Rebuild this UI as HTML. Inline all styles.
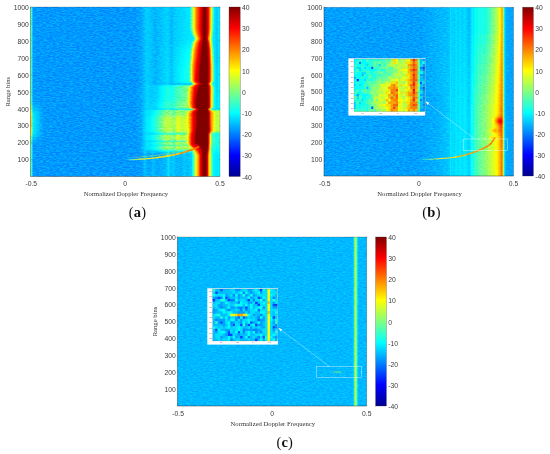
<!DOCTYPE html>
<html><head><meta charset="utf-8"><title>Figure</title>
<style>html,body{margin:0;padding:0;background:#fff}svg{display:block}
text{font-family:"Liberation Sans",sans-serif;fill:#3c3c3c}
.t{font-size:6.8px}.s{font-family:"Liberation Serif",serif;font-size:6.65px;fill:#333}
.c{font-family:"Liberation Serif",serif;font-size:14.5px;letter-spacing:.2px;fill:#111}
</style></head><body>
<svg width="550" height="454" viewBox="0 0 550 454">
<defs><linearGradient id="jet" x1="0" y1="0" x2="0" y2="1"><stop offset="0" stop-color="#800000"/><stop offset=".125" stop-color="#f00"/><stop offset=".375" stop-color="#ff0"/><stop offset=".5" stop-color="#80ff80"/><stop offset=".625" stop-color="#0ff"/><stop offset=".875" stop-color="#00f"/><stop offset="1" stop-color="#00008f"/></linearGradient><filter id="vb" x="-5%" y="-5%" width="110%" height="110%"><feGaussianBlur stdDeviation="0.35 0.7"/></filter><filter id="cb" x="-5%" y="-50%" width="110%" height="200%"><feGaussianBlur stdDeviation="0.5"/></filter><filter id="ib" x="-2%" y="-2%" width="104%" height="104%"><feGaussianBlur stdDeviation="0.45"/></filter><filter id="nz" x="0" y="0" width="100%" height="100%" color-interpolation-filters="sRGB"><feTurbulence type="fractalNoise" baseFrequency="0.3 0.8" numOctaves="2" seed="7"/><feColorMatrix type="matrix" values="2.6 0 0 0 -0.8  2.6 0 0 0 -0.8  2.6 0 0 0 -0.8  0 0 0 0 1"/></filter><clipPath id="ac"><rect x="30.50" y="7.00" width="189.50" height="169.50"/></clipPath><linearGradient id="a0" gradientUnits="userSpaceOnUse" x1="30.5" x2="220.0"><stop offset="0" stop-color="#6f9"/><stop offset=".003" stop-color="#6f9"/><stop offset=".008" stop-color="#01fffe"/><stop offset=".013" stop-color="#09f"/><stop offset=".555" stop-color="#09f"/><stop offset=".582" stop-color="#00a5ff"/><stop offset=".613" stop-color="#00d0ff"/><stop offset=".661" stop-color="#00b4ff"/><stop offset=".724" stop-color="#00d4ff"/><stop offset=".745" stop-color="#00b7ff"/><stop offset=".761" stop-color="#0cf"/><stop offset=".839" stop-color="#00e7ff"/><stop offset=".845" stop-color="#25ffda"/><stop offset=".861" stop-color="#e6ff19"/><stop offset=".866" stop-color="#ffdf00"/><stop offset=".876" stop-color="#ff7900"/><stop offset=".897" stop-color="#f90000"/><stop offset=".913" stop-color="#8d0000"/><stop offset=".918" stop-color="#800000"/><stop offset=".924" stop-color="#800000"/><stop offset=".939" stop-color="#ff0300"/><stop offset=".95" stop-color="#ffc400"/><stop offset=".955" stop-color="#d7ff28"/><stop offset=".966" stop-color="#24ffdb"/><stop offset=".971" stop-color="#00e5ff"/><stop offset=".982" stop-color="#0cf"/><stop offset=".987" stop-color="#00cfff"/><stop offset=".997" stop-color="#00f2ff"/><stop offset="1" stop-color="#00f2ff"/></linearGradient><linearGradient id="a1" gradientUnits="userSpaceOnUse" x1="30.5" x2="220.0"><stop offset="0" stop-color="#6f9"/><stop offset=".003" stop-color="#6f9"/><stop offset=".008" stop-color="#01fffe"/><stop offset=".013" stop-color="#09f"/><stop offset=".555" stop-color="#09f"/><stop offset=".582" stop-color="#00a5ff"/><stop offset=".613" stop-color="#00d0ff"/><stop offset=".661" stop-color="#00b4ff"/><stop offset=".724" stop-color="#00d4ff"/><stop offset=".745" stop-color="#00b7ff"/><stop offset=".761" stop-color="#0cf"/><stop offset=".839" stop-color="#00e7ff"/><stop offset=".845" stop-color="#26ffd9"/><stop offset=".861" stop-color="#ebff14"/><stop offset=".866" stop-color="#ffda00"/><stop offset=".876" stop-color="#ff7600"/><stop offset=".892" stop-color="#ff1500"/><stop offset=".897" stop-color="#f20000"/><stop offset=".913" stop-color="#870000"/><stop offset=".924" stop-color="#800000"/><stop offset=".929" stop-color="#a30000"/><stop offset=".939" stop-color="#ff0300"/><stop offset=".95" stop-color="#ffc800"/><stop offset=".955" stop-color="#d2ff2d"/><stop offset=".966" stop-color="#16ffe9"/><stop offset=".971" stop-color="#00e5ff"/><stop offset=".982" stop-color="#0cf"/><stop offset=".987" stop-color="#00cfff"/><stop offset=".997" stop-color="#00f2ff"/><stop offset="1" stop-color="#00f2ff"/></linearGradient><linearGradient id="a2" gradientUnits="userSpaceOnUse" x1="30.5" x2="220.0"><stop offset="0" stop-color="#6f9"/><stop offset=".003" stop-color="#6f9"/><stop offset=".008" stop-color="#01fffe"/><stop offset=".013" stop-color="#09f"/><stop offset=".555" stop-color="#09f"/><stop offset=".582" stop-color="#00a5ff"/><stop offset=".613" stop-color="#00d0ff"/><stop offset=".661" stop-color="#00b4ff"/><stop offset=".724" stop-color="#00d4ff"/><stop offset=".745" stop-color="#00b7ff"/><stop offset=".761" stop-color="#0cf"/><stop offset=".839" stop-color="#00e7ff"/><stop offset=".845" stop-color="#25ffda"/><stop offset=".861" stop-color="#ef1"/><stop offset=".866" stop-color="#ffd800"/><stop offset=".876" stop-color="#ff7400"/><stop offset=".892" stop-color="#ff1000"/><stop offset=".897" stop-color="#ed0000"/><stop offset=".913" stop-color="#830000"/><stop offset=".924" stop-color="#800000"/><stop offset=".929" stop-color="#a00000"/><stop offset=".939" stop-color="#ff0300"/><stop offset=".95" stop-color="#fc0"/><stop offset=".955" stop-color="#cf3"/><stop offset=".966" stop-color="#0bfff4"/><stop offset=".971" stop-color="#00e5ff"/><stop offset=".982" stop-color="#0cf"/><stop offset=".987" stop-color="#00cfff"/><stop offset=".997" stop-color="#00f2ff"/><stop offset="1" stop-color="#00f2ff"/></linearGradient><linearGradient id="a3" gradientUnits="userSpaceOnUse" x1="30.5" x2="220.0"><stop offset="0" stop-color="#6f9"/><stop offset=".003" stop-color="#6f9"/><stop offset=".008" stop-color="#01fffe"/><stop offset=".013" stop-color="#09f"/><stop offset=".555" stop-color="#09f"/><stop offset=".582" stop-color="#00a5ff"/><stop offset=".613" stop-color="#00d0ff"/><stop offset=".661" stop-color="#00b4ff"/><stop offset=".724" stop-color="#00d4ff"/><stop offset=".745" stop-color="#00b7ff"/><stop offset=".761" stop-color="#0cf"/><stop offset=".839" stop-color="#00e7ff"/><stop offset=".845" stop-color="#0ffff0"/><stop offset=".861" stop-color="#deff21"/><stop offset=".866" stop-color="#ffe300"/><stop offset=".876" stop-color="#ff7c00"/><stop offset=".892" stop-color="#ff1400"/><stop offset=".897" stop-color="#f00000"/><stop offset=".913" stop-color="#820000"/><stop offset=".924" stop-color="#800000"/><stop offset=".929" stop-color="#9f0000"/><stop offset=".939" stop-color="#ff0a00"/><stop offset=".95" stop-color="#ffd700"/><stop offset=".955" stop-color="#c2ff3d"/><stop offset=".966" stop-color="#00feff"/><stop offset=".971" stop-color="#00e5ff"/><stop offset=".982" stop-color="#0cf"/><stop offset=".987" stop-color="#00cfff"/><stop offset=".997" stop-color="#00f2ff"/><stop offset="1" stop-color="#00f2ff"/></linearGradient><linearGradient id="a4" gradientUnits="userSpaceOnUse" x1="30.5" x2="220.0"><stop offset="0" stop-color="#6f9"/><stop offset=".003" stop-color="#6f9"/><stop offset=".008" stop-color="#01fffe"/><stop offset=".013" stop-color="#09f"/><stop offset=".555" stop-color="#09f"/><stop offset=".582" stop-color="#00a5ff"/><stop offset=".613" stop-color="#00d0ff"/><stop offset=".661" stop-color="#00b4ff"/><stop offset=".724" stop-color="#00d4ff"/><stop offset=".745" stop-color="#00b7ff"/><stop offset=".761" stop-color="#0cf"/><stop offset=".839" stop-color="#00e7ff"/><stop offset=".845" stop-color="#00fcff"/><stop offset=".861" stop-color="#d2ff2d"/><stop offset=".866" stop-color="#ffec00"/><stop offset=".876" stop-color="#ff8400"/><stop offset=".892" stop-color="#ff1700"/><stop offset=".897" stop-color="#f20000"/><stop offset=".913" stop-color="#820000"/><stop offset=".924" stop-color="#800000"/><stop offset=".929" stop-color="#9f0000"/><stop offset=".934" stop-color="#cf0000"/><stop offset=".939" stop-color="#ff1000"/><stop offset=".95" stop-color="#ffdf00"/><stop offset=".955" stop-color="#bcff43"/><stop offset=".966" stop-color="#00f8ff"/><stop offset=".982" stop-color="#0cf"/><stop offset=".987" stop-color="#00cfff"/><stop offset=".997" stop-color="#00f2ff"/><stop offset="1" stop-color="#00f2ff"/></linearGradient><linearGradient id="a5" gradientUnits="userSpaceOnUse" x1="30.5" x2="220.0"><stop offset="0" stop-color="#6f9"/><stop offset=".003" stop-color="#6f9"/><stop offset=".008" stop-color="#01fffe"/><stop offset=".013" stop-color="#09f"/><stop offset=".555" stop-color="#09f"/><stop offset=".582" stop-color="#00a5ff"/><stop offset=".613" stop-color="#00d0ff"/><stop offset=".661" stop-color="#00b4ff"/><stop offset=".724" stop-color="#00d4ff"/><stop offset=".745" stop-color="#00b7ff"/><stop offset=".755" stop-color="#00c7ff"/><stop offset=".776" stop-color="#00d4ff"/><stop offset=".845" stop-color="#00e9ff"/><stop offset=".85" stop-color="#34ffcb"/><stop offset=".861" stop-color="#c5ff3a"/><stop offset=".866" stop-color="#fff500"/><stop offset=".876" stop-color="#ff8d00"/><stop offset=".892" stop-color="#ff1b00"/><stop offset=".897" stop-color="#f50000"/><stop offset=".913" stop-color="#820000"/><stop offset=".924" stop-color="#800000"/><stop offset=".929" stop-color="#9f0000"/><stop offset=".934" stop-color="#d00000"/><stop offset=".939" stop-color="#ff1600"/><stop offset=".95" stop-color="#ffe600"/><stop offset=".955" stop-color="#b5ff4a"/><stop offset=".961" stop-color="#54ffab"/><stop offset=".966" stop-color="#00f3ff"/><stop offset=".982" stop-color="#0cf"/><stop offset=".987" stop-color="#00cfff"/><stop offset=".997" stop-color="#00f2ff"/><stop offset="1" stop-color="#00f2ff"/></linearGradient><linearGradient id="a6" gradientUnits="userSpaceOnUse" x1="30.5" x2="220.0"><stop offset="0" stop-color="#6f9"/><stop offset=".003" stop-color="#6f9"/><stop offset=".008" stop-color="#01fffe"/><stop offset=".013" stop-color="#09f"/><stop offset=".555" stop-color="#09f"/><stop offset=".582" stop-color="#00a5ff"/><stop offset=".613" stop-color="#00d0ff"/><stop offset=".661" stop-color="#00b4ff"/><stop offset=".724" stop-color="#00d4ff"/><stop offset=".745" stop-color="#00b7ff"/><stop offset=".755" stop-color="#00c7ff"/><stop offset=".776" stop-color="#00d4ff"/><stop offset=".845" stop-color="#00e9ff"/><stop offset=".85" stop-color="#23ffdc"/><stop offset=".866" stop-color="#fffd00"/><stop offset=".882" stop-color="#ff6b00"/><stop offset=".897" stop-color="#f80000"/><stop offset=".913" stop-color="#820000"/><stop offset=".924" stop-color="#800000"/><stop offset=".929" stop-color="#9f0000"/><stop offset=".934" stop-color="#d20000"/><stop offset=".939" stop-color="#ff1c00"/><stop offset=".95" stop-color="#ffed00"/><stop offset=".955" stop-color="#afff50"/><stop offset=".961" stop-color="#4dffb2"/><stop offset=".966" stop-color="#00edff"/><stop offset=".982" stop-color="#0cf"/><stop offset=".987" stop-color="#00cfff"/><stop offset=".997" stop-color="#00f2ff"/><stop offset="1" stop-color="#00f2ff"/></linearGradient><linearGradient id="a7" gradientUnits="userSpaceOnUse" x1="30.5" x2="220.0"><stop offset="0" stop-color="#6f9"/><stop offset=".003" stop-color="#6f9"/><stop offset=".008" stop-color="#01fffe"/><stop offset=".013" stop-color="#09f"/><stop offset=".555" stop-color="#09f"/><stop offset=".582" stop-color="#00a5ff"/><stop offset=".613" stop-color="#00d0ff"/><stop offset=".661" stop-color="#00b4ff"/><stop offset=".724" stop-color="#00d4ff"/><stop offset=".745" stop-color="#00b7ff"/><stop offset=".755" stop-color="#00c7ff"/><stop offset=".776" stop-color="#00d4ff"/><stop offset=".845" stop-color="#00e9ff"/><stop offset=".85" stop-color="#1fe"/><stop offset=".866" stop-color="#f5ff0a"/><stop offset=".871" stop-color="#ffd300"/><stop offset=".882" stop-color="#ff7100"/><stop offset=".897" stop-color="#fb0000"/><stop offset=".913" stop-color="#820000"/><stop offset=".924" stop-color="#800000"/><stop offset=".929" stop-color="#9f0000"/><stop offset=".934" stop-color="#d30000"/><stop offset=".939" stop-color="#f20"/><stop offset=".945" stop-color="#ff9100"/><stop offset=".95" stop-color="#fff400"/><stop offset=".961" stop-color="#46ffb9"/><stop offset=".966" stop-color="#00e7ff"/><stop offset=".971" stop-color="#00e5ff"/><stop offset=".982" stop-color="#0cf"/><stop offset=".987" stop-color="#00cfff"/><stop offset=".997" stop-color="#00f2ff"/><stop offset="1" stop-color="#00f2ff"/></linearGradient><linearGradient id="a8" gradientUnits="userSpaceOnUse" x1="30.5" x2="220.0"><stop offset="0" stop-color="#6f9"/><stop offset=".003" stop-color="#6f9"/><stop offset=".008" stop-color="#01fffe"/><stop offset=".013" stop-color="#09f"/><stop offset=".555" stop-color="#09f"/><stop offset=".582" stop-color="#00a5ff"/><stop offset=".613" stop-color="#00d0ff"/><stop offset=".661" stop-color="#00b4ff"/><stop offset=".724" stop-color="#00d4ff"/><stop offset=".745" stop-color="#00b7ff"/><stop offset=".761" stop-color="#0cf"/><stop offset=".845" stop-color="#00e9ff"/><stop offset=".85" stop-color="#00f2ff"/><stop offset=".855" stop-color="#42ffbd"/><stop offset=".866" stop-color="#deff21"/><stop offset=".871" stop-color="#ffe100"/><stop offset=".882" stop-color="#ff7c00"/><stop offset=".897" stop-color="#f00"/><stop offset=".903" stop-color="#da0000"/><stop offset=".913" stop-color="#830000"/><stop offset=".918" stop-color="#800000"/><stop offset=".924" stop-color="#800000"/><stop offset=".929" stop-color="#9f0000"/><stop offset=".934" stop-color="#d60000"/><stop offset=".939" stop-color="#ff2c00"/><stop offset=".945" stop-color="#ff9c00"/><stop offset=".95" stop-color="#fffc00"/><stop offset=".961" stop-color="#3fffc0"/><stop offset=".966" stop-color="#00e5ff"/><stop offset=".971" stop-color="#00e5ff"/><stop offset=".982" stop-color="#0cf"/><stop offset=".987" stop-color="#00cfff"/><stop offset=".997" stop-color="#00f2ff"/><stop offset="1" stop-color="#00f2ff"/></linearGradient><linearGradient id="a9" gradientUnits="userSpaceOnUse" x1="30.5" x2="220.0"><stop offset="0" stop-color="#6f9"/><stop offset=".003" stop-color="#6f9"/><stop offset=".008" stop-color="#01fffe"/><stop offset=".013" stop-color="#09f"/><stop offset=".555" stop-color="#09f"/><stop offset=".582" stop-color="#00a5ff"/><stop offset=".613" stop-color="#00d0ff"/><stop offset=".661" stop-color="#00b4ff"/><stop offset=".724" stop-color="#00d4ff"/><stop offset=".745" stop-color="#00b7ff"/><stop offset=".755" stop-color="#00c7ff"/><stop offset=".776" stop-color="#00d4ff"/><stop offset=".85" stop-color="#00eaff"/><stop offset=".855" stop-color="#19ffe6"/><stop offset=".866" stop-color="#baff45"/><stop offset=".871" stop-color="#fff700"/><stop offset=".882" stop-color="#ff9000"/><stop offset=".897" stop-color="#ff0600"/><stop offset=".903" stop-color="#de0000"/><stop offset=".913" stop-color="#840000"/><stop offset=".918" stop-color="#800000"/><stop offset=".924" stop-color="#800000"/><stop offset=".929" stop-color="#9f0000"/><stop offset=".934" stop-color="#da0000"/><stop offset=".939" stop-color="#ff3b00"/><stop offset=".945" stop-color="#ffab00"/><stop offset=".95" stop-color="#f7ff08"/><stop offset=".961" stop-color="#36ffc9"/><stop offset=".966" stop-color="#00e5ff"/><stop offset=".971" stop-color="#00e5ff"/><stop offset=".982" stop-color="#0cf"/><stop offset=".987" stop-color="#00cfff"/><stop offset=".997" stop-color="#00f2ff"/><stop offset="1" stop-color="#00f2ff"/></linearGradient><linearGradient id="a10" gradientUnits="userSpaceOnUse" x1="30.5" x2="220.0"><stop offset="0" stop-color="#6f9"/><stop offset=".003" stop-color="#6f9"/><stop offset=".008" stop-color="#01fffe"/><stop offset=".013" stop-color="#09f"/><stop offset=".555" stop-color="#09f"/><stop offset=".582" stop-color="#00a5ff"/><stop offset=".613" stop-color="#00d0ff"/><stop offset=".661" stop-color="#00b4ff"/><stop offset=".724" stop-color="#00d4ff"/><stop offset=".745" stop-color="#00b7ff"/><stop offset=".755" stop-color="#00c7ff"/><stop offset=".776" stop-color="#00d4ff"/><stop offset=".855" stop-color="#00ebff"/><stop offset=".861" stop-color="#40ffbf"/><stop offset=".871" stop-color="#e7ff18"/><stop offset=".876" stop-color="#ffda00"/><stop offset=".897" stop-color="#ff0d00"/><stop offset=".903" stop-color="#e30000"/><stop offset=".908" stop-color="#b00"/><stop offset=".913" stop-color="#850000"/><stop offset=".918" stop-color="#800000"/><stop offset=".924" stop-color="#800000"/><stop offset=".929" stop-color="#a00000"/><stop offset=".934" stop-color="#de0000"/><stop offset=".939" stop-color="#ff4d00"/><stop offset=".945" stop-color="#ffb800"/><stop offset=".95" stop-color="#edff12"/><stop offset=".961" stop-color="#2dffd2"/><stop offset=".966" stop-color="#00e5ff"/><stop offset=".971" stop-color="#00e5ff"/><stop offset=".982" stop-color="#0cf"/><stop offset=".987" stop-color="#00cfff"/><stop offset=".997" stop-color="#00f2ff"/><stop offset="1" stop-color="#00f2ff"/></linearGradient><linearGradient id="a11" gradientUnits="userSpaceOnUse" x1="30.5" x2="220.0"><stop offset="0" stop-color="#6f9"/><stop offset=".003" stop-color="#6f9"/><stop offset=".008" stop-color="#01fffe"/><stop offset=".013" stop-color="#09f"/><stop offset=".555" stop-color="#09f"/><stop offset=".582" stop-color="#00a5ff"/><stop offset=".613" stop-color="#00d0ff"/><stop offset=".661" stop-color="#00b4ff"/><stop offset=".724" stop-color="#00d4ff"/><stop offset=".745" stop-color="#00b7ff"/><stop offset=".755" stop-color="#00c7ff"/><stop offset=".776" stop-color="#00d4ff"/><stop offset=".855" stop-color="#00ebff"/><stop offset=".861" stop-color="#13ffec"/><stop offset=".871" stop-color="#c0ff3f"/><stop offset=".876" stop-color="#fff000"/><stop offset=".897" stop-color="#ff1600"/><stop offset=".903" stop-color="#e70000"/><stop offset=".908" stop-color="#c00000"/><stop offset=".913" stop-color="#870000"/><stop offset=".918" stop-color="#800000"/><stop offset=".924" stop-color="#800000"/><stop offset=".929" stop-color="#a10000"/><stop offset=".934" stop-color="#e30000"/><stop offset=".939" stop-color="#ff6300"/><stop offset=".945" stop-color="#ffc400"/><stop offset=".95" stop-color="#e3ff1c"/><stop offset=".961" stop-color="#25ffda"/><stop offset=".966" stop-color="#00e5ff"/><stop offset=".971" stop-color="#00e5ff"/><stop offset=".982" stop-color="#0cf"/><stop offset=".987" stop-color="#00cfff"/><stop offset=".997" stop-color="#00f2ff"/><stop offset="1" stop-color="#00f2ff"/></linearGradient><linearGradient id="a12" gradientUnits="userSpaceOnUse" x1="30.5" x2="220.0"><stop offset="0" stop-color="#6f9"/><stop offset=".003" stop-color="#6f9"/><stop offset=".008" stop-color="#01fffe"/><stop offset=".013" stop-color="#09f"/><stop offset=".555" stop-color="#09f"/><stop offset=".582" stop-color="#00a5ff"/><stop offset=".613" stop-color="#00d0ff"/><stop offset=".661" stop-color="#00b4ff"/><stop offset=".724" stop-color="#00d4ff"/><stop offset=".745" stop-color="#00b8ff"/><stop offset=".755" stop-color="#00c8ff"/><stop offset=".776" stop-color="#00d4ff"/><stop offset=".861" stop-color="#00ecff"/><stop offset=".866" stop-color="#3dffc2"/><stop offset=".876" stop-color="#f1ff0e"/><stop offset=".882" stop-color="#ffd200"/><stop offset=".887" stop-color="#ff9d00"/><stop offset=".897" stop-color="#f20"/><stop offset=".903" stop-color="#ec0000"/><stop offset=".908" stop-color="#c50000"/><stop offset=".913" stop-color="#890000"/><stop offset=".918" stop-color="#800000"/><stop offset=".924" stop-color="#800000"/><stop offset=".929" stop-color="#a10000"/><stop offset=".934" stop-color="#e90000"/><stop offset=".939" stop-color="#ff7f00"/><stop offset=".945" stop-color="#ffcf00"/><stop offset=".95" stop-color="#d9ff26"/><stop offset=".961" stop-color="#1cffe3"/><stop offset=".966" stop-color="#00e5ff"/><stop offset=".971" stop-color="#00e5ff"/><stop offset=".982" stop-color="#0cf"/><stop offset=".987" stop-color="#00cfff"/><stop offset=".997" stop-color="#00f2ff"/><stop offset="1" stop-color="#00f2ff"/></linearGradient><linearGradient id="a13" gradientUnits="userSpaceOnUse" x1="30.5" x2="220.0"><stop offset="0" stop-color="#6f9"/><stop offset=".003" stop-color="#6f9"/><stop offset=".008" stop-color="#01fffe"/><stop offset=".013" stop-color="#09f"/><stop offset=".555" stop-color="#09f"/><stop offset=".582" stop-color="#00a5ff"/><stop offset=".613" stop-color="#00d0ff"/><stop offset=".661" stop-color="#00b4ff"/><stop offset=".724" stop-color="#00d5ff"/><stop offset=".745" stop-color="#00b8ff"/><stop offset=".755" stop-color="#00c8ff"/><stop offset=".776" stop-color="#00d5ff"/><stop offset=".855" stop-color="#0ef"/><stop offset=".861" stop-color="#02fffd"/><stop offset=".871" stop-color="#b6ff49"/><stop offset=".876" stop-color="#fff500"/><stop offset=".887" stop-color="#ff8a00"/><stop offset=".897" stop-color="#f10"/><stop offset=".903" stop-color="#e30000"/><stop offset=".908" stop-color="#bc0000"/><stop offset=".913" stop-color="#810000"/><stop offset=".918" stop-color="#800000"/><stop offset=".924" stop-color="#800000"/><stop offset=".929" stop-color="#9a0000"/><stop offset=".934" stop-color="#de0000"/><stop offset=".939" stop-color="#ff6800"/><stop offset=".945" stop-color="#ffc700"/><stop offset=".95" stop-color="#e1ff1e"/><stop offset=".961" stop-color="#2fd"/><stop offset=".966" stop-color="#00e5ff"/><stop offset=".971" stop-color="#00e5ff"/><stop offset=".982" stop-color="#0cf"/><stop offset=".987" stop-color="#00cfff"/><stop offset=".997" stop-color="#00f2ff"/><stop offset="1" stop-color="#00f2ff"/></linearGradient><linearGradient id="a14" gradientUnits="userSpaceOnUse" x1="30.5" x2="220.0"><stop offset="0" stop-color="#6f9"/><stop offset=".003" stop-color="#6f9"/><stop offset=".008" stop-color="#01fffe"/><stop offset=".013" stop-color="#09f"/><stop offset=".555" stop-color="#09f"/><stop offset=".582" stop-color="#00a5ff"/><stop offset=".613" stop-color="#00d0ff"/><stop offset=".661" stop-color="#00b4ff"/><stop offset=".724" stop-color="#00d5ff"/><stop offset=".745" stop-color="#00b9ff"/><stop offset=".755" stop-color="#00c9ff"/><stop offset=".776" stop-color="#00d6ff"/><stop offset=".855" stop-color="#00f0ff"/><stop offset=".861" stop-color="#34ffcb"/><stop offset=".871" stop-color="#e5ff1a"/><stop offset=".876" stop-color="#ffd900"/><stop offset=".897" stop-color="#fd0000"/><stop offset=".913" stop-color="#800000"/><stop offset=".924" stop-color="#800000"/><stop offset=".929" stop-color="#910000"/><stop offset=".934" stop-color="#d00000"/><stop offset=".939" stop-color="#ff4500"/><stop offset=".945" stop-color="#ffb800"/><stop offset=".95" stop-color="#ef1"/><stop offset=".961" stop-color="#2bffd4"/><stop offset=".966" stop-color="#00e5ff"/><stop offset=".971" stop-color="#00e5ff"/><stop offset=".982" stop-color="#0cf"/><stop offset=".987" stop-color="#00cfff"/><stop offset=".997" stop-color="#00f2ff"/><stop offset="1" stop-color="#00f2ff"/></linearGradient><linearGradient id="a15" gradientUnits="userSpaceOnUse" x1="30.5" x2="220.0"><stop offset="0" stop-color="#6f9"/><stop offset=".003" stop-color="#6f9"/><stop offset=".008" stop-color="#01fffe"/><stop offset=".013" stop-color="#09f"/><stop offset=".555" stop-color="#09f"/><stop offset=".582" stop-color="#00a5ff"/><stop offset=".613" stop-color="#00d0ff"/><stop offset=".661" stop-color="#00b4ff"/><stop offset=".724" stop-color="#00d5ff"/><stop offset=".745" stop-color="#00b9ff"/><stop offset=".761" stop-color="#00ceff"/><stop offset=".85" stop-color="#00f2ff"/><stop offset=".855" stop-color="#0efff1"/><stop offset=".866" stop-color="#bcff43"/><stop offset=".871" stop-color="#fff300"/><stop offset=".892" stop-color="#ff1f00"/><stop offset=".897" stop-color="#f10000"/><stop offset=".913" stop-color="#800000"/><stop offset=".929" stop-color="#800"/><stop offset=".934" stop-color="#c10000"/><stop offset=".939" stop-color="#ff2500"/><stop offset=".945" stop-color="#ffa900"/><stop offset=".95" stop-color="#fbff04"/><stop offset=".961" stop-color="#35ffca"/><stop offset=".966" stop-color="#00e5ff"/><stop offset=".971" stop-color="#00e5ff"/><stop offset=".982" stop-color="#0cf"/><stop offset=".987" stop-color="#00cfff"/><stop offset=".997" stop-color="#00f2ff"/><stop offset="1" stop-color="#00f2ff"/></linearGradient><linearGradient id="a16" gradientUnits="userSpaceOnUse" x1="30.5" x2="220.0"><stop offset="0" stop-color="#6f9"/><stop offset=".003" stop-color="#6f9"/><stop offset=".008" stop-color="#01fffe"/><stop offset=".013" stop-color="#09f"/><stop offset=".555" stop-color="#09f"/><stop offset=".582" stop-color="#00a5ff"/><stop offset=".613" stop-color="#00d0ff"/><stop offset=".661" stop-color="#00b4ff"/><stop offset=".724" stop-color="#00d6ff"/><stop offset=".745" stop-color="#00baff"/><stop offset=".761" stop-color="#00cfff"/><stop offset=".85" stop-color="#00f4ff"/><stop offset=".855" stop-color="#3fffc0"/><stop offset=".866" stop-color="#eaff15"/><stop offset=".871" stop-color="#ffd600"/><stop offset=".892" stop-color="#ff0c00"/><stop offset=".897" stop-color="#e70000"/><stop offset=".908" stop-color="#9a0000"/><stop offset=".913" stop-color="#800000"/><stop offset=".929" stop-color="#800000"/><stop offset=".934" stop-color="#b70000"/><stop offset=".939" stop-color="#ff0700"/><stop offset=".945" stop-color="#ff9700"/><stop offset=".95" stop-color="#fff600"/><stop offset=".961" stop-color="#3fffc0"/><stop offset=".966" stop-color="#00e5ff"/><stop offset=".971" stop-color="#00e5ff"/><stop offset=".982" stop-color="#0cf"/><stop offset=".987" stop-color="#00cfff"/><stop offset=".997" stop-color="#00f2ff"/><stop offset="1" stop-color="#00f2ff"/></linearGradient><linearGradient id="a17" gradientUnits="userSpaceOnUse" x1="30.5" x2="220.0"><stop offset="0" stop-color="#6f9"/><stop offset=".003" stop-color="#6f9"/><stop offset=".008" stop-color="#01fffe"/><stop offset=".013" stop-color="#09f"/><stop offset=".555" stop-color="#09f"/><stop offset=".582" stop-color="#00a5ff"/><stop offset=".613" stop-color="#00d0ff"/><stop offset=".661" stop-color="#00b4ff"/><stop offset=".724" stop-color="#00d6ff"/><stop offset=".745" stop-color="#00baff"/><stop offset=".761" stop-color="#00d0ff"/><stop offset=".845" stop-color="#00f5ff"/><stop offset=".85" stop-color="#0efff1"/><stop offset=".861" stop-color="#b7ff48"/><stop offset=".866" stop-color="#fff600"/><stop offset=".876" stop-color="#f80"/><stop offset=".892" stop-color="#fe0000"/><stop offset=".903" stop-color="#bf0000"/><stop offset=".908" stop-color="#920000"/><stop offset=".913" stop-color="#800000"/><stop offset=".929" stop-color="#800000"/><stop offset=".934" stop-color="#af0000"/><stop offset=".939" stop-color="#f60000"/><stop offset=".945" stop-color="#f80"/><stop offset=".95" stop-color="#ffea00"/><stop offset=".955" stop-color="#aeff51"/><stop offset=".961" stop-color="#48ffb7"/><stop offset=".966" stop-color="#00e6ff"/><stop offset=".971" stop-color="#00e5ff"/><stop offset=".982" stop-color="#0cf"/><stop offset=".987" stop-color="#00cfff"/><stop offset=".997" stop-color="#00f2ff"/><stop offset="1" stop-color="#00f2ff"/></linearGradient><linearGradient id="a18" gradientUnits="userSpaceOnUse" x1="30.5" x2="220.0"><stop offset="0" stop-color="#6f9"/><stop offset=".003" stop-color="#6f9"/><stop offset=".008" stop-color="#01fffe"/><stop offset=".013" stop-color="#09f"/><stop offset=".555" stop-color="#09f"/><stop offset=".582" stop-color="#00a5ff"/><stop offset=".613" stop-color="#00d0ff"/><stop offset=".661" stop-color="#00b4ff"/><stop offset=".724" stop-color="#00d7ff"/><stop offset=".745" stop-color="#0bf"/><stop offset=".761" stop-color="#00d1ff"/><stop offset=".845" stop-color="#00f7ff"/><stop offset=".85" stop-color="#20ffdf"/><stop offset=".861" stop-color="#cbff34"/><stop offset=".866" stop-color="#ffea00"/><stop offset=".876" stop-color="#ff7c00"/><stop offset=".892" stop-color="#f90000"/><stop offset=".903" stop-color="#ba0000"/><stop offset=".908" stop-color="#8d0000"/><stop offset=".913" stop-color="#800000"/><stop offset=".929" stop-color="#800000"/><stop offset=".934" stop-color="#ab0000"/><stop offset=".939" stop-color="#e00"/><stop offset=".945" stop-color="#ff7b00"/><stop offset=".95" stop-color="#ffe100"/><stop offset=".955" stop-color="#b6ff49"/><stop offset=".961" stop-color="#4fffb0"/><stop offset=".966" stop-color="#00ebff"/><stop offset=".982" stop-color="#0cf"/><stop offset=".987" stop-color="#00cfff"/><stop offset=".997" stop-color="#00f2ff"/><stop offset="1" stop-color="#00f2ff"/></linearGradient><linearGradient id="a19" gradientUnits="userSpaceOnUse" x1="30.5" x2="220.0"><stop offset="0" stop-color="#6f9"/><stop offset=".003" stop-color="#6f9"/><stop offset=".008" stop-color="#01fffe"/><stop offset=".013" stop-color="#09f"/><stop offset=".555" stop-color="#09f"/><stop offset=".582" stop-color="#00a5ff"/><stop offset=".613" stop-color="#00d0ff"/><stop offset=".661" stop-color="#00b4ff"/><stop offset=".724" stop-color="#00d7ff"/><stop offset=".745" stop-color="#0bf"/><stop offset=".761" stop-color="#00d1ff"/><stop offset=".845" stop-color="#00f9ff"/><stop offset=".85" stop-color="#32ffcd"/><stop offset=".861" stop-color="#deff21"/><stop offset=".866" stop-color="#fd0"/><stop offset=".876" stop-color="#ff7200"/><stop offset=".887" stop-color="#ff1c00"/><stop offset=".892" stop-color="#f40000"/><stop offset=".903" stop-color="#b40000"/><stop offset=".908" stop-color="#800"/><stop offset=".913" stop-color="#800000"/><stop offset=".929" stop-color="#800000"/><stop offset=".934" stop-color="#a60000"/><stop offset=".939" stop-color="#e60000"/><stop offset=".945" stop-color="#ff6900"/><stop offset=".95" stop-color="#ffd800"/><stop offset=".955" stop-color="#beff41"/><stop offset=".961" stop-color="#56ffa9"/><stop offset=".966" stop-color="#00f0ff"/><stop offset=".982" stop-color="#0cf"/><stop offset=".987" stop-color="#00cfff"/><stop offset=".997" stop-color="#00f2ff"/><stop offset="1" stop-color="#00f2ff"/></linearGradient><linearGradient id="a20" gradientUnits="userSpaceOnUse" x1="30.5" x2="220.0"><stop offset="0" stop-color="#6f9"/><stop offset=".003" stop-color="#6f9"/><stop offset=".008" stop-color="#01fffe"/><stop offset=".013" stop-color="#09f"/><stop offset=".555" stop-color="#09f"/><stop offset=".582" stop-color="#00a5ff"/><stop offset=".613" stop-color="#00d0ff"/><stop offset=".661" stop-color="#00b4ff"/><stop offset=".724" stop-color="#00d7ff"/><stop offset=".745" stop-color="#00bcff"/><stop offset=".761" stop-color="#00d2ff"/><stop offset=".845" stop-color="#00fcff"/><stop offset=".85" stop-color="#45ffba"/><stop offset=".861" stop-color="#f1ff0e"/><stop offset=".866" stop-color="#ffd000"/><stop offset=".876" stop-color="#ff6900"/><stop offset=".887" stop-color="#ff1400"/><stop offset=".892" stop-color="#ef0000"/><stop offset=".903" stop-color="#ae0000"/><stop offset=".908" stop-color="#820000"/><stop offset=".913" stop-color="#800000"/><stop offset=".929" stop-color="#800000"/><stop offset=".934" stop-color="#a30000"/><stop offset=".939" stop-color="#de0000"/><stop offset=".945" stop-color="#ff5900"/><stop offset=".95" stop-color="#ffce00"/><stop offset=".955" stop-color="#c7ff38"/><stop offset=".961" stop-color="#5dffa2"/><stop offset=".966" stop-color="#00f4ff"/><stop offset=".982" stop-color="#0cf"/><stop offset=".987" stop-color="#00cfff"/><stop offset=".997" stop-color="#00f2ff"/><stop offset="1" stop-color="#00f2ff"/></linearGradient><linearGradient id="a21" gradientUnits="userSpaceOnUse" x1="30.5" x2="220.0"><stop offset="0" stop-color="#6f9"/><stop offset=".003" stop-color="#6f9"/><stop offset=".008" stop-color="#01fffe"/><stop offset=".013" stop-color="#09f"/><stop offset=".555" stop-color="#09f"/><stop offset=".582" stop-color="#00a5ff"/><stop offset=".613" stop-color="#00d0ff"/><stop offset=".661" stop-color="#00b4ff"/><stop offset=".724" stop-color="#00d8ff"/><stop offset=".745" stop-color="#00bcff"/><stop offset=".761" stop-color="#00d3ff"/><stop offset=".839" stop-color="#00fcff"/><stop offset=".845" stop-color="#01fffe"/><stop offset=".861" stop-color="#fffb00"/><stop offset=".871" stop-color="#ff8c00"/><stop offset=".876" stop-color="#ff6000"/><stop offset=".887" stop-color="#ff0c00"/><stop offset=".892" stop-color="#ea0000"/><stop offset=".897" stop-color="#cd0000"/><stop offset=".908" stop-color="#800000"/><stop offset=".929" stop-color="#800000"/><stop offset=".934" stop-color="#9f0000"/><stop offset=".939" stop-color="#d70000"/><stop offset=".945" stop-color="#ff4800"/><stop offset=".95" stop-color="#ffc300"/><stop offset=".955" stop-color="#cfff30"/><stop offset=".966" stop-color="#00f9ff"/><stop offset=".982" stop-color="#0cf"/><stop offset=".987" stop-color="#00cfff"/><stop offset=".997" stop-color="#00f2ff"/><stop offset="1" stop-color="#00f2ff"/></linearGradient><linearGradient id="a22" gradientUnits="userSpaceOnUse" x1="30.5" x2="220.0"><stop offset="0" stop-color="#6f9"/><stop offset=".003" stop-color="#6f9"/><stop offset=".008" stop-color="#01fffe"/><stop offset=".013" stop-color="#09f"/><stop offset=".555" stop-color="#09f"/><stop offset=".582" stop-color="#00a5ff"/><stop offset=".613" stop-color="#00d0ff"/><stop offset=".661" stop-color="#00b4ff"/><stop offset=".724" stop-color="#00d8ff"/><stop offset=".745" stop-color="#00bdff"/><stop offset=".761" stop-color="#00d3ff"/><stop offset=".839" stop-color="#00feff"/><stop offset=".845" stop-color="#14ffeb"/><stop offset=".855" stop-color="#c2ff3d"/><stop offset=".861" stop-color="#fe0"/><stop offset=".871" stop-color="#ff8000"/><stop offset=".887" stop-color="#ff0500"/><stop offset=".892" stop-color="#e60000"/><stop offset=".908" stop-color="#800000"/><stop offset=".929" stop-color="#800000"/><stop offset=".934" stop-color="#9b0000"/><stop offset=".939" stop-color="#cf0000"/><stop offset=".945" stop-color="#ff3900"/><stop offset=".95" stop-color="#ffb800"/><stop offset=".955" stop-color="#d8ff27"/><stop offset=".966" stop-color="#00feff"/><stop offset=".971" stop-color="#00e5ff"/><stop offset=".982" stop-color="#0cf"/><stop offset=".987" stop-color="#00cfff"/><stop offset=".997" stop-color="#00f2ff"/><stop offset="1" stop-color="#00f2ff"/></linearGradient><linearGradient id="a23" gradientUnits="userSpaceOnUse" x1="30.5" x2="220.0"><stop offset="0" stop-color="#6f9"/><stop offset=".003" stop-color="#6f9"/><stop offset=".008" stop-color="#01fffe"/><stop offset=".013" stop-color="#09f"/><stop offset=".103" stop-color="#09f"/><stop offset=".555" stop-color="#09f"/><stop offset=".582" stop-color="#00a5ff"/><stop offset=".613" stop-color="#00d0ff"/><stop offset=".661" stop-color="#00b4ff"/><stop offset=".724" stop-color="#00d8ff"/><stop offset=".745" stop-color="#00beff"/><stop offset=".761" stop-color="#00d4ff"/><stop offset=".839" stop-color="#01fffe"/><stop offset=".845" stop-color="#27ffd8"/><stop offset=".855" stop-color="#d6ff29"/><stop offset=".861" stop-color="#ffe200"/><stop offset=".871" stop-color="#f70"/><stop offset=".887" stop-color="#fe0000"/><stop offset=".897" stop-color="#c60000"/><stop offset=".908" stop-color="#800000"/><stop offset=".929" stop-color="#800000"/><stop offset=".934" stop-color="#980000"/><stop offset=".939" stop-color="#c70000"/><stop offset=".945" stop-color="#ff2a00"/><stop offset=".95" stop-color="#ffad00"/><stop offset=".955" stop-color="#e1ff1e"/><stop offset=".966" stop-color="#05fffa"/><stop offset=".971" stop-color="#00e5ff"/><stop offset=".982" stop-color="#0cf"/><stop offset=".987" stop-color="#00cfff"/><stop offset=".997" stop-color="#00f2ff"/><stop offset="1" stop-color="#00f2ff"/></linearGradient><linearGradient id="a24" gradientUnits="userSpaceOnUse" x1="30.5" x2="220.0"><stop offset="0" stop-color="#6f9"/><stop offset=".003" stop-color="#6f9"/><stop offset=".008" stop-color="#01fffe"/><stop offset=".013" stop-color="#09f"/><stop offset=".555" stop-color="#09f"/><stop offset=".582" stop-color="#00a5ff"/><stop offset=".613" stop-color="#00d0ff"/><stop offset=".661" stop-color="#00b4ff"/><stop offset=".724" stop-color="#00d9ff"/><stop offset=".745" stop-color="#00bfff"/><stop offset=".761" stop-color="#00d6ff"/><stop offset=".829" stop-color="#00feff"/><stop offset=".839" stop-color="#05fffa"/><stop offset=".845" stop-color="#3affc5"/><stop offset=".855" stop-color="#ebff14"/><stop offset=".861" stop-color="#ffd300"/><stop offset=".871" stop-color="#ff6b00"/><stop offset=".882" stop-color="#ff1b00"/><stop offset=".887" stop-color="#f70000"/><stop offset=".897" stop-color="#c00000"/><stop offset=".903" stop-color="#960000"/><stop offset=".908" stop-color="#800000"/><stop offset=".929" stop-color="#800000"/><stop offset=".934" stop-color="#930000"/><stop offset=".939" stop-color="#bf0000"/><stop offset=".945" stop-color="#ff1b00"/><stop offset=".95" stop-color="#ff9f00"/><stop offset=".955" stop-color="#edff12"/><stop offset=".966" stop-color="#10ffef"/><stop offset=".971" stop-color="#00e5ff"/><stop offset=".982" stop-color="#0cf"/><stop offset=".987" stop-color="#00cfff"/><stop offset=".997" stop-color="#00f2ff"/><stop offset="1" stop-color="#00f2ff"/></linearGradient><linearGradient id="a25" gradientUnits="userSpaceOnUse" x1="30.5" x2="220.0"><stop offset="0" stop-color="#6f9"/><stop offset=".003" stop-color="#6f9"/><stop offset=".008" stop-color="#01fffe"/><stop offset=".013" stop-color="#09f"/><stop offset=".555" stop-color="#09f"/><stop offset=".582" stop-color="#00a5ff"/><stop offset=".613" stop-color="#00d0ff"/><stop offset=".661" stop-color="#00b4ff"/><stop offset=".724" stop-color="#00daff"/><stop offset=".745" stop-color="#00c0ff"/><stop offset=".761" stop-color="#00d7ff"/><stop offset=".824" stop-color="#00fdff"/><stop offset=".839" stop-color="#09fff6"/><stop offset=".845" stop-color="#48ffb7"/><stop offset=".855" stop-color="#faff05"/><stop offset=".866" stop-color="#ff8b00"/><stop offset=".871" stop-color="#ff6000"/><stop offset=".882" stop-color="#ff1000"/><stop offset=".887" stop-color="#ef0000"/><stop offset=".897" stop-color="#b70000"/><stop offset=".903" stop-color="#8b0000"/><stop offset=".908" stop-color="#800000"/><stop offset=".929" stop-color="#800000"/><stop offset=".934" stop-color="#8e0000"/><stop offset=".939" stop-color="#bc0000"/><stop offset=".945" stop-color="#ff1200"/><stop offset=".95" stop-color="#ff9300"/><stop offset=".955" stop-color="#f8ff07"/><stop offset=".966" stop-color="#1dffe2"/><stop offset=".971" stop-color="#00e5ff"/><stop offset=".982" stop-color="#0cf"/><stop offset=".987" stop-color="#00cfff"/><stop offset=".997" stop-color="#00f2ff"/><stop offset="1" stop-color="#00f2ff"/></linearGradient><linearGradient id="a26" gradientUnits="userSpaceOnUse" x1="30.5" x2="220.0"><stop offset="0" stop-color="#6f9"/><stop offset=".003" stop-color="#6f9"/><stop offset=".008" stop-color="#01fffe"/><stop offset=".013" stop-color="#09f"/><stop offset=".555" stop-color="#09f"/><stop offset=".582" stop-color="#00a5ff"/><stop offset=".613" stop-color="#00d0ff"/><stop offset=".661" stop-color="#00b5ff"/><stop offset=".724" stop-color="#00daff"/><stop offset=".745" stop-color="#00c0ff"/><stop offset=".761" stop-color="#00d8ff"/><stop offset=".818" stop-color="#00fcff"/><stop offset=".839" stop-color="#0cfff3"/><stop offset=".845" stop-color="#56ffa9"/><stop offset=".85" stop-color="#b0ff4f"/><stop offset=".855" stop-color="#fff700"/><stop offset=".866" stop-color="#ff7d00"/><stop offset=".882" stop-color="#ff0500"/><stop offset=".887" stop-color="#e80000"/><stop offset=".897" stop-color="#ad0000"/><stop offset=".903" stop-color="#810000"/><stop offset=".929" stop-color="#800000"/><stop offset=".934" stop-color="#870000"/><stop offset=".939" stop-color="#b90000"/><stop offset=".945" stop-color="#ff0a00"/><stop offset=".955" stop-color="#fffa00"/><stop offset=".966" stop-color="#2affd5"/><stop offset=".971" stop-color="#00e5ff"/><stop offset=".982" stop-color="#0cf"/><stop offset=".987" stop-color="#00cfff"/><stop offset=".997" stop-color="#00f2ff"/><stop offset="1" stop-color="#00f2ff"/></linearGradient><linearGradient id="a27" gradientUnits="userSpaceOnUse" x1="30.5" x2="220.0"><stop offset="0" stop-color="#6f9"/><stop offset=".003" stop-color="#6f9"/><stop offset=".008" stop-color="#01fffe"/><stop offset=".013" stop-color="#09f"/><stop offset=".555" stop-color="#09f"/><stop offset=".582" stop-color="#00a5ff"/><stop offset=".613" stop-color="#00d0ff"/><stop offset=".661" stop-color="#00b5ff"/><stop offset=".724" stop-color="#00dbff"/><stop offset=".745" stop-color="#00c1ff"/><stop offset=".761" stop-color="#00d9ff"/><stop offset=".818" stop-color="#0ff"/><stop offset=".839" stop-color="#0ffff0"/><stop offset=".85" stop-color="#bfff40"/><stop offset=".855" stop-color="#ffeb00"/><stop offset=".866" stop-color="#ff7100"/><stop offset=".882" stop-color="#fb0000"/><stop offset=".892" stop-color="#c90000"/><stop offset=".903" stop-color="#800000"/><stop offset=".929" stop-color="#800000"/><stop offset=".934" stop-color="#810000"/><stop offset=".939" stop-color="#b60000"/><stop offset=".945" stop-color="#ff0200"/><stop offset=".955" stop-color="#ffef00"/><stop offset=".961" stop-color="#a2ff5d"/><stop offset=".966" stop-color="#36ffc9"/><stop offset=".971" stop-color="#00e5ff"/><stop offset=".982" stop-color="#0cf"/><stop offset=".987" stop-color="#00cfff"/><stop offset=".997" stop-color="#00f2ff"/><stop offset="1" stop-color="#00f2ff"/></linearGradient><linearGradient id="a28" gradientUnits="userSpaceOnUse" x1="30.5" x2="220.0"><stop offset="0" stop-color="#6f9"/><stop offset=".003" stop-color="#6f9"/><stop offset=".008" stop-color="#01fffe"/><stop offset=".013" stop-color="#09f"/><stop offset=".555" stop-color="#09f"/><stop offset=".582" stop-color="#00a5ff"/><stop offset=".613" stop-color="#00d0ff"/><stop offset=".661" stop-color="#00b5ff"/><stop offset=".724" stop-color="#00dbff"/><stop offset=".745" stop-color="#00c2ff"/><stop offset=".761" stop-color="#00daff"/><stop offset=".813" stop-color="#00fcff"/><stop offset=".839" stop-color="#14ffeb"/><stop offset=".85" stop-color="#cf3"/><stop offset=".855" stop-color="#ffe100"/><stop offset=".861" stop-color="#ff9c00"/><stop offset=".866" stop-color="#ff6800"/><stop offset=".876" stop-color="#ff1900"/><stop offset=".882" stop-color="#f60000"/><stop offset=".892" stop-color="#c40000"/><stop offset=".897" stop-color="#9a0000"/><stop offset=".903" stop-color="#800000"/><stop offset=".934" stop-color="#800000"/><stop offset=".939" stop-color="#b20000"/><stop offset=".945" stop-color="#fd0000"/><stop offset=".955" stop-color="#ffe500"/><stop offset=".961" stop-color="#acff53"/><stop offset=".966" stop-color="#40ffbf"/><stop offset=".971" stop-color="#00e6ff"/><stop offset=".982" stop-color="#0cf"/><stop offset=".987" stop-color="#00cfff"/><stop offset=".997" stop-color="#00f3ff"/><stop offset="1" stop-color="#00f3ff"/></linearGradient><linearGradient id="a29" gradientUnits="userSpaceOnUse" x1="30.5" x2="220.0"><stop offset="0" stop-color="#6f9"/><stop offset=".003" stop-color="#6f9"/><stop offset=".008" stop-color="#01fffe"/><stop offset=".013" stop-color="#09f"/><stop offset=".555" stop-color="#09f"/><stop offset=".582" stop-color="#00a5ff"/><stop offset=".613" stop-color="#00d0ff"/><stop offset=".661" stop-color="#00b5ff"/><stop offset=".724" stop-color="#00dcff"/><stop offset=".745" stop-color="#00c2ff"/><stop offset=".761" stop-color="#00dbff"/><stop offset=".813" stop-color="#00feff"/><stop offset=".834" stop-color="#1fe"/><stop offset=".839" stop-color="#1fffe0"/><stop offset=".85" stop-color="#d8ff27"/><stop offset=".855" stop-color="#ffd500"/><stop offset=".861" stop-color="#ff8e00"/><stop offset=".866" stop-color="#ff6000"/><stop offset=".876" stop-color="#ff1000"/><stop offset=".882" stop-color="#f00000"/><stop offset=".892" stop-color="#bf0000"/><stop offset=".897" stop-color="#910000"/><stop offset=".903" stop-color="#800000"/><stop offset=".934" stop-color="#800000"/><stop offset=".939" stop-color="#af0000"/><stop offset=".945" stop-color="#f90000"/><stop offset=".955" stop-color="#ffdc00"/><stop offset=".961" stop-color="#b5ff4a"/><stop offset=".966" stop-color="#4affb5"/><stop offset=".971" stop-color="#00e7ff"/><stop offset=".982" stop-color="#00cdff"/><stop offset=".987" stop-color="#00d0ff"/><stop offset=".997" stop-color="#00f4ff"/><stop offset="1" stop-color="#00f4ff"/></linearGradient><linearGradient id="a30" gradientUnits="userSpaceOnUse" x1="30.5" x2="220.0"><stop offset="0" stop-color="#6f9"/><stop offset=".003" stop-color="#6f9"/><stop offset=".008" stop-color="#01fffe"/><stop offset=".013" stop-color="#09f"/><stop offset=".076" stop-color="#09f"/><stop offset=".555" stop-color="#09f"/><stop offset=".582" stop-color="#00a5ff"/><stop offset=".613" stop-color="#00d0ff"/><stop offset=".661" stop-color="#00b5ff"/><stop offset=".724" stop-color="#00dcff"/><stop offset=".745" stop-color="#00c3ff"/><stop offset=".761" stop-color="#00dbff"/><stop offset=".813" stop-color="#01fffe"/><stop offset=".834" stop-color="#13ffec"/><stop offset=".839" stop-color="#2affd5"/><stop offset=".85" stop-color="#e5ff1a"/><stop offset=".855" stop-color="#ffc900"/><stop offset=".861" stop-color="#ff7f00"/><stop offset=".876" stop-color="#ff0700"/><stop offset=".882" stop-color="#eb0000"/><stop offset=".892" stop-color="#b70000"/><stop offset=".897" stop-color="#870000"/><stop offset=".903" stop-color="#800000"/><stop offset=".934" stop-color="#800000"/><stop offset=".939" stop-color="#a00"/><stop offset=".945" stop-color="#f50000"/><stop offset=".95" stop-color="#ff6000"/><stop offset=".955" stop-color="#ffd200"/><stop offset=".961" stop-color="#beff41"/><stop offset=".966" stop-color="#53ffac"/><stop offset=".971" stop-color="#00edff"/><stop offset=".982" stop-color="#00cfff"/><stop offset=".987" stop-color="#00d2ff"/><stop offset=".997" stop-color="#00f5ff"/><stop offset="1" stop-color="#00f5ff"/></linearGradient><linearGradient id="a31" gradientUnits="userSpaceOnUse" x1="30.5" x2="220.0"><stop offset="0" stop-color="#6f9"/><stop offset=".003" stop-color="#6f9"/><stop offset=".008" stop-color="#01fffe"/><stop offset=".013" stop-color="#09f"/><stop offset=".555" stop-color="#09f"/><stop offset=".582" stop-color="#00a5ff"/><stop offset=".613" stop-color="#00d0ff"/><stop offset=".661" stop-color="#00b5ff"/><stop offset=".724" stop-color="#0df"/><stop offset=".745" stop-color="#00c4ff"/><stop offset=".761" stop-color="#0df"/><stop offset=".808" stop-color="#00feff"/><stop offset=".834" stop-color="#17ffe8"/><stop offset=".839" stop-color="#36ffc9"/><stop offset=".85" stop-color="#f2ff0d"/><stop offset=".855" stop-color="#fb0"/><stop offset=".861" stop-color="#ff7500"/><stop offset=".876" stop-color="#fc0000"/><stop offset=".887" stop-color="#cd0000"/><stop offset=".897" stop-color="#800000"/><stop offset=".934" stop-color="#800000"/><stop offset=".939" stop-color="#a60000"/><stop offset=".945" stop-color="#f20000"/><stop offset=".95" stop-color="#ff5800"/><stop offset=".955" stop-color="#ffc800"/><stop offset=".961" stop-color="#c7ff38"/><stop offset=".966" stop-color="#5dffa2"/><stop offset=".971" stop-color="#00f5ff"/><stop offset=".982" stop-color="#00d0ff"/><stop offset=".987" stop-color="#00d3ff"/><stop offset=".997" stop-color="#00f7ff"/><stop offset="1" stop-color="#00f7ff"/></linearGradient><linearGradient id="a32" gradientUnits="userSpaceOnUse" x1="30.5" x2="220.0"><stop offset="0" stop-color="#6f9"/><stop offset=".003" stop-color="#6f9"/><stop offset=".008" stop-color="#01fffe"/><stop offset=".013" stop-color="#09f"/><stop offset=".555" stop-color="#09f"/><stop offset=".582" stop-color="#00a5ff"/><stop offset=".613" stop-color="#00d0ff"/><stop offset=".661" stop-color="#00b5ff"/><stop offset=".724" stop-color="#0df"/><stop offset=".745" stop-color="#00c5ff"/><stop offset=".761" stop-color="#00deff"/><stop offset=".803" stop-color="#00fdff"/><stop offset=".834" stop-color="#19ffe6"/><stop offset=".839" stop-color="#37ffc8"/><stop offset=".85" stop-color="#f3ff0c"/><stop offset=".861" stop-color="#ff7300"/><stop offset=".871" stop-color="#ff1500"/><stop offset=".876" stop-color="#f30000"/><stop offset=".887" stop-color="#c70000"/><stop offset=".897" stop-color="#800000"/><stop offset=".934" stop-color="#800000"/><stop offset=".939" stop-color="#a50000"/><stop offset=".945" stop-color="#f10000"/><stop offset=".95" stop-color="#ff5800"/><stop offset=".955" stop-color="#ffc800"/><stop offset=".961" stop-color="#c8ff37"/><stop offset=".966" stop-color="#5effa1"/><stop offset=".971" stop-color="#00f5ff"/><stop offset=".982" stop-color="#00d3ff"/><stop offset=".987" stop-color="#00d5ff"/><stop offset=".997" stop-color="#00f9ff"/><stop offset="1" stop-color="#00f9ff"/></linearGradient><linearGradient id="a33" gradientUnits="userSpaceOnUse" x1="30.5" x2="220.0"><stop offset="0" stop-color="#6f9"/><stop offset=".003" stop-color="#6f9"/><stop offset=".008" stop-color="#01fffe"/><stop offset=".013" stop-color="#09f"/><stop offset=".555" stop-color="#09f"/><stop offset=".582" stop-color="#00a5ff"/><stop offset=".613" stop-color="#00d0ff"/><stop offset=".661" stop-color="#00b5ff"/><stop offset=".724" stop-color="#0df"/><stop offset=".745" stop-color="#00c5ff"/><stop offset=".761" stop-color="#00deff"/><stop offset=".803" stop-color="#00fdff"/><stop offset=".834" stop-color="#19ffe6"/><stop offset=".839" stop-color="#37ffc8"/><stop offset=".85" stop-color="#f3ff0c"/><stop offset=".861" stop-color="#ff7100"/><stop offset=".871" stop-color="#ff0400"/><stop offset=".876" stop-color="#eb0000"/><stop offset=".887" stop-color="#c10000"/><stop offset=".892" stop-color="#900"/><stop offset=".897" stop-color="#800000"/><stop offset=".934" stop-color="#800000"/><stop offset=".939" stop-color="#a50000"/><stop offset=".945" stop-color="#f10000"/><stop offset=".95" stop-color="#ff5800"/><stop offset=".955" stop-color="#ffc800"/><stop offset=".961" stop-color="#c8ff37"/><stop offset=".966" stop-color="#5effa1"/><stop offset=".971" stop-color="#00f5ff"/><stop offset=".982" stop-color="#00d5ff"/><stop offset=".987" stop-color="#00d8ff"/><stop offset=".997" stop-color="#00fbff"/><stop offset="1" stop-color="#00fbff"/></linearGradient><linearGradient id="a34" gradientUnits="userSpaceOnUse" x1="30.5" x2="220.0"><stop offset="0" stop-color="#6f9"/><stop offset=".003" stop-color="#6f9"/><stop offset=".008" stop-color="#01fffe"/><stop offset=".013" stop-color="#09f"/><stop offset=".555" stop-color="#09f"/><stop offset=".582" stop-color="#00a5ff"/><stop offset=".613" stop-color="#00d0ff"/><stop offset=".661" stop-color="#00b5ff"/><stop offset=".724" stop-color="#0df"/><stop offset=".745" stop-color="#00c5ff"/><stop offset=".761" stop-color="#00deff"/><stop offset=".803" stop-color="#00fdff"/><stop offset=".834" stop-color="#19ffe6"/><stop offset=".839" stop-color="#35ffca"/><stop offset=".85" stop-color="#f1ff0e"/><stop offset=".855" stop-color="#ffbc00"/><stop offset=".866" stop-color="#ff3000"/><stop offset=".871" stop-color="#fa0000"/><stop offset=".887" stop-color="#bc0000"/><stop offset=".892" stop-color="#940000"/><stop offset=".897" stop-color="#800000"/><stop offset=".934" stop-color="#800000"/><stop offset=".939" stop-color="#a60000"/><stop offset=".945" stop-color="#f20000"/><stop offset=".95" stop-color="#ff5900"/><stop offset=".955" stop-color="#ffca00"/><stop offset=".961" stop-color="#c6ff39"/><stop offset=".966" stop-color="#5cffa3"/><stop offset=".971" stop-color="#00f4ff"/><stop offset=".982" stop-color="#00d7ff"/><stop offset=".987" stop-color="#00daff"/><stop offset=".997" stop-color="#00fdff"/><stop offset="1" stop-color="#00fdff"/></linearGradient><linearGradient id="a35" gradientUnits="userSpaceOnUse" x1="30.5" x2="220.0"><stop offset="0" stop-color="#6f9"/><stop offset=".003" stop-color="#6f9"/><stop offset=".008" stop-color="#01fffe"/><stop offset=".013" stop-color="#09f"/><stop offset=".555" stop-color="#09f"/><stop offset=".582" stop-color="#00a5ff"/><stop offset=".613" stop-color="#00d0ff"/><stop offset=".661" stop-color="#00b5ff"/><stop offset=".724" stop-color="#0df"/><stop offset=".745" stop-color="#00c5ff"/><stop offset=".761" stop-color="#00deff"/><stop offset=".803" stop-color="#00fdff"/><stop offset=".839" stop-color="#1dffe2"/><stop offset=".85" stop-color="#d5ff2a"/><stop offset=".855" stop-color="#ffd600"/><stop offset=".871" stop-color="#ff0a00"/><stop offset=".876" stop-color="#ed0000"/><stop offset=".887" stop-color="#c40000"/><stop offset=".897" stop-color="#800000"/><stop offset=".934" stop-color="#800000"/><stop offset=".939" stop-color="#ae0000"/><stop offset=".945" stop-color="#fb0000"/><stop offset=".955" stop-color="#ffe500"/><stop offset=".961" stop-color="#adff52"/><stop offset=".966" stop-color="#43ffbc"/><stop offset=".971" stop-color="#00f3ff"/><stop offset=".982" stop-color="#00d8ff"/><stop offset=".987" stop-color="#00dbff"/><stop offset=".997" stop-color="#00feff"/><stop offset="1" stop-color="#00feff"/></linearGradient><linearGradient id="a36" gradientUnits="userSpaceOnUse" x1="30.5" x2="220.0"><stop offset="0" stop-color="#6f9"/><stop offset=".003" stop-color="#6f9"/><stop offset=".008" stop-color="#01fffe"/><stop offset=".013" stop-color="#09f"/><stop offset=".555" stop-color="#09f"/><stop offset=".582" stop-color="#00a5ff"/><stop offset=".613" stop-color="#00d0ff"/><stop offset=".661" stop-color="#00b5ff"/><stop offset=".724" stop-color="#00dbff"/><stop offset=".745" stop-color="#00c1ff"/><stop offset=".761" stop-color="#00d9ff"/><stop offset=".818" stop-color="#00feff"/><stop offset=".839" stop-color="#0ffff0"/><stop offset=".845" stop-color="#35ffca"/><stop offset=".855" stop-color="#fbff04"/><stop offset=".866" stop-color="#f70"/><stop offset=".876" stop-color="#fd0000"/><stop offset=".892" stop-color="#b50000"/><stop offset=".897" stop-color="#890000"/><stop offset=".903" stop-color="#800000"/><stop offset=".934" stop-color="#800000"/><stop offset=".939" stop-color="#bd0000"/><stop offset=".945" stop-color="#ff1800"/><stop offset=".95" stop-color="#ff9a00"/><stop offset=".955" stop-color="#efff10"/><stop offset=".966" stop-color="#19ffe6"/><stop offset=".971" stop-color="#00f3ff"/><stop offset=".982" stop-color="#00d8ff"/><stop offset=".987" stop-color="#00dbff"/><stop offset=".997" stop-color="#00feff"/><stop offset="1" stop-color="#00feff"/></linearGradient><linearGradient id="a37" gradientUnits="userSpaceOnUse" x1="30.5" x2="220.0"><stop offset="0" stop-color="#6f9"/><stop offset=".003" stop-color="#6f9"/><stop offset=".008" stop-color="#01fffe"/><stop offset=".013" stop-color="#09f"/><stop offset=".555" stop-color="#09f"/><stop offset=".582" stop-color="#00a5ff"/><stop offset=".613" stop-color="#00d0ff"/><stop offset=".661" stop-color="#00b3ff"/><stop offset=".724" stop-color="#00d2ff"/><stop offset=".745" stop-color="#00b4ff"/><stop offset=".755" stop-color="#00c3ff"/><stop offset=".776" stop-color="#00cfff"/><stop offset=".85" stop-color="#0df"/><stop offset=".855" stop-color="#47ffb8"/><stop offset=".861" stop-color="#beff41"/><stop offset=".866" stop-color="#ffe000"/><stop offset=".876" stop-color="#ff5f00"/><stop offset=".882" stop-color="#ff2800"/><stop offset=".887" stop-color="#f70000"/><stop offset=".897" stop-color="#bc0000"/><stop offset=".903" stop-color="#8b0000"/><stop offset=".908" stop-color="#800000"/><stop offset=".929" stop-color="#800000"/><stop offset=".934" stop-color="#970000"/><stop offset=".939" stop-color="#e80000"/><stop offset=".945" stop-color="#f70"/><stop offset=".95" stop-color="#fffd00"/><stop offset=".961" stop-color="#26ffd9"/><stop offset=".966" stop-color="#00f5ff"/><stop offset=".971" stop-color="#00f4ff"/><stop offset=".982" stop-color="#00d9ff"/><stop offset=".987" stop-color="#00dbff"/><stop offset=".997" stop-color="#00feff"/><stop offset="1" stop-color="#00feff"/></linearGradient><linearGradient id="a38" gradientUnits="userSpaceOnUse" x1="30.5" x2="220.0"><stop offset="0" stop-color="#6f9"/><stop offset=".003" stop-color="#6f9"/><stop offset=".008" stop-color="#01fffe"/><stop offset=".013" stop-color="#09f"/><stop offset=".555" stop-color="#09f"/><stop offset=".582" stop-color="#00a5ff"/><stop offset=".613" stop-color="#00d1ff"/><stop offset=".661" stop-color="#00b6ff"/><stop offset=".724" stop-color="#00d2ff"/><stop offset=".745" stop-color="#00b1ff"/><stop offset=".776" stop-color="#00c6ff"/><stop offset=".845" stop-color="#00b9ff"/><stop offset=".85" stop-color="#00e4ff"/><stop offset=".855" stop-color="#54ffab"/><stop offset=".861" stop-color="#cfff30"/><stop offset=".866" stop-color="#ffd700"/><stop offset=".876" stop-color="#ff5c00"/><stop offset=".882" stop-color="#ff2800"/><stop offset=".887" stop-color="#f80000"/><stop offset=".897" stop-color="#ba0000"/><stop offset=".903" stop-color="#850000"/><stop offset=".908" stop-color="#800000"/><stop offset=".929" stop-color="#800000"/><stop offset=".934" stop-color="#980000"/><stop offset=".939" stop-color="#ec0000"/><stop offset=".945" stop-color="#ff8300"/><stop offset=".95" stop-color="#f5ff0a"/><stop offset=".961" stop-color="#2fd"/><stop offset=".966" stop-color="#00f5ff"/><stop offset=".971" stop-color="#00f4ff"/><stop offset=".982" stop-color="#00d9ff"/><stop offset=".987" stop-color="#00dcff"/><stop offset=".997" stop-color="#0ff"/><stop offset="1" stop-color="#0ff"/></linearGradient><linearGradient id="a39" gradientUnits="userSpaceOnUse" x1="30.5" x2="220.0"><stop offset="0" stop-color="#6f9"/><stop offset=".003" stop-color="#6f9"/><stop offset=".008" stop-color="#01fffe"/><stop offset=".013" stop-color="#09f"/><stop offset=".555" stop-color="#09f"/><stop offset=".582" stop-color="#00a5ff"/><stop offset=".613" stop-color="#00d4ff"/><stop offset=".661" stop-color="#00c4ff"/><stop offset=".724" stop-color="#00fbff"/><stop offset=".745" stop-color="#00e3ff"/><stop offset=".766" stop-color="#00feff"/><stop offset=".839" stop-color="#39ffc6"/><stop offset=".845" stop-color="#6dff92"/><stop offset=".85" stop-color="#d6ff29"/><stop offset=".855" stop-color="#ffd800"/><stop offset=".866" stop-color="#ff6000"/><stop offset=".876" stop-color="#fc0000"/><stop offset=".887" stop-color="#c00"/><stop offset=".897" stop-color="#800000"/><stop offset=".934" stop-color="#800000"/><stop offset=".939" stop-color="#c20000"/><stop offset=".945" stop-color="#ff2400"/><stop offset=".95" stop-color="#ffb000"/><stop offset=".955" stop-color="#daff25"/><stop offset=".966" stop-color="#1affe5"/><stop offset=".971" stop-color="#00f5ff"/><stop offset=".982" stop-color="#00d9ff"/><stop offset=".987" stop-color="#00dcff"/><stop offset=".997" stop-color="#0ff"/><stop offset="1" stop-color="#0ff"/></linearGradient><linearGradient id="a40" gradientUnits="userSpaceOnUse" x1="30.5" x2="220.0"><stop offset="0" stop-color="#6f9"/><stop offset=".003" stop-color="#6f9"/><stop offset=".008" stop-color="#01fffe"/><stop offset=".013" stop-color="#09f"/><stop offset=".555" stop-color="#09f"/><stop offset=".582" stop-color="#00a6ff"/><stop offset=".613" stop-color="#00d6ff"/><stop offset=".634" stop-color="#0cf"/><stop offset=".661" stop-color="#00ceff"/><stop offset=".697" stop-color="#00f9ff"/><stop offset=".724" stop-color="#1bffe4"/><stop offset=".745" stop-color="#09fff6"/><stop offset=".776" stop-color="#40ffbf"/><stop offset=".803" stop-color="#57ffa8"/><stop offset=".839" stop-color="#96ff69"/><stop offset=".845" stop-color="#e2ff1d"/><stop offset=".85" stop-color="#ffd300"/><stop offset=".861" stop-color="#ff6100"/><stop offset=".871" stop-color="#fe0000"/><stop offset=".887" stop-color="#b90000"/><stop offset=".892" stop-color="#840000"/><stop offset=".934" stop-color="#800000"/><stop offset=".939" stop-color="#b40000"/><stop offset=".945" stop-color="#ff0900"/><stop offset=".95" stop-color="#ff9000"/><stop offset=".955" stop-color="#f6ff09"/><stop offset=".966" stop-color="#42ffbd"/><stop offset=".971" stop-color="#00f5ff"/><stop offset=".982" stop-color="#00daff"/><stop offset=".987" stop-color="#0df"/><stop offset=".997" stop-color="#01fffe"/><stop offset="1" stop-color="#01fffe"/></linearGradient><linearGradient id="a41" gradientUnits="userSpaceOnUse" x1="30.5" x2="220.0"><stop offset="0" stop-color="#6f9"/><stop offset=".003" stop-color="#6f9"/><stop offset=".008" stop-color="#01fffe"/><stop offset=".013" stop-color="#09f"/><stop offset=".555" stop-color="#09f"/><stop offset=".582" stop-color="#00a6ff"/><stop offset=".613" stop-color="#00d6ff"/><stop offset=".634" stop-color="#0cf"/><stop offset=".661" stop-color="#00ceff"/><stop offset=".697" stop-color="#00f9ff"/><stop offset=".724" stop-color="#1bffe4"/><stop offset=".745" stop-color="#09fff6"/><stop offset=".776" stop-color="#40ffbf"/><stop offset=".803" stop-color="#57ffa8"/><stop offset=".834" stop-color="#90ff6f"/><stop offset=".839" stop-color="#d1ff2e"/><stop offset=".845" stop-color="#ffdf00"/><stop offset=".855" stop-color="#ff6f00"/><stop offset=".866" stop-color="#ff1200"/><stop offset=".871" stop-color="#f20000"/><stop offset=".882" stop-color="#c80000"/><stop offset=".892" stop-color="#800000"/><stop offset=".934" stop-color="#800000"/><stop offset=".939" stop-color="#ad0000"/><stop offset=".945" stop-color="#fe0000"/><stop offset=".955" stop-color="#fff800"/><stop offset=".971" stop-color="#04fffb"/><stop offset=".982" stop-color="#00daff"/><stop offset=".987" stop-color="#0df"/><stop offset=".997" stop-color="#01fffe"/><stop offset="1" stop-color="#01fffe"/></linearGradient><linearGradient id="a42" gradientUnits="userSpaceOnUse" x1="30.5" x2="220.0"><stop offset="0" stop-color="#6f9"/><stop offset=".003" stop-color="#6f9"/><stop offset=".008" stop-color="#01fffe"/><stop offset=".013" stop-color="#09f"/><stop offset=".555" stop-color="#09f"/><stop offset=".582" stop-color="#00a6ff"/><stop offset=".613" stop-color="#00d6ff"/><stop offset=".634" stop-color="#0cf"/><stop offset=".661" stop-color="#00cfff"/><stop offset=".697" stop-color="#00f9ff"/><stop offset=".724" stop-color="#1cffe3"/><stop offset=".745" stop-color="#0afff5"/><stop offset=".776" stop-color="#41ffbe"/><stop offset=".808" stop-color="#60ff9f"/><stop offset=".829" stop-color="#89ff76"/><stop offset=".834" stop-color="#abff54"/><stop offset=".839" stop-color="#fff400"/><stop offset=".85" stop-color="#ff8500"/><stop offset=".866" stop-color="#fc0000"/><stop offset=".882" stop-color="#b90000"/><stop offset=".887" stop-color="#850000"/><stop offset=".892" stop-color="#800000"/><stop offset=".934" stop-color="#800000"/><stop offset=".939" stop-color="#a50000"/><stop offset=".945" stop-color="#f90000"/><stop offset=".955" stop-color="#ffeb00"/><stop offset=".961" stop-color="#bf4"/><stop offset=".971" stop-color="#16ffe9"/><stop offset=".976" stop-color="#00e8ff"/><stop offset=".982" stop-color="#00dbff"/><stop offset=".987" stop-color="#00deff"/><stop offset=".997" stop-color="#02fffd"/><stop offset="1" stop-color="#02fffd"/></linearGradient><linearGradient id="a43" gradientUnits="userSpaceOnUse" x1="30.5" x2="220.0"><stop offset="0" stop-color="#6f9"/><stop offset=".003" stop-color="#6f9"/><stop offset=".008" stop-color="#01fffe"/><stop offset=".013" stop-color="#09f"/><stop offset=".555" stop-color="#09f"/><stop offset=".582" stop-color="#00a6ff"/><stop offset=".613" stop-color="#00d6ff"/><stop offset=".634" stop-color="#0cf"/><stop offset=".661" stop-color="#00cfff"/><stop offset=".697" stop-color="#00faff"/><stop offset=".724" stop-color="#1dffe2"/><stop offset=".745" stop-color="#0afff5"/><stop offset=".776" stop-color="#42ffbd"/><stop offset=".808" stop-color="#60ff9f"/><stop offset=".829" stop-color="#89ff76"/><stop offset=".834" stop-color="#b3ff4c"/><stop offset=".839" stop-color="#fff000"/><stop offset=".85" stop-color="#ff8100"/><stop offset=".861" stop-color="#ff2000"/><stop offset=".866" stop-color="#f70000"/><stop offset=".876" stop-color="#ca0000"/><stop offset=".887" stop-color="#800000"/><stop offset=".934" stop-color="#800000"/><stop offset=".939" stop-color="#a00000"/><stop offset=".945" stop-color="#f90000"/><stop offset=".955" stop-color="#ffeb00"/><stop offset=".961" stop-color="#baff45"/><stop offset=".971" stop-color="#10ffef"/><stop offset=".976" stop-color="#00e9ff"/><stop offset=".982" stop-color="#00dcff"/><stop offset=".987" stop-color="#00deff"/><stop offset=".997" stop-color="#02fffd"/><stop offset="1" stop-color="#02fffd"/></linearGradient><linearGradient id="a44" gradientUnits="userSpaceOnUse" x1="30.5" x2="220.0"><stop offset="0" stop-color="#6f9"/><stop offset=".003" stop-color="#6f9"/><stop offset=".008" stop-color="#01fffe"/><stop offset=".013" stop-color="#09f"/><stop offset=".555" stop-color="#09f"/><stop offset=".582" stop-color="#00a6ff"/><stop offset=".613" stop-color="#00d7ff"/><stop offset=".634" stop-color="#0cf"/><stop offset=".661" stop-color="#00cfff"/><stop offset=".697" stop-color="#00faff"/><stop offset=".724" stop-color="#1dffe2"/><stop offset=".745" stop-color="#0bfff4"/><stop offset=".776" stop-color="#42ffbd"/><stop offset=".803" stop-color="#59ffa6"/><stop offset=".829" stop-color="#8aff75"/><stop offset=".834" stop-color="#baff45"/><stop offset=".839" stop-color="#ffec00"/><stop offset=".861" stop-color="#ff1700"/><stop offset=".866" stop-color="#f20000"/><stop offset=".876" stop-color="#c10000"/><stop offset=".882" stop-color="#8f0000"/><stop offset=".887" stop-color="#800000"/><stop offset=".934" stop-color="#800000"/><stop offset=".939" stop-color="#9b0000"/><stop offset=".945" stop-color="#f90000"/><stop offset=".955" stop-color="#ffeb00"/><stop offset=".961" stop-color="#b8ff47"/><stop offset=".971" stop-color="#0bfff4"/><stop offset=".982" stop-color="#00dcff"/><stop offset=".987" stop-color="#00dfff"/><stop offset=".997" stop-color="#03fffc"/><stop offset="1" stop-color="#03fffc"/></linearGradient><linearGradient id="a45" gradientUnits="userSpaceOnUse" x1="30.5" x2="220.0"><stop offset="0" stop-color="#6f9"/><stop offset=".003" stop-color="#6f9"/><stop offset=".008" stop-color="#01fffe"/><stop offset=".013" stop-color="#09f"/><stop offset=".555" stop-color="#09f"/><stop offset=".582" stop-color="#00a6ff"/><stop offset=".613" stop-color="#00d7ff"/><stop offset=".634" stop-color="#0cf"/><stop offset=".661" stop-color="#00d0ff"/><stop offset=".697" stop-color="#00fbff"/><stop offset=".724" stop-color="#1effe1"/><stop offset=".745" stop-color="#0cfff3"/><stop offset=".776" stop-color="#43ffbc"/><stop offset=".803" stop-color="#59ffa6"/><stop offset=".829" stop-color="#8bff74"/><stop offset=".834" stop-color="#c1ff3e"/><stop offset=".839" stop-color="#ffe900"/><stop offset=".861" stop-color="#ff0e00"/><stop offset=".866" stop-color="#eb0000"/><stop offset=".876" stop-color="#af0000"/><stop offset=".882" stop-color="#800000"/><stop offset=".934" stop-color="#800000"/><stop offset=".939" stop-color="#960000"/><stop offset=".945" stop-color="#f80000"/><stop offset=".95" stop-color="#ff7d00"/><stop offset=".955" stop-color="#ffeb00"/><stop offset=".961" stop-color="#b6ff49"/><stop offset=".971" stop-color="#05fffa"/><stop offset=".982" stop-color="#0df"/><stop offset=".987" stop-color="#00e0ff"/><stop offset=".997" stop-color="#04fffb"/><stop offset="1" stop-color="#04fffb"/></linearGradient><linearGradient id="a46" gradientUnits="userSpaceOnUse" x1="30.5" x2="220.0"><stop offset="0" stop-color="#6f9"/><stop offset=".003" stop-color="#6f9"/><stop offset=".008" stop-color="#01fffe"/><stop offset=".013" stop-color="#09f"/><stop offset=".555" stop-color="#09f"/><stop offset=".582" stop-color="#00a6ff"/><stop offset=".613" stop-color="#00d7ff"/><stop offset=".634" stop-color="#0cf"/><stop offset=".661" stop-color="#00d0ff"/><stop offset=".697" stop-color="#00fbff"/><stop offset=".724" stop-color="#1fffe0"/><stop offset=".745" stop-color="#0dfff2"/><stop offset=".776" stop-color="#4fb"/><stop offset=".803" stop-color="#5affa5"/><stop offset=".829" stop-color="#8cff73"/><stop offset=".834" stop-color="#c9ff36"/><stop offset=".839" stop-color="#ffe500"/><stop offset=".861" stop-color="#ff0300"/><stop offset=".866" stop-color="#e40000"/><stop offset=".871" stop-color="#c70000"/><stop offset=".876" stop-color="#9a0000"/><stop offset=".882" stop-color="#800000"/><stop offset=".934" stop-color="#800000"/><stop offset=".939" stop-color="#8f0000"/><stop offset=".945" stop-color="#f80000"/><stop offset=".95" stop-color="#ff7f00"/><stop offset=".955" stop-color="#ffec00"/><stop offset=".961" stop-color="#b5ff4a"/><stop offset=".971" stop-color="#0ff"/><stop offset=".982" stop-color="#00deff"/><stop offset=".987" stop-color="#00e1ff"/><stop offset=".992" stop-color="#00f3ff"/><stop offset="1" stop-color="#05fffa"/></linearGradient><linearGradient id="a47" gradientUnits="userSpaceOnUse" x1="30.5" x2="220.0"><stop offset="0" stop-color="#6f9"/><stop offset=".003" stop-color="#6f9"/><stop offset=".008" stop-color="#01fffe"/><stop offset=".013" stop-color="#09f"/><stop offset=".555" stop-color="#09f"/><stop offset=".582" stop-color="#00a6ff"/><stop offset=".613" stop-color="#00d7ff"/><stop offset=".634" stop-color="#00cdff"/><stop offset=".661" stop-color="#00d0ff"/><stop offset=".697" stop-color="#00fcff"/><stop offset=".724" stop-color="#1fffe0"/><stop offset=".745" stop-color="#0dfff2"/><stop offset=".776" stop-color="#45ffba"/><stop offset=".803" stop-color="#5bffa4"/><stop offset=".829" stop-color="#8dff72"/><stop offset=".834" stop-color="#d0ff2f"/><stop offset=".839" stop-color="#ffe100"/><stop offset=".861" stop-color="#fa0000"/><stop offset=".871" stop-color="#b90000"/><stop offset=".876" stop-color="#850000"/><stop offset=".882" stop-color="#800000"/><stop offset=".934" stop-color="#800000"/><stop offset=".939" stop-color="#800"/><stop offset=".945" stop-color="#f80000"/><stop offset=".95" stop-color="#ff8100"/><stop offset=".955" stop-color="#ffec00"/><stop offset=".961" stop-color="#b3ff4c"/><stop offset=".971" stop-color="#00fbff"/><stop offset=".982" stop-color="#00dfff"/><stop offset=".987" stop-color="#00e2ff"/><stop offset=".992" stop-color="#00f4ff"/><stop offset="1" stop-color="#05fffa"/></linearGradient><linearGradient id="a48" gradientUnits="userSpaceOnUse" x1="30.5" x2="220.0"><stop offset="0" stop-color="#6dff92"/><stop offset=".003" stop-color="#6dff92"/><stop offset=".008" stop-color="#05fffa"/><stop offset=".013" stop-color="#09f"/><stop offset=".555" stop-color="#09f"/><stop offset=".582" stop-color="#00a6ff"/><stop offset=".613" stop-color="#00d7ff"/><stop offset=".634" stop-color="#00ceff"/><stop offset=".661" stop-color="#00d3ff"/><stop offset=".692" stop-color="#00f8ff"/><stop offset=".724" stop-color="#24ffdb"/><stop offset=".745" stop-color="#12ffed"/><stop offset=".776" stop-color="#4affb5"/><stop offset=".803" stop-color="#60ff9f"/><stop offset=".829" stop-color="#92ff6d"/><stop offset=".834" stop-color="#d4ff2b"/><stop offset=".839" stop-color="#ffdf00"/><stop offset=".855" stop-color="#ff2e00"/><stop offset=".861" stop-color="#f60000"/><stop offset=".866" stop-color="#d40000"/><stop offset=".876" stop-color="#800000"/><stop offset=".934" stop-color="#800000"/><stop offset=".939" stop-color="#830000"/><stop offset=".945" stop-color="#f70000"/><stop offset=".95" stop-color="#ff8200"/><stop offset=".955" stop-color="#ffec00"/><stop offset=".961" stop-color="#b2ff4d"/><stop offset=".971" stop-color="#00fcff"/><stop offset=".982" stop-color="#00e0ff"/><stop offset=".987" stop-color="#00e2ff"/><stop offset=".992" stop-color="#00f5ff"/><stop offset="1" stop-color="#06fff9"/></linearGradient><linearGradient id="a49" gradientUnits="userSpaceOnUse" x1="30.5" x2="220.0"><stop offset="0" stop-color="#82ff7d"/><stop offset=".003" stop-color="#82ff7d"/><stop offset=".008" stop-color="#12ffed"/><stop offset=".013" stop-color="#009eff"/><stop offset=".555" stop-color="#09f"/><stop offset=".582" stop-color="#00a6ff"/><stop offset=".613" stop-color="#00d9ff"/><stop offset=".634" stop-color="#00d0ff"/><stop offset=".661" stop-color="#00d8ff"/><stop offset=".687" stop-color="#00f8ff"/><stop offset=".724" stop-color="#31ffce"/><stop offset=".745" stop-color="#1fffe0"/><stop offset=".761" stop-color="#34ffcb"/><stop offset=".776" stop-color="#59ffa6"/><stop offset=".803" stop-color="#6bff94"/><stop offset=".829" stop-color="#9fff60"/><stop offset=".834" stop-color="#d4ff2b"/><stop offset=".839" stop-color="#ffdf00"/><stop offset=".855" stop-color="#ff2e00"/><stop offset=".861" stop-color="#f60000"/><stop offset=".866" stop-color="#d40000"/><stop offset=".876" stop-color="#800000"/><stop offset=".934" stop-color="#800000"/><stop offset=".939" stop-color="#830000"/><stop offset=".945" stop-color="#f70000"/><stop offset=".95" stop-color="#ff8200"/><stop offset=".955" stop-color="#ffec00"/><stop offset=".961" stop-color="#b2ff4d"/><stop offset=".971" stop-color="#00fdff"/><stop offset=".982" stop-color="#00e1ff"/><stop offset=".987" stop-color="#00e3ff"/><stop offset=".992" stop-color="#00f5ff"/><stop offset="1" stop-color="#07fff8"/></linearGradient><linearGradient id="a50" gradientUnits="userSpaceOnUse" x1="30.5" x2="220.0"><stop offset="0" stop-color="#96ff69"/><stop offset=".003" stop-color="#96ff69"/><stop offset=".008" stop-color="#23ffdc"/><stop offset=".013" stop-color="#00acff"/><stop offset=".071" stop-color="#09f"/><stop offset=".555" stop-color="#09f"/><stop offset=".582" stop-color="#00a6ff"/><stop offset=".613" stop-color="#00daff"/><stop offset=".634" stop-color="#00d2ff"/><stop offset=".661" stop-color="#0df"/><stop offset=".687" stop-color="#00feff"/><stop offset=".724" stop-color="#39ffc6"/><stop offset=".745" stop-color="#27ffd8"/><stop offset=".761" stop-color="#3cffc3"/><stop offset=".776" stop-color="#63ff9c"/><stop offset=".803" stop-color="#74ff8b"/><stop offset=".829" stop-color="#a9ff56"/><stop offset=".834" stop-color="#d4ff2b"/><stop offset=".839" stop-color="#ffdf00"/><stop offset=".855" stop-color="#ff2e00"/><stop offset=".861" stop-color="#f60000"/><stop offset=".866" stop-color="#d40000"/><stop offset=".876" stop-color="#800000"/><stop offset=".934" stop-color="#800000"/><stop offset=".939" stop-color="#830000"/><stop offset=".945" stop-color="#f70000"/><stop offset=".95" stop-color="#ff8200"/><stop offset=".955" stop-color="#ffec00"/><stop offset=".961" stop-color="#b2ff4d"/><stop offset=".971" stop-color="#00feff"/><stop offset=".982" stop-color="#00e1ff"/><stop offset="1" stop-color="#08fff7"/></linearGradient><linearGradient id="a51" gradientUnits="userSpaceOnUse" x1="30.5" x2="220.0"><stop offset="0" stop-color="#a5ff5a"/><stop offset=".003" stop-color="#a5ff5a"/><stop offset=".008" stop-color="#30ffcf"/><stop offset=".013" stop-color="#00b7ff"/><stop offset=".071" stop-color="#09f"/><stop offset=".555" stop-color="#09f"/><stop offset=".582" stop-color="#00a6ff"/><stop offset=".613" stop-color="#00daff"/><stop offset=".639" stop-color="#00d4ff"/><stop offset=".661" stop-color="#0df"/><stop offset=".682" stop-color="#00f7ff"/><stop offset=".687" stop-color="#01fffe"/><stop offset=".724" stop-color="#3bffc4"/><stop offset=".745" stop-color="#29ffd6"/><stop offset=".761" stop-color="#3dffc2"/><stop offset=".776" stop-color="#65ff9a"/><stop offset=".803" stop-color="#75ff8a"/><stop offset=".829" stop-color="#abff54"/><stop offset=".834" stop-color="#d4ff2b"/><stop offset=".839" stop-color="#ffdf00"/><stop offset=".855" stop-color="#ff2e00"/><stop offset=".861" stop-color="#f60000"/><stop offset=".866" stop-color="#d40000"/><stop offset=".876" stop-color="#800000"/><stop offset=".934" stop-color="#800000"/><stop offset=".939" stop-color="#830000"/><stop offset=".945" stop-color="#f70000"/><stop offset=".95" stop-color="#ff8200"/><stop offset=".955" stop-color="#ffec00"/><stop offset=".961" stop-color="#b2ff4d"/><stop offset=".971" stop-color="#00feff"/><stop offset=".982" stop-color="#00e2ff"/><stop offset="1" stop-color="#08fff7"/></linearGradient><linearGradient id="a52" gradientUnits="userSpaceOnUse" x1="30.5" x2="220.0"><stop offset="0" stop-color="#afff50"/><stop offset=".003" stop-color="#afff50"/><stop offset=".008" stop-color="#39ffc6"/><stop offset=".013" stop-color="#00beff"/><stop offset=".071" stop-color="#09f"/><stop offset=".555" stop-color="#09f"/><stop offset=".582" stop-color="#00a6ff"/><stop offset=".613" stop-color="#00daff"/><stop offset=".639" stop-color="#00d5ff"/><stop offset=".661" stop-color="#00deff"/><stop offset=".682" stop-color="#00f8ff"/><stop offset=".687" stop-color="#02fffd"/><stop offset=".724" stop-color="#3cffc3"/><stop offset=".745" stop-color="#2bffd4"/><stop offset=".755" stop-color="#35ffca"/><stop offset=".776" stop-color="#6f9"/><stop offset=".803" stop-color="#7f8"/><stop offset=".834" stop-color="#b8ff47"/><stop offset=".839" stop-color="#ffed00"/><stop offset=".861" stop-color="#fc0000"/><stop offset=".871" stop-color="#b30000"/><stop offset=".876" stop-color="#800000"/><stop offset=".934" stop-color="#800000"/><stop offset=".939" stop-color="#8e0000"/><stop offset=".945" stop-color="#f00"/><stop offset=".95" stop-color="#ff8c00"/><stop offset=".955" stop-color="#fff900"/><stop offset=".966" stop-color="#46ffb9"/><stop offset=".971" stop-color="#0ff"/><stop offset=".982" stop-color="#00e2ff"/><stop offset="1" stop-color="#09fff6"/></linearGradient><linearGradient id="a53" gradientUnits="userSpaceOnUse" x1="30.5" x2="220.0"><stop offset="0" stop-color="#baff45"/><stop offset=".003" stop-color="#baff45"/><stop offset=".008" stop-color="#42ffbd"/><stop offset=".013" stop-color="#00c5ff"/><stop offset=".071" stop-color="#09f"/><stop offset=".555" stop-color="#09f"/><stop offset=".582" stop-color="#00a6ff"/><stop offset=".613" stop-color="#00d9ff"/><stop offset=".634" stop-color="#00d0ff"/><stop offset=".661" stop-color="#00d7ff"/><stop offset=".692" stop-color="#00feff"/><stop offset=".724" stop-color="#2affd5"/><stop offset=".745" stop-color="#15ffea"/><stop offset=".761" stop-color="#28ffd7"/><stop offset=".776" stop-color="#4affb5"/><stop offset=".803" stop-color="#57ffa8"/><stop offset=".839" stop-color="#8eff71"/><stop offset=".845" stop-color="#fffa00"/><stop offset=".861" stop-color="#ff3400"/><stop offset=".866" stop-color="#f50000"/><stop offset=".882" stop-color="#800000"/><stop offset=".934" stop-color="#800000"/><stop offset=".939" stop-color="#b80000"/><stop offset=".945" stop-color="#ff3400"/><stop offset=".95" stop-color="#ffc300"/><stop offset=".955" stop-color="#c9ff36"/><stop offset=".966" stop-color="#00fdff"/><stop offset=".971" stop-color="#00fbff"/><stop offset=".982" stop-color="#00dfff"/><stop offset=".987" stop-color="#00e2ff"/><stop offset=".992" stop-color="#00f4ff"/><stop offset="1" stop-color="#06fff9"/></linearGradient><linearGradient id="a54" gradientUnits="userSpaceOnUse" x1="30.5" x2="220.0"><stop offset="0" stop-color="#c4ff3b"/><stop offset=".003" stop-color="#c4ff3b"/><stop offset=".008" stop-color="#4bffb4"/><stop offset=".013" stop-color="#0cf"/><stop offset=".071" stop-color="#09f"/><stop offset=".555" stop-color="#09f"/><stop offset=".582" stop-color="#00a5ff"/><stop offset=".613" stop-color="#00d5ff"/><stop offset=".661" stop-color="#00c5ff"/><stop offset=".724" stop-color="#00f4ff"/><stop offset=".745" stop-color="#00d5ff"/><stop offset=".776" stop-color="#00f3ff"/><stop offset=".855" stop-color="#00f4ff"/><stop offset=".861" stop-color="#8fff70"/><stop offset=".866" stop-color="#ffd000"/><stop offset=".876" stop-color="#ff0100"/><stop offset=".882" stop-color="#d80000"/><stop offset=".892" stop-color="#800000"/><stop offset=".929" stop-color="#800000"/><stop offset=".934" stop-color="#ae0000"/><stop offset=".939" stop-color="#f40"/><stop offset=".945" stop-color="#f6ff09"/><stop offset=".955" stop-color="#00fdff"/><stop offset=".961" stop-color="#00e7ff"/><stop offset=".971" stop-color="#00e7ff"/><stop offset=".982" stop-color="#00ceff"/><stop offset=".987" stop-color="#00d1ff"/><stop offset=".997" stop-color="#00f4ff"/><stop offset="1" stop-color="#00f4ff"/></linearGradient><linearGradient id="a55" gradientUnits="userSpaceOnUse" x1="30.5" x2="220.0"><stop offset="0" stop-color="#ceff31"/><stop offset=".003" stop-color="#ceff31"/><stop offset=".008" stop-color="#54ffab"/><stop offset=".013" stop-color="#00d3ff"/><stop offset=".071" stop-color="#09f"/><stop offset=".555" stop-color="#09f"/><stop offset=".582" stop-color="#00a7ff"/><stop offset=".613" stop-color="#00e3ff"/><stop offset=".634" stop-color="#00e3ff"/><stop offset=".661" stop-color="#0ff"/><stop offset=".724" stop-color="#71ff8e"/><stop offset=".755" stop-color="#4cffb3"/><stop offset=".761" stop-color="#54ffab"/><stop offset=".776" stop-color="#86ff79"/><stop offset=".782" stop-color="#86ff79"/><stop offset=".797" stop-color="#6aff95"/><stop offset=".803" stop-color="#6aff95"/><stop offset=".818" stop-color="#7eff81"/><stop offset=".839" stop-color="#84ff7b"/><stop offset=".845" stop-color="#9bff64"/><stop offset=".85" stop-color="#fff200"/><stop offset=".866" stop-color="#ff1600"/><stop offset=".871" stop-color="#ea0000"/><stop offset=".887" stop-color="#800000"/><stop offset=".934" stop-color="#800000"/><stop offset=".939" stop-color="#da0000"/><stop offset=".945" stop-color="#ff6200"/><stop offset=".95" stop-color="#ffc600"/><stop offset=".955" stop-color="#df2"/><stop offset=".961" stop-color="#7eff81"/><stop offset=".971" stop-color="#6eff91"/><stop offset=".982" stop-color="#45ffba"/><stop offset=".987" stop-color="#46ffb9"/><stop offset=".997" stop-color="#6f9"/><stop offset="1" stop-color="#6f9"/></linearGradient><linearGradient id="a56" gradientUnits="userSpaceOnUse" x1="30.5" x2="220.0"><stop offset="0" stop-color="#d8ff27"/><stop offset=".003" stop-color="#d8ff27"/><stop offset=".008" stop-color="#5dffa2"/><stop offset=".013" stop-color="#00daff"/><stop offset=".071" stop-color="#09f"/><stop offset=".555" stop-color="#09f"/><stop offset=".582" stop-color="#00a7ff"/><stop offset=".613" stop-color="#00e5ff"/><stop offset=".634" stop-color="#00e6ff"/><stop offset=".65" stop-color="#00fbff"/><stop offset=".666" stop-color="#1fe"/><stop offset=".724" stop-color="#82ff7d"/><stop offset=".755" stop-color="#5cffa3"/><stop offset=".761" stop-color="#64ff9b"/><stop offset=".776" stop-color="#9aff65"/><stop offset=".782" stop-color="#9bff64"/><stop offset=".797" stop-color="#7cff83"/><stop offset=".803" stop-color="#7cff83"/><stop offset=".818" stop-color="#92ff6d"/><stop offset=".829" stop-color="#97ff68"/><stop offset=".834" stop-color="#b5ff4a"/><stop offset=".839" stop-color="#fff400"/><stop offset=".861" stop-color="#ff0800"/><stop offset=".866" stop-color="#e80000"/><stop offset=".871" stop-color="#ce0000"/><stop offset=".882" stop-color="#800000"/><stop offset=".934" stop-color="#800000"/><stop offset=".939" stop-color="#ad0000"/><stop offset=".945" stop-color="#ff1900"/><stop offset=".95" stop-color="#f80"/><stop offset=".961" stop-color="#fff900"/><stop offset=".971" stop-color="#e8ff17"/><stop offset=".982" stop-color="#b1ff4e"/><stop offset=".987" stop-color="#b1ff4e"/><stop offset="1" stop-color="#ceff31"/></linearGradient><linearGradient id="a57" gradientUnits="userSpaceOnUse" x1="30.5" x2="220.0"><stop offset="0" stop-color="#e2ff1d"/><stop offset=".003" stop-color="#e2ff1d"/><stop offset=".008" stop-color="#65ff9a"/><stop offset=".013" stop-color="#00e1ff"/><stop offset=".071" stop-color="#09f"/><stop offset=".555" stop-color="#09f"/><stop offset=".582" stop-color="#00a7ff"/><stop offset=".613" stop-color="#00e6ff"/><stop offset=".634" stop-color="#00e7ff"/><stop offset=".65" stop-color="#00fdff"/><stop offset=".666" stop-color="#13ffec"/><stop offset=".724" stop-color="#86ff79"/><stop offset=".755" stop-color="#5fffa0"/><stop offset=".761" stop-color="#67ff98"/><stop offset=".776" stop-color="#9fff60"/><stop offset=".782" stop-color="#a0ff5f"/><stop offset=".797" stop-color="#80ff7f"/><stop offset=".803" stop-color="#80ff7f"/><stop offset=".824" stop-color="#9bff64"/><stop offset=".829" stop-color="#c2ff3d"/><stop offset=".834" stop-color="#fff400"/><stop offset=".845" stop-color="#ff9400"/><stop offset=".855" stop-color="#ff2500"/><stop offset=".861" stop-color="#f60000"/><stop offset=".871" stop-color="#c40000"/><stop offset=".882" stop-color="#800000"/><stop offset=".934" stop-color="#800000"/><stop offset=".939" stop-color="#970000"/><stop offset=".945" stop-color="#f00"/><stop offset=".95" stop-color="#ff7000"/><stop offset=".955" stop-color="#ffa500"/><stop offset=".966" stop-color="#fffc00"/><stop offset=".982" stop-color="#b1ff4e"/><stop offset=".987" stop-color="#b1ff4e"/><stop offset="1" stop-color="#ceff31"/></linearGradient><linearGradient id="a58" gradientUnits="userSpaceOnUse" x1="30.5" x2="220.0"><stop offset="0" stop-color="#f2ff0d"/><stop offset=".003" stop-color="#f2ff0d"/><stop offset=".008" stop-color="#72ff8d"/><stop offset=".013" stop-color="#00eaff"/><stop offset=".071" stop-color="#09f"/><stop offset=".555" stop-color="#09f"/><stop offset=".582" stop-color="#00a7ff"/><stop offset=".613" stop-color="#00e6ff"/><stop offset=".634" stop-color="#00e9ff"/><stop offset=".65" stop-color="#0ff"/><stop offset=".666" stop-color="#16ffe9"/><stop offset=".724" stop-color="#8dff72"/><stop offset=".755" stop-color="#65ff9a"/><stop offset=".761" stop-color="#6dff92"/><stop offset=".776" stop-color="#a6ff59"/><stop offset=".782" stop-color="#a7ff58"/><stop offset=".797" stop-color="#86ff79"/><stop offset=".803" stop-color="#86ff79"/><stop offset=".818" stop-color="#9eff61"/><stop offset=".824" stop-color="#bdff42"/><stop offset=".829" stop-color="#fffb00"/><stop offset=".845" stop-color="#ff7c00"/><stop offset=".855" stop-color="#ff0e00"/><stop offset=".861" stop-color="#ed0000"/><stop offset=".871" stop-color="#be0000"/><stop offset=".876" stop-color="#940000"/><stop offset=".882" stop-color="#800000"/><stop offset=".934" stop-color="#800000"/><stop offset=".939" stop-color="#830000"/><stop offset=".945" stop-color="#ef0000"/><stop offset=".95" stop-color="#ff5800"/><stop offset=".955" stop-color="#ff9600"/><stop offset=".971" stop-color="#f7ff08"/><stop offset=".976" stop-color="#c8ff37"/><stop offset=".982" stop-color="#b1ff4e"/><stop offset=".987" stop-color="#b1ff4e"/><stop offset="1" stop-color="#ceff31"/></linearGradient><linearGradient id="a59" gradientUnits="userSpaceOnUse" x1="30.5" x2="220.0"><stop offset="0" stop-color="#fffd00"/><stop offset=".003" stop-color="#fffd00"/><stop offset=".008" stop-color="#7bff84"/><stop offset=".013" stop-color="#00edff"/><stop offset=".071" stop-color="#09f"/><stop offset=".555" stop-color="#09f"/><stop offset=".582" stop-color="#00a7ff"/><stop offset=".613" stop-color="#00e7ff"/><stop offset=".629" stop-color="#00e7ff"/><stop offset=".645" stop-color="#00faff"/><stop offset=".666" stop-color="#1affe5"/><stop offset=".724" stop-color="#95ff6a"/><stop offset=".755" stop-color="#6cff93"/><stop offset=".761" stop-color="#75ff8a"/><stop offset=".776" stop-color="#b0ff4f"/><stop offset=".782" stop-color="#b1ff4e"/><stop offset=".797" stop-color="#8eff71"/><stop offset=".803" stop-color="#8eff71"/><stop offset=".818" stop-color="#a7ff58"/><stop offset=".824" stop-color="#beff41"/><stop offset=".829" stop-color="#fffa00"/><stop offset=".845" stop-color="#ff7d00"/><stop offset=".855" stop-color="#ff1000"/><stop offset=".861" stop-color="#ef0000"/><stop offset=".871" stop-color="#c10000"/><stop offset=".876" stop-color="#980000"/><stop offset=".882" stop-color="#800000"/><stop offset=".934" stop-color="#800000"/><stop offset=".939" stop-color="#830000"/><stop offset=".945" stop-color="#ef0000"/><stop offset=".95" stop-color="#ff5800"/><stop offset=".955" stop-color="#ff9600"/><stop offset=".971" stop-color="#f7ff08"/><stop offset=".976" stop-color="#c8ff37"/><stop offset=".982" stop-color="#b1ff4e"/><stop offset=".987" stop-color="#b1ff4e"/><stop offset="1" stop-color="#ceff31"/></linearGradient><linearGradient id="a60" gradientUnits="userSpaceOnUse" x1="30.5" x2="220.0"><stop offset="0" stop-color="#fff300"/><stop offset=".003" stop-color="#fff300"/><stop offset=".008" stop-color="#81ff7e"/><stop offset=".013" stop-color="#00edff"/><stop offset=".071" stop-color="#09f"/><stop offset=".555" stop-color="#09f"/><stop offset=".582" stop-color="#00a8ff"/><stop offset=".613" stop-color="#00eaff"/><stop offset=".629" stop-color="#00eaff"/><stop offset=".645" stop-color="#01fffe"/><stop offset=".666" stop-color="#24ffdb"/><stop offset=".708" stop-color="#89ff76"/><stop offset=".724" stop-color="#a7ff58"/><stop offset=".755" stop-color="#7cff83"/><stop offset=".761" stop-color="#85ff7a"/><stop offset=".776" stop-color="#c5ff3a"/><stop offset=".782" stop-color="#c6ff39"/><stop offset=".797" stop-color="#9fff60"/><stop offset=".803" stop-color="#a0ff5f"/><stop offset=".824" stop-color="#bfff40"/><stop offset=".829" stop-color="#fffa00"/><stop offset=".845" stop-color="#ff7e00"/><stop offset=".855" stop-color="#f10"/><stop offset=".861" stop-color="#f00000"/><stop offset=".871" stop-color="#c30000"/><stop offset=".876" stop-color="#9b0000"/><stop offset=".882" stop-color="#800000"/><stop offset=".939" stop-color="#830000"/><stop offset=".945" stop-color="#ef0000"/><stop offset=".95" stop-color="#ff5800"/><stop offset=".955" stop-color="#ff9600"/><stop offset=".971" stop-color="#f7ff08"/><stop offset=".976" stop-color="#c8ff37"/><stop offset=".982" stop-color="#b1ff4e"/><stop offset=".987" stop-color="#b1ff4e"/><stop offset="1" stop-color="#ceff31"/></linearGradient><linearGradient id="a61" gradientUnits="userSpaceOnUse" x1="30.5" x2="220.0"><stop offset="0" stop-color="#ffe900"/><stop offset=".003" stop-color="#ffe900"/><stop offset=".008" stop-color="#86ff79"/><stop offset=".013" stop-color="#00edff"/><stop offset=".071" stop-color="#09f"/><stop offset=".555" stop-color="#09f"/><stop offset=".582" stop-color="#00a8ff"/><stop offset=".613" stop-color="#00ecff"/><stop offset=".629" stop-color="#00edff"/><stop offset=".639" stop-color="#00fcff"/><stop offset=".666" stop-color="#2dffd2"/><stop offset=".708" stop-color="#9f6"/><stop offset=".724" stop-color="#b9ff46"/><stop offset=".755" stop-color="#8bff74"/><stop offset=".761" stop-color="#95ff6a"/><stop offset=".776" stop-color="#daff25"/><stop offset=".782" stop-color="#dbff24"/><stop offset=".797" stop-color="#b1ff4e"/><stop offset=".803" stop-color="#b1ff4e"/><stop offset=".824" stop-color="#d2ff2d"/><stop offset=".829" stop-color="#fff900"/><stop offset=".845" stop-color="#ff7f00"/><stop offset=".855" stop-color="#ff1300"/><stop offset=".861" stop-color="#f10000"/><stop offset=".871" stop-color="#c40000"/><stop offset=".882" stop-color="#800000"/><stop offset=".939" stop-color="#830000"/><stop offset=".945" stop-color="#ef0000"/><stop offset=".95" stop-color="#ff5800"/><stop offset=".955" stop-color="#ff9600"/><stop offset=".971" stop-color="#f7ff08"/><stop offset=".976" stop-color="#c8ff37"/><stop offset=".982" stop-color="#b1ff4e"/><stop offset=".987" stop-color="#b1ff4e"/><stop offset="1" stop-color="#ceff31"/></linearGradient><linearGradient id="a62" gradientUnits="userSpaceOnUse" x1="30.5" x2="220.0"><stop offset="0" stop-color="#ffda00"/><stop offset=".003" stop-color="#ffda00"/><stop offset=".008" stop-color="#8dff72"/><stop offset=".013" stop-color="#00edff"/><stop offset=".071" stop-color="#09f"/><stop offset=".555" stop-color="#09f"/><stop offset=".582" stop-color="#00a8ff"/><stop offset=".613" stop-color="#00edff"/><stop offset=".629" stop-color="#00f0ff"/><stop offset=".639" stop-color="#01fffe"/><stop offset=".666" stop-color="#35ffca"/><stop offset=".708" stop-color="#a7ff58"/><stop offset=".724" stop-color="#c8ff37"/><stop offset=".75" stop-color="#a7ff58"/><stop offset=".755" stop-color="#98ff67"/><stop offset=".761" stop-color="#a2ff5d"/><stop offset=".776" stop-color="#ebff14"/><stop offset=".782" stop-color="#ecff13"/><stop offset=".797" stop-color="#bfff40"/><stop offset=".803" stop-color="#bfff40"/><stop offset=".824" stop-color="#e2ff1d"/><stop offset=".829" stop-color="#fff800"/><stop offset=".845" stop-color="#ff8000"/><stop offset=".855" stop-color="#ff1500"/><stop offset=".861" stop-color="#f20000"/><stop offset=".871" stop-color="#c70000"/><stop offset=".882" stop-color="#800000"/><stop offset=".939" stop-color="#830000"/><stop offset=".945" stop-color="#ef0000"/><stop offset=".95" stop-color="#ff5800"/><stop offset=".955" stop-color="#ff9600"/><stop offset=".971" stop-color="#f7ff08"/><stop offset=".976" stop-color="#c8ff37"/><stop offset=".982" stop-color="#b1ff4e"/><stop offset=".987" stop-color="#b1ff4e"/><stop offset="1" stop-color="#ceff31"/></linearGradient><linearGradient id="a63" gradientUnits="userSpaceOnUse" x1="30.5" x2="220.0"><stop offset="0" stop-color="#ffcf00"/><stop offset=".003" stop-color="#ffcf00"/><stop offset=".008" stop-color="#93ff6c"/><stop offset=".013" stop-color="#00edff"/><stop offset=".071" stop-color="#09f"/><stop offset=".555" stop-color="#09f"/><stop offset=".582" stop-color="#00a8ff"/><stop offset=".613" stop-color="#00edff"/><stop offset=".629" stop-color="#00f0ff"/><stop offset=".639" stop-color="#01fffe"/><stop offset=".666" stop-color="#35ffca"/><stop offset=".708" stop-color="#a7ff58"/><stop offset=".724" stop-color="#c8ff37"/><stop offset=".75" stop-color="#a7ff58"/><stop offset=".755" stop-color="#98ff67"/><stop offset=".761" stop-color="#a2ff5d"/><stop offset=".776" stop-color="#ebff14"/><stop offset=".782" stop-color="#ecff13"/><stop offset=".797" stop-color="#bfff40"/><stop offset=".803" stop-color="#bfff40"/><stop offset=".824" stop-color="#e2ff1d"/><stop offset=".829" stop-color="#fffd00"/><stop offset=".845" stop-color="#ff8100"/><stop offset=".855" stop-color="#ff1600"/><stop offset=".861" stop-color="#f20000"/><stop offset=".871" stop-color="#c70000"/><stop offset=".882" stop-color="#800000"/><stop offset=".939" stop-color="#830000"/><stop offset=".945" stop-color="#ed0000"/><stop offset=".95" stop-color="#ff5400"/><stop offset=".955" stop-color="#ff9500"/><stop offset=".966" stop-color="#ffe100"/><stop offset=".971" stop-color="#f1ff0e"/><stop offset=".976" stop-color="#c8ff37"/><stop offset=".982" stop-color="#b1ff4e"/><stop offset=".987" stop-color="#b1ff4e"/><stop offset="1" stop-color="#ceff31"/></linearGradient><linearGradient id="a64" gradientUnits="userSpaceOnUse" x1="30.5" x2="220.0"><stop offset="0" stop-color="#ffd400"/><stop offset=".003" stop-color="#ffd400"/><stop offset=".008" stop-color="#90ff6f"/><stop offset=".013" stop-color="#00edff"/><stop offset=".071" stop-color="#09f"/><stop offset=".555" stop-color="#09f"/><stop offset=".582" stop-color="#00a8ff"/><stop offset=".613" stop-color="#00edff"/><stop offset=".629" stop-color="#00f0ff"/><stop offset=".639" stop-color="#01fffe"/><stop offset=".666" stop-color="#35ffca"/><stop offset=".708" stop-color="#a7ff58"/><stop offset=".724" stop-color="#c8ff37"/><stop offset=".75" stop-color="#a7ff58"/><stop offset=".755" stop-color="#98ff67"/><stop offset=".761" stop-color="#a2ff5d"/><stop offset=".776" stop-color="#ebff14"/><stop offset=".782" stop-color="#ecff13"/><stop offset=".797" stop-color="#bfff40"/><stop offset=".803" stop-color="#bfff40"/><stop offset=".829" stop-color="#efff10"/><stop offset=".834" stop-color="#ffdc00"/><stop offset=".845" stop-color="#ff8300"/><stop offset=".855" stop-color="#ff1600"/><stop offset=".861" stop-color="#f10000"/><stop offset=".871" stop-color="#c30000"/><stop offset=".876" stop-color="#9b0000"/><stop offset=".882" stop-color="#800000"/><stop offset=".939" stop-color="#830000"/><stop offset=".945" stop-color="#e70000"/><stop offset=".95" stop-color="#ff4b00"/><stop offset=".955" stop-color="#ff9400"/><stop offset=".966" stop-color="#ffe600"/><stop offset=".971" stop-color="#e8ff17"/><stop offset=".982" stop-color="#b1ff4e"/><stop offset=".987" stop-color="#b1ff4e"/><stop offset="1" stop-color="#ceff31"/></linearGradient><linearGradient id="a65" gradientUnits="userSpaceOnUse" x1="30.5" x2="220.0"><stop offset="0" stop-color="#ffda00"/><stop offset=".003" stop-color="#ffda00"/><stop offset=".008" stop-color="#8dff72"/><stop offset=".013" stop-color="#00edff"/><stop offset=".071" stop-color="#09f"/><stop offset=".555" stop-color="#09f"/><stop offset=".582" stop-color="#00a8ff"/><stop offset=".613" stop-color="#00edff"/><stop offset=".629" stop-color="#00f0ff"/><stop offset=".639" stop-color="#01fffe"/><stop offset=".666" stop-color="#35ffca"/><stop offset=".708" stop-color="#a7ff58"/><stop offset=".724" stop-color="#c8ff37"/><stop offset=".75" stop-color="#a7ff58"/><stop offset=".755" stop-color="#98ff67"/><stop offset=".761" stop-color="#a2ff5d"/><stop offset=".776" stop-color="#ebff14"/><stop offset=".782" stop-color="#ecff13"/><stop offset=".797" stop-color="#bfff40"/><stop offset=".803" stop-color="#bfff40"/><stop offset=".818" stop-color="#deff21"/><stop offset=".829" stop-color="#e3ff1c"/><stop offset=".834" stop-color="#ffe600"/><stop offset=".845" stop-color="#ff8600"/><stop offset=".855" stop-color="#ff1500"/><stop offset=".861" stop-color="#f00000"/><stop offset=".871" stop-color="#be0000"/><stop offset=".876" stop-color="#950000"/><stop offset=".882" stop-color="#800000"/><stop offset=".939" stop-color="#830000"/><stop offset=".945" stop-color="#e20000"/><stop offset=".95" stop-color="#ff4300"/><stop offset=".955" stop-color="#ff9100"/><stop offset=".966" stop-color="#ffeb00"/><stop offset=".971" stop-color="#e8ff17"/><stop offset=".982" stop-color="#b1ff4e"/><stop offset=".987" stop-color="#b1ff4e"/><stop offset="1" stop-color="#ceff31"/></linearGradient><linearGradient id="a66" gradientUnits="userSpaceOnUse" x1="30.5" x2="220.0"><stop offset="0" stop-color="#ffe100"/><stop offset=".003" stop-color="#ffe100"/><stop offset=".008" stop-color="#89ff76"/><stop offset=".013" stop-color="#00edff"/><stop offset=".071" stop-color="#09f"/><stop offset=".555" stop-color="#09f"/><stop offset=".582" stop-color="#00a8ff"/><stop offset=".613" stop-color="#00edff"/><stop offset=".629" stop-color="#00efff"/><stop offset=".639" stop-color="#0ff"/><stop offset=".666" stop-color="#34ffcb"/><stop offset=".708" stop-color="#a6ff59"/><stop offset=".724" stop-color="#c7ff38"/><stop offset=".75" stop-color="#a6ff59"/><stop offset=".755" stop-color="#97ff68"/><stop offset=".761" stop-color="#a1ff5e"/><stop offset=".776" stop-color="#eaff15"/><stop offset=".782" stop-color="#ebff14"/><stop offset=".797" stop-color="#beff41"/><stop offset=".803" stop-color="#beff41"/><stop offset=".818" stop-color="#df2"/><stop offset=".829" stop-color="#e2ff1d"/><stop offset=".834" stop-color="#fff500"/><stop offset=".855" stop-color="#ff1400"/><stop offset=".861" stop-color="#e00"/><stop offset=".871" stop-color="#b60000"/><stop offset=".876" stop-color="#8d0000"/><stop offset=".882" stop-color="#800000"/><stop offset=".939" stop-color="#820000"/><stop offset=".945" stop-color="#d00"/><stop offset=".95" stop-color="#ff3900"/><stop offset=".955" stop-color="#ff8e00"/><stop offset=".966" stop-color="#fff400"/><stop offset=".971" stop-color="#e8ff17"/><stop offset=".982" stop-color="#b1ff4e"/><stop offset=".987" stop-color="#b1ff4e"/><stop offset="1" stop-color="#ceff31"/></linearGradient><linearGradient id="a67" gradientUnits="userSpaceOnUse" x1="30.5" x2="220.0"><stop offset="0" stop-color="#ffe800"/><stop offset=".003" stop-color="#ffe800"/><stop offset=".008" stop-color="#86ff79"/><stop offset=".013" stop-color="#00edff"/><stop offset=".071" stop-color="#09f"/><stop offset=".555" stop-color="#09f"/><stop offset=".582" stop-color="#00a8ff"/><stop offset=".613" stop-color="#00ebff"/><stop offset=".629" stop-color="#00ecff"/><stop offset=".639" stop-color="#00faff"/><stop offset=".666" stop-color="#29ffd6"/><stop offset=".708" stop-color="#93ff6c"/><stop offset=".724" stop-color="#b2ff4d"/><stop offset=".755" stop-color="#85ff7a"/><stop offset=".761" stop-color="#8eff71"/><stop offset=".776" stop-color="#d1ff2e"/><stop offset=".782" stop-color="#d2ff2d"/><stop offset=".797" stop-color="#a9ff56"/><stop offset=".803" stop-color="#af5"/><stop offset=".818" stop-color="#c6ff39"/><stop offset=".829" stop-color="#cbff34"/><stop offset=".834" stop-color="#fffe00"/><stop offset=".855" stop-color="#f10"/><stop offset=".861" stop-color="#eb0000"/><stop offset=".871" stop-color="#b00000"/><stop offset=".876" stop-color="#800"/><stop offset=".882" stop-color="#800000"/><stop offset=".939" stop-color="#850000"/><stop offset=".945" stop-color="#d00"/><stop offset=".95" stop-color="#ff3a00"/><stop offset=".955" stop-color="#ff9100"/><stop offset=".966" stop-color="#f9ff06"/><stop offset=".982" stop-color="#a9ff56"/><stop offset=".987" stop-color="#a9ff56"/><stop offset="1" stop-color="#c6ff39"/></linearGradient><linearGradient id="a68" gradientUnits="userSpaceOnUse" x1="30.5" x2="220.0"><stop offset="0" stop-color="#fffa00"/><stop offset=".003" stop-color="#fffa00"/><stop offset=".008" stop-color="#7dff82"/><stop offset=".013" stop-color="#00edff"/><stop offset=".071" stop-color="#09f"/><stop offset=".555" stop-color="#09f"/><stop offset=".582" stop-color="#00a8ff"/><stop offset=".613" stop-color="#00e8ff"/><stop offset=".629" stop-color="#00e8ff"/><stop offset=".645" stop-color="#00fdff"/><stop offset=".666" stop-color="#1fffe0"/><stop offset=".724" stop-color="#9eff61"/><stop offset=".755" stop-color="#74ff8b"/><stop offset=".761" stop-color="#7dff82"/><stop offset=".776" stop-color="#bf4"/><stop offset=".782" stop-color="#bf4"/><stop offset=".797" stop-color="#97ff68"/><stop offset=".803" stop-color="#97ff68"/><stop offset=".824" stop-color="#b5ff4a"/><stop offset=".829" stop-color="#c4ff3b"/><stop offset=".834" stop-color="#fff200"/><stop offset=".855" stop-color="#fe0000"/><stop offset=".866" stop-color="#cb0000"/><stop offset=".876" stop-color="#800000"/><stop offset=".934" stop-color="#800000"/><stop offset=".939" stop-color="#9d0000"/><stop offset=".945" stop-color="#f80000"/><stop offset=".95" stop-color="#ff7600"/><stop offset=".955" stop-color="#ffc900"/><stop offset=".961" stop-color="#e0ff1f"/><stop offset=".966" stop-color="#a8ff57"/><stop offset=".971" stop-color="#9dff62"/><stop offset=".982" stop-color="#6eff91"/><stop offset=".987" stop-color="#6fff90"/><stop offset=".997" stop-color="#8eff71"/><stop offset="1" stop-color="#8eff71"/></linearGradient><linearGradient id="a69" gradientUnits="userSpaceOnUse" x1="30.5" x2="220.0"><stop offset="0" stop-color="#f2ff0d"/><stop offset=".003" stop-color="#f2ff0d"/><stop offset=".008" stop-color="#73ff8c"/><stop offset=".013" stop-color="#00ecff"/><stop offset=".071" stop-color="#09f"/><stop offset=".555" stop-color="#09f"/><stop offset=".582" stop-color="#00a7ff"/><stop offset=".613" stop-color="#00e2ff"/><stop offset=".634" stop-color="#00e0ff"/><stop offset=".661" stop-color="#00f9ff"/><stop offset=".666" stop-color="#01fffe"/><stop offset=".724" stop-color="#64ff9b"/><stop offset=".755" stop-color="#41ffbe"/><stop offset=".776" stop-color="#7f8"/><stop offset=".782" stop-color="#78ff87"/><stop offset=".797" stop-color="#5effa1"/><stop offset=".818" stop-color="#72ff8d"/><stop offset=".824" stop-color="#80ff7f"/><stop offset=".829" stop-color="#d1ff2e"/><stop offset=".834" stop-color="#ffe500"/><stop offset=".85" stop-color="#ff2a00"/><stop offset=".855" stop-color="#f70000"/><stop offset=".866" stop-color="#c70000"/><stop offset=".876" stop-color="#800000"/><stop offset=".934" stop-color="#800000"/><stop offset=".939" stop-color="#b70000"/><stop offset=".945" stop-color="#ff2f00"/><stop offset=".95" stop-color="#ffc700"/><stop offset=".955" stop-color="#b7ff48"/><stop offset=".961" stop-color="#67ff98"/><stop offset=".971" stop-color="#5affa5"/><stop offset=".982" stop-color="#3fc"/><stop offset=".987" stop-color="#35ffca"/><stop offset=".997" stop-color="#5fa"/><stop offset="1" stop-color="#5fa"/></linearGradient><linearGradient id="a70" gradientUnits="userSpaceOnUse" x1="30.5" x2="220.0"><stop offset="0" stop-color="#e0ff1f"/><stop offset=".003" stop-color="#e0ff1f"/><stop offset=".008" stop-color="#6f9"/><stop offset=".013" stop-color="#00e4ff"/><stop offset=".071" stop-color="#09f"/><stop offset=".555" stop-color="#09f"/><stop offset=".582" stop-color="#00a6ff"/><stop offset=".613" stop-color="#00dbff"/><stop offset=".634" stop-color="#00d4ff"/><stop offset=".661" stop-color="#00dfff"/><stop offset=".687" stop-color="#0ff"/><stop offset=".724" stop-color="#2dffd2"/><stop offset=".745" stop-color="#10ffef"/><stop offset=".761" stop-color="#18ffe7"/><stop offset=".776" stop-color="#37ffc8"/><stop offset=".797" stop-color="#2affd5"/><stop offset=".818" stop-color="#37ffc8"/><stop offset=".829" stop-color="#df2"/><stop offset=".834" stop-color="#ffd800"/><stop offset=".85" stop-color="#ff1900"/><stop offset=".855" stop-color="#f10000"/><stop offset=".866" stop-color="#c40000"/><stop offset=".871" stop-color="#9a0000"/><stop offset=".876" stop-color="#800000"/><stop offset=".934" stop-color="#800000"/><stop offset=".939" stop-color="#cf0000"/><stop offset=".945" stop-color="#ff8600"/><stop offset=".95" stop-color="#b3ff4c"/><stop offset=".955" stop-color="#2effd1"/><stop offset=".971" stop-color="#28ffd7"/><stop offset=".982" stop-color="#07fff8"/><stop offset=".987" stop-color="#09fff6"/><stop offset=".997" stop-color="#2bffd4"/><stop offset="1" stop-color="#2bffd4"/></linearGradient><linearGradient id="a71" gradientUnits="userSpaceOnUse" x1="30.5" x2="220.0"><stop offset="0" stop-color="#cdff32"/><stop offset=".003" stop-color="#cdff32"/><stop offset=".008" stop-color="#58ffa7"/><stop offset=".013" stop-color="#00dbff"/><stop offset=".071" stop-color="#09f"/><stop offset=".555" stop-color="#09f"/><stop offset=".582" stop-color="#00a8ff"/><stop offset=".613" stop-color="#00ebff"/><stop offset=".629" stop-color="#00ecff"/><stop offset=".639" stop-color="#00f9ff"/><stop offset=".666" stop-color="#29ffd6"/><stop offset=".708" stop-color="#93ff6c"/><stop offset=".724" stop-color="#b2ff4d"/><stop offset=".755" stop-color="#85ff7a"/><stop offset=".761" stop-color="#8eff71"/><stop offset=".776" stop-color="#d1ff2e"/><stop offset=".782" stop-color="#d2ff2d"/><stop offset=".797" stop-color="#a9ff56"/><stop offset=".803" stop-color="#a9ff56"/><stop offset=".824" stop-color="#caff35"/><stop offset=".829" stop-color="#e5ff1a"/><stop offset=".834" stop-color="#ffd200"/><stop offset=".85" stop-color="#ff1000"/><stop offset=".855" stop-color="#e00"/><stop offset=".866" stop-color="#c10000"/><stop offset=".871" stop-color="#8e0000"/><stop offset=".876" stop-color="#800000"/><stop offset=".934" stop-color="#800000"/><stop offset=".939" stop-color="#d50000"/><stop offset=".945" stop-color="#ff8400"/><stop offset=".95" stop-color="#e1ff1e"/><stop offset=".955" stop-color="#5fffa0"/><stop offset=".961" stop-color="#36ffc9"/><stop offset=".971" stop-color="#2effd1"/><stop offset=".982" stop-color="#0cfff3"/><stop offset=".987" stop-color="#0ffff0"/><stop offset=".997" stop-color="#30ffcf"/><stop offset="1" stop-color="#30ffcf"/></linearGradient><linearGradient id="a72" gradientUnits="userSpaceOnUse" x1="30.5" x2="220.0"><stop offset="0" stop-color="#bf4"/><stop offset=".003" stop-color="#bf4"/><stop offset=".008" stop-color="#4affb5"/><stop offset=".013" stop-color="#00d3ff"/><stop offset=".071" stop-color="#09f"/><stop offset=".555" stop-color="#09f"/><stop offset=".582" stop-color="#00a8ff"/><stop offset=".613" stop-color="#00ecff"/><stop offset=".629" stop-color="#00edff"/><stop offset=".639" stop-color="#00fcff"/><stop offset=".666" stop-color="#2effd1"/><stop offset=".708" stop-color="#9bff64"/><stop offset=".724" stop-color="#baff45"/><stop offset=".755" stop-color="#8cff73"/><stop offset=".761" stop-color="#96ff69"/><stop offset=".776" stop-color="#dbff24"/><stop offset=".782" stop-color="#dcff23"/><stop offset=".797" stop-color="#b2ff4d"/><stop offset=".803" stop-color="#b2ff4d"/><stop offset=".824" stop-color="#d3ff2c"/><stop offset=".829" stop-color="#ebff14"/><stop offset=".834" stop-color="#ffcd00"/><stop offset=".85" stop-color="#ff0800"/><stop offset=".855" stop-color="#eb0000"/><stop offset=".866" stop-color="#b00"/><stop offset=".871" stop-color="#820000"/><stop offset=".876" stop-color="#800000"/><stop offset=".934" stop-color="#800000"/><stop offset=".939" stop-color="#d00"/><stop offset=".945" stop-color="#ff8300"/><stop offset=".95" stop-color="#fcff03"/><stop offset=".955" stop-color="#8eff71"/><stop offset=".961" stop-color="#3cffc3"/><stop offset=".971" stop-color="#34ffcb"/><stop offset=".982" stop-color="#1fe"/><stop offset=".987" stop-color="#13ffec"/><stop offset=".997" stop-color="#35ffca"/><stop offset="1" stop-color="#35ffca"/></linearGradient><linearGradient id="a73" gradientUnits="userSpaceOnUse" x1="30.5" x2="220.0"><stop offset="0" stop-color="#a9ff56"/><stop offset=".003" stop-color="#a9ff56"/><stop offset=".008" stop-color="#3dffc2"/><stop offset=".013" stop-color="#00cbff"/><stop offset=".071" stop-color="#09f"/><stop offset=".555" stop-color="#09f"/><stop offset=".582" stop-color="#00a8ff"/><stop offset=".613" stop-color="#00ecff"/><stop offset=".629" stop-color="#00edff"/><stop offset=".639" stop-color="#00fbff"/><stop offset=".666" stop-color="#2dffd2"/><stop offset=".708" stop-color="#9f6"/><stop offset=".724" stop-color="#b9ff46"/><stop offset=".755" stop-color="#8bff74"/><stop offset=".761" stop-color="#94ff6b"/><stop offset=".776" stop-color="#daff25"/><stop offset=".782" stop-color="#daff25"/><stop offset=".797" stop-color="#b0ff4f"/><stop offset=".803" stop-color="#b0ff4f"/><stop offset=".824" stop-color="#d2ff2d"/><stop offset=".829" stop-color="#ebff14"/><stop offset=".834" stop-color="#ffcd00"/><stop offset=".85" stop-color="#ff0800"/><stop offset=".855" stop-color="#eb0000"/><stop offset=".866" stop-color="#b00"/><stop offset=".871" stop-color="#820000"/><stop offset=".876" stop-color="#800000"/><stop offset=".934" stop-color="#800000"/><stop offset=".939" stop-color="#d00"/><stop offset=".945" stop-color="#ff8300"/><stop offset=".95" stop-color="#fcff03"/><stop offset=".955" stop-color="#8eff71"/><stop offset=".961" stop-color="#3cffc3"/><stop offset=".971" stop-color="#34ffcb"/><stop offset=".982" stop-color="#1fe"/><stop offset=".987" stop-color="#13ffec"/><stop offset=".997" stop-color="#35ffca"/><stop offset="1" stop-color="#35ffca"/></linearGradient><linearGradient id="a74" gradientUnits="userSpaceOnUse" x1="30.5" x2="220.0"><stop offset="0" stop-color="#95ff6a"/><stop offset=".003" stop-color="#95ff6a"/><stop offset=".008" stop-color="#2cffd3"/><stop offset=".013" stop-color="#00beff"/><stop offset=".071" stop-color="#09f"/><stop offset=".555" stop-color="#09f"/><stop offset=".582" stop-color="#00a8ff"/><stop offset=".613" stop-color="#00ebff"/><stop offset=".629" stop-color="#00edff"/><stop offset=".639" stop-color="#00fbff"/><stop offset=".666" stop-color="#2cffd3"/><stop offset=".708" stop-color="#97ff68"/><stop offset=".724" stop-color="#b7ff48"/><stop offset=".755" stop-color="#89ff76"/><stop offset=".761" stop-color="#92ff6d"/><stop offset=".776" stop-color="#d7ff28"/><stop offset=".782" stop-color="#d7ff28"/><stop offset=".797" stop-color="#aeff51"/><stop offset=".803" stop-color="#aeff51"/><stop offset=".824" stop-color="#cfff30"/><stop offset=".829" stop-color="#ebff14"/><stop offset=".834" stop-color="#ffcd00"/><stop offset=".85" stop-color="#ff0800"/><stop offset=".855" stop-color="#eb0000"/><stop offset=".866" stop-color="#b00"/><stop offset=".871" stop-color="#820000"/><stop offset=".876" stop-color="#800000"/><stop offset=".934" stop-color="#800000"/><stop offset=".939" stop-color="#d00"/><stop offset=".945" stop-color="#ff8300"/><stop offset=".95" stop-color="#fcff03"/><stop offset=".955" stop-color="#8eff71"/><stop offset=".961" stop-color="#3cffc3"/><stop offset=".971" stop-color="#34ffcb"/><stop offset=".982" stop-color="#1fe"/><stop offset=".987" stop-color="#13ffec"/><stop offset=".997" stop-color="#35ffca"/><stop offset="1" stop-color="#35ffca"/></linearGradient><linearGradient id="a75" gradientUnits="userSpaceOnUse" x1="30.5" x2="220.0"><stop offset="0" stop-color="#8aff75"/><stop offset=".003" stop-color="#8aff75"/><stop offset=".008" stop-color="#20ffdf"/><stop offset=".013" stop-color="#00b1ff"/><stop offset=".071" stop-color="#09f"/><stop offset=".555" stop-color="#09f"/><stop offset=".582" stop-color="#00a8ff"/><stop offset=".613" stop-color="#00eaff"/><stop offset=".629" stop-color="#00eaff"/><stop offset=".639" stop-color="#00f7ff"/><stop offset=".645" stop-color="#01fffe"/><stop offset=".666" stop-color="#23ffdc"/><stop offset=".708" stop-color="#89ff76"/><stop offset=".724" stop-color="#a7ff58"/><stop offset=".755" stop-color="#7bff84"/><stop offset=".761" stop-color="#84ff7b"/><stop offset=".776" stop-color="#c5ff3a"/><stop offset=".782" stop-color="#c5ff3a"/><stop offset=".797" stop-color="#9fff60"/><stop offset=".803" stop-color="#9fff60"/><stop offset=".824" stop-color="#beff41"/><stop offset=".829" stop-color="#ebff14"/><stop offset=".834" stop-color="#ffcd00"/><stop offset=".85" stop-color="#ff0800"/><stop offset=".855" stop-color="#eb0000"/><stop offset=".866" stop-color="#b00"/><stop offset=".871" stop-color="#820000"/><stop offset=".876" stop-color="#800000"/><stop offset=".934" stop-color="#800000"/><stop offset=".939" stop-color="#d00"/><stop offset=".945" stop-color="#ff8300"/><stop offset=".95" stop-color="#fcff03"/><stop offset=".955" stop-color="#8eff71"/><stop offset=".961" stop-color="#3cffc3"/><stop offset=".971" stop-color="#34ffcb"/><stop offset=".982" stop-color="#1fe"/><stop offset=".987" stop-color="#13ffec"/><stop offset=".997" stop-color="#35ffca"/><stop offset="1" stop-color="#35ffca"/></linearGradient><linearGradient id="a76" gradientUnits="userSpaceOnUse" x1="30.5" x2="220.0"><stop offset="0" stop-color="#82ff7d"/><stop offset=".003" stop-color="#82ff7d"/><stop offset=".008" stop-color="#18ffe7"/><stop offset=".013" stop-color="#00a9ff"/><stop offset=".071" stop-color="#09f"/><stop offset=".555" stop-color="#09f"/><stop offset=".582" stop-color="#00a6ff"/><stop offset=".613" stop-color="#00dbff"/><stop offset=".634" stop-color="#00d3ff"/><stop offset=".661" stop-color="#00dcff"/><stop offset=".687" stop-color="#00fcff"/><stop offset=".724" stop-color="#28ffd7"/><stop offset=".745" stop-color="#0bfff4"/><stop offset=".761" stop-color="#14ffeb"/><stop offset=".776" stop-color="#32ffcd"/><stop offset=".797" stop-color="#25ffda"/><stop offset=".818" stop-color="#36ffc9"/><stop offset=".829" stop-color="#ebff14"/><stop offset=".834" stop-color="#ffcd00"/><stop offset=".85" stop-color="#ff0800"/><stop offset=".855" stop-color="#eb0000"/><stop offset=".866" stop-color="#b00"/><stop offset=".871" stop-color="#820000"/><stop offset=".876" stop-color="#800000"/><stop offset=".934" stop-color="#800000"/><stop offset=".939" stop-color="#d00"/><stop offset=".945" stop-color="#ff8300"/><stop offset=".95" stop-color="#fcff03"/><stop offset=".955" stop-color="#8eff71"/><stop offset=".961" stop-color="#3cffc3"/><stop offset=".971" stop-color="#34ffcb"/><stop offset=".982" stop-color="#1fe"/><stop offset=".987" stop-color="#13ffec"/><stop offset=".997" stop-color="#35ffca"/><stop offset="1" stop-color="#35ffca"/></linearGradient><linearGradient id="a77" gradientUnits="userSpaceOnUse" x1="30.5" x2="220.0"><stop offset="0" stop-color="#7bff84"/><stop offset=".003" stop-color="#7bff84"/><stop offset=".008" stop-color="#10ffef"/><stop offset=".013" stop-color="#00a1ff"/><stop offset=".071" stop-color="#09f"/><stop offset=".555" stop-color="#09f"/><stop offset=".582" stop-color="#00a7ff"/><stop offset=".613" stop-color="#00e6ff"/><stop offset=".634" stop-color="#00e8ff"/><stop offset=".65" stop-color="#00feff"/><stop offset=".666" stop-color="#15ffea"/><stop offset=".724" stop-color="#8bff74"/><stop offset=".755" stop-color="#63ff9c"/><stop offset=".761" stop-color="#6cff93"/><stop offset=".776" stop-color="#a4ff5b"/><stop offset=".782" stop-color="#a5ff5a"/><stop offset=".797" stop-color="#84ff7b"/><stop offset=".824" stop-color="#9fff60"/><stop offset=".829" stop-color="#ebff14"/><stop offset=".834" stop-color="#ffcd00"/><stop offset=".85" stop-color="#ff0800"/><stop offset=".855" stop-color="#eb0000"/><stop offset=".866" stop-color="#b00"/><stop offset=".871" stop-color="#820000"/><stop offset=".876" stop-color="#800000"/><stop offset=".934" stop-color="#800000"/><stop offset=".939" stop-color="#d00"/><stop offset=".945" stop-color="#ff8300"/><stop offset=".95" stop-color="#fcff03"/><stop offset=".955" stop-color="#8eff71"/><stop offset=".961" stop-color="#3cffc3"/><stop offset=".971" stop-color="#34ffcb"/><stop offset=".982" stop-color="#1fe"/><stop offset=".987" stop-color="#13ffec"/><stop offset=".997" stop-color="#35ffca"/><stop offset="1" stop-color="#35ffca"/></linearGradient><linearGradient id="a78" gradientUnits="userSpaceOnUse" x1="30.5" x2="220.0"><stop offset="0" stop-color="#74ff8b"/><stop offset=".003" stop-color="#74ff8b"/><stop offset=".008" stop-color="#08fff7"/><stop offset=".013" stop-color="#09f"/><stop offset=".555" stop-color="#09f"/><stop offset=".582" stop-color="#00a7ff"/><stop offset=".613" stop-color="#00e8ff"/><stop offset=".629" stop-color="#00e7ff"/><stop offset=".645" stop-color="#00fbff"/><stop offset=".666" stop-color="#1bffe4"/><stop offset=".724" stop-color="#97ff68"/><stop offset=".755" stop-color="#6eff91"/><stop offset=".761" stop-color="#76ff89"/><stop offset=".776" stop-color="#b2ff4d"/><stop offset=".782" stop-color="#b3ff4c"/><stop offset=".797" stop-color="#90ff6f"/><stop offset=".803" stop-color="#90ff6f"/><stop offset=".824" stop-color="#adff52"/><stop offset=".829" stop-color="#e5ff1a"/><stop offset=".834" stop-color="#ffd000"/><stop offset=".85" stop-color="#ff0800"/><stop offset=".855" stop-color="#ec0000"/><stop offset=".866" stop-color="#c00000"/><stop offset=".871" stop-color="#8b0000"/><stop offset=".876" stop-color="#800000"/><stop offset=".934" stop-color="#800000"/><stop offset=".939" stop-color="#de0000"/><stop offset=".945" stop-color="#ff8400"/><stop offset=".95" stop-color="#fbff04"/><stop offset=".955" stop-color="#8cff73"/><stop offset=".961" stop-color="#3cffc3"/><stop offset=".971" stop-color="#3fc"/><stop offset=".982" stop-color="#1fe"/><stop offset=".987" stop-color="#13ffec"/><stop offset=".997" stop-color="#34ffcb"/><stop offset="1" stop-color="#34ffcb"/></linearGradient><linearGradient id="a79" gradientUnits="userSpaceOnUse" x1="30.5" x2="220.0"><stop offset="0" stop-color="#6dff92"/><stop offset=".003" stop-color="#6dff92"/><stop offset=".008" stop-color="#04fffb"/><stop offset=".013" stop-color="#09f"/><stop offset=".555" stop-color="#09f"/><stop offset=".582" stop-color="#00a7ff"/><stop offset=".613" stop-color="#00e8ff"/><stop offset=".629" stop-color="#00e7ff"/><stop offset=".645" stop-color="#00fbff"/><stop offset=".666" stop-color="#1bffe4"/><stop offset=".724" stop-color="#97ff68"/><stop offset=".755" stop-color="#6eff91"/><stop offset=".761" stop-color="#76ff89"/><stop offset=".776" stop-color="#b2ff4d"/><stop offset=".782" stop-color="#b3ff4c"/><stop offset=".797" stop-color="#90ff6f"/><stop offset=".829" stop-color="#aeff51"/><stop offset=".834" stop-color="#fffa00"/><stop offset=".85" stop-color="#ff0a00"/><stop offset=".855" stop-color="#f10000"/><stop offset=".871" stop-color="#c20000"/><stop offset=".882" stop-color="#840000"/><stop offset=".887" stop-color="#800000"/><stop offset=".934" stop-color="#800000"/><stop offset=".939" stop-color="#ea0000"/><stop offset=".945" stop-color="#ff9100"/><stop offset=".95" stop-color="#efff10"/><stop offset=".955" stop-color="#7bff84"/><stop offset=".961" stop-color="#38ffc7"/><stop offset=".971" stop-color="#30ffcf"/><stop offset=".982" stop-color="#0efff1"/><stop offset=".987" stop-color="#10ffef"/><stop offset=".997" stop-color="#31ffce"/><stop offset="1" stop-color="#31ffce"/></linearGradient><linearGradient id="a80" gradientUnits="userSpaceOnUse" x1="30.5" x2="220.0"><stop offset="0" stop-color="#6f9"/><stop offset=".003" stop-color="#6f9"/><stop offset=".008" stop-color="#01fffe"/><stop offset=".013" stop-color="#09f"/><stop offset=".555" stop-color="#09f"/><stop offset=".582" stop-color="#00a7ff"/><stop offset=".613" stop-color="#00e1ff"/><stop offset=".634" stop-color="#00deff"/><stop offset=".666" stop-color="#00fcff"/><stop offset=".724" stop-color="#5dffa2"/><stop offset=".745" stop-color="#40ffbf"/><stop offset=".755" stop-color="#3bffc4"/><stop offset=".776" stop-color="#6fff90"/><stop offset=".782" stop-color="#70ff8f"/><stop offset=".797" stop-color="#58ffa7"/><stop offset=".829" stop-color="#6eff91"/><stop offset=".834" stop-color="#e0ff1f"/><stop offset=".839" stop-color="#ffc000"/><stop offset=".85" stop-color="#ff1600"/><stop offset=".855" stop-color="#f70000"/><stop offset=".882" stop-color="#c30000"/><stop offset=".892" stop-color="#8a0000"/><stop offset=".897" stop-color="#800000"/><stop offset=".934" stop-color="#800000"/><stop offset=".939" stop-color="#f20000"/><stop offset=".945" stop-color="#ff9a00"/><stop offset=".95" stop-color="#e0ff1f"/><stop offset=".955" stop-color="#68ff97"/><stop offset=".961" stop-color="#34ffcb"/><stop offset=".971" stop-color="#2cffd3"/><stop offset=".982" stop-color="#0afff5"/><stop offset=".987" stop-color="#0dfff2"/><stop offset=".997" stop-color="#2effd1"/><stop offset="1" stop-color="#2effd1"/></linearGradient><linearGradient id="a81" gradientUnits="userSpaceOnUse" x1="30.5" x2="220.0"><stop offset="0" stop-color="#6f9"/><stop offset=".003" stop-color="#6f9"/><stop offset=".008" stop-color="#01fffe"/><stop offset=".013" stop-color="#09f"/><stop offset=".092" stop-color="#09f"/><stop offset=".555" stop-color="#09f"/><stop offset=".582" stop-color="#00a7ff"/><stop offset=".613" stop-color="#00e5ff"/><stop offset=".634" stop-color="#00e5ff"/><stop offset=".655" stop-color="#01fffe"/><stop offset=".666" stop-color="#0efff1"/><stop offset=".724" stop-color="#7dff82"/><stop offset=".755" stop-color="#57ffa8"/><stop offset=".761" stop-color="#5fffa0"/><stop offset=".776" stop-color="#94ff6b"/><stop offset=".782" stop-color="#95ff6a"/><stop offset=".797" stop-color="#7f8"/><stop offset=".818" stop-color="#8dff72"/><stop offset=".834" stop-color="#92ff6d"/><stop offset=".839" stop-color="#fbff04"/><stop offset=".855" stop-color="#ff0700"/><stop offset=".861" stop-color="#f60000"/><stop offset=".887" stop-color="#c60000"/><stop offset=".892" stop-color="#b70000"/><stop offset=".903" stop-color="#800000"/><stop offset=".929" stop-color="#800000"/><stop offset=".934" stop-color="#850000"/><stop offset=".939" stop-color="#f90000"/><stop offset=".945" stop-color="#ffa300"/><stop offset=".95" stop-color="#d4ff2b"/><stop offset=".955" stop-color="#59ffa6"/><stop offset=".961" stop-color="#30ffcf"/><stop offset=".971" stop-color="#28ffd7"/><stop offset=".982" stop-color="#07fff8"/><stop offset=".987" stop-color="#09fff6"/><stop offset=".997" stop-color="#2bffd4"/><stop offset="1" stop-color="#2bffd4"/></linearGradient><linearGradient id="a82" gradientUnits="userSpaceOnUse" x1="30.5" x2="220.0"><stop offset="0" stop-color="#6f9"/><stop offset=".003" stop-color="#6f9"/><stop offset=".008" stop-color="#01fffe"/><stop offset=".013" stop-color="#09f"/><stop offset=".555" stop-color="#09f"/><stop offset=".582" stop-color="#00a8ff"/><stop offset=".613" stop-color="#00eaff"/><stop offset=".629" stop-color="#00eaff"/><stop offset=".639" stop-color="#00f7ff"/><stop offset=".645" stop-color="#02fffd"/><stop offset=".666" stop-color="#25ffda"/><stop offset=".708" stop-color="#8cff73"/><stop offset=".724" stop-color="#af5"/><stop offset=".755" stop-color="#7eff81"/><stop offset=".761" stop-color="#87ff78"/><stop offset=".776" stop-color="#c8ff37"/><stop offset=".782" stop-color="#c9ff36"/><stop offset=".797" stop-color="#a2ff5d"/><stop offset=".803" stop-color="#a2ff5d"/><stop offset=".818" stop-color="#bdff42"/><stop offset=".839" stop-color="#c4ff3b"/><stop offset=".845" stop-color="#dbff24"/><stop offset=".85" stop-color="#ffc200"/><stop offset=".855" stop-color="#ff7100"/><stop offset=".861" stop-color="#ff2b00"/><stop offset=".866" stop-color="#fb0000"/><stop offset=".892" stop-color="#c30000"/><stop offset=".903" stop-color="#820000"/><stop offset=".929" stop-color="#800000"/><stop offset=".934" stop-color="#8a0000"/><stop offset=".939" stop-color="#fe0000"/><stop offset=".945" stop-color="#ffa900"/><stop offset=".95" stop-color="#cdff32"/><stop offset=".955" stop-color="#4cffb3"/><stop offset=".961" stop-color="#2bffd4"/><stop offset=".971" stop-color="#25ffda"/><stop offset=".982" stop-color="#04fffb"/><stop offset=".987" stop-color="#06fff9"/><stop offset=".997" stop-color="#28ffd7"/><stop offset="1" stop-color="#28ffd7"/></linearGradient><linearGradient id="a83" gradientUnits="userSpaceOnUse" x1="30.5" x2="220.0"><stop offset="0" stop-color="#6f9"/><stop offset=".003" stop-color="#6f9"/><stop offset=".008" stop-color="#01fffe"/><stop offset=".013" stop-color="#09f"/><stop offset=".555" stop-color="#09f"/><stop offset=".582" stop-color="#00a8ff"/><stop offset=".613" stop-color="#00e9ff"/><stop offset=".629" stop-color="#00e9ff"/><stop offset=".645" stop-color="#00feff"/><stop offset=".666" stop-color="#20ffdf"/><stop offset=".724" stop-color="#a0ff5f"/><stop offset=".755" stop-color="#75ff8a"/><stop offset=".761" stop-color="#7eff81"/><stop offset=".776" stop-color="#bdff42"/><stop offset=".782" stop-color="#bdff42"/><stop offset=".797" stop-color="#98ff67"/><stop offset=".803" stop-color="#9f6"/><stop offset=".818" stop-color="#b2ff4d"/><stop offset=".85" stop-color="#c1ff3e"/><stop offset=".855" stop-color="#ffd500"/><stop offset=".861" stop-color="#ff8100"/><stop offset=".871" stop-color="#ff0900"/><stop offset=".876" stop-color="#f40000"/><stop offset=".897" stop-color="#be0000"/><stop offset=".903" stop-color="#940000"/><stop offset=".908" stop-color="#800000"/><stop offset=".929" stop-color="#800000"/><stop offset=".934" stop-color="#8f0000"/><stop offset=".939" stop-color="#ff0700"/><stop offset=".945" stop-color="#ffaf00"/><stop offset=".95" stop-color="#c6ff39"/><stop offset=".955" stop-color="#41ffbe"/><stop offset=".961" stop-color="#27ffd8"/><stop offset=".971" stop-color="#21ffde"/><stop offset=".982" stop-color="#01fffe"/><stop offset=".987" stop-color="#03fffc"/><stop offset=".997" stop-color="#25ffda"/><stop offset="1" stop-color="#25ffda"/></linearGradient><linearGradient id="a84" gradientUnits="userSpaceOnUse" x1="30.5" x2="220.0"><stop offset="0" stop-color="#6f9"/><stop offset=".003" stop-color="#6f9"/><stop offset=".008" stop-color="#01fffe"/><stop offset=".013" stop-color="#09f"/><stop offset=".555" stop-color="#09f"/><stop offset=".582" stop-color="#00a7ff"/><stop offset=".613" stop-color="#00e6ff"/><stop offset=".629" stop-color="#00e6ff"/><stop offset=".645" stop-color="#00f9ff"/><stop offset=".666" stop-color="#18ffe7"/><stop offset=".724" stop-color="#92ff6d"/><stop offset=".755" stop-color="#69ff96"/><stop offset=".761" stop-color="#72ff8d"/><stop offset=".776" stop-color="#acff53"/><stop offset=".782" stop-color="#adff52"/><stop offset=".797" stop-color="#8aff75"/><stop offset=".824" stop-color="#a7ff58"/><stop offset=".85" stop-color="#abff54"/><stop offset=".855" stop-color="#df2"/><stop offset=".861" stop-color="#ffcb00"/><stop offset=".866" stop-color="#ff8100"/><stop offset=".876" stop-color="#ff1600"/><stop offset=".882" stop-color="#f60000"/><stop offset=".897" stop-color="#c50000"/><stop offset=".908" stop-color="#800000"/><stop offset=".929" stop-color="#800000"/><stop offset=".934" stop-color="#9e0000"/><stop offset=".939" stop-color="#ff1500"/><stop offset=".945" stop-color="#ffb700"/><stop offset=".95" stop-color="#c5ff3a"/><stop offset=".955" stop-color="#4bffb4"/><stop offset=".961" stop-color="#23ffdc"/><stop offset=".971" stop-color="#1dffe2"/><stop offset=".982" stop-color="#00fdff"/><stop offset=".987" stop-color="#0ff"/><stop offset=".997" stop-color="#2fd"/><stop offset="1" stop-color="#2fd"/></linearGradient><linearGradient id="a85" gradientUnits="userSpaceOnUse" x1="30.5" x2="220.0"><stop offset="0" stop-color="#6f9"/><stop offset=".003" stop-color="#6f9"/><stop offset=".008" stop-color="#01fffe"/><stop offset=".013" stop-color="#09f"/><stop offset=".555" stop-color="#09f"/><stop offset=".582" stop-color="#00a5ff"/><stop offset=".608" stop-color="#00d3ff"/><stop offset=".634" stop-color="#00d7ff"/><stop offset=".671" stop-color="#00fcff"/><stop offset=".724" stop-color="#54ffab"/><stop offset=".729" stop-color="#5fa"/><stop offset=".745" stop-color="#39ffc6"/><stop offset=".755" stop-color="#36ffc9"/><stop offset=".776" stop-color="#5fffa0"/><stop offset=".782" stop-color="#60ff9f"/><stop offset=".797" stop-color="#49ffb6"/><stop offset=".818" stop-color="#5dffa2"/><stop offset=".85" stop-color="#6f9"/><stop offset=".855" stop-color="#8cff73"/><stop offset=".861" stop-color="#f5ff0a"/><stop offset=".871" stop-color="#ff8000"/><stop offset=".882" stop-color="#ff2100"/><stop offset=".887" stop-color="#f90000"/><stop offset=".903" stop-color="#b30000"/><stop offset=".908" stop-color="#800000"/><stop offset=".929" stop-color="#800000"/><stop offset=".934" stop-color="#ab0000"/><stop offset=".939" stop-color="#ff2400"/><stop offset=".945" stop-color="#ffc000"/><stop offset=".95" stop-color="#c5ff3a"/><stop offset=".955" stop-color="#53ffac"/><stop offset=".961" stop-color="#20ffdf"/><stop offset=".971" stop-color="#19ffe6"/><stop offset=".982" stop-color="#00fdff"/><stop offset=".987" stop-color="#00feff"/><stop offset=".997" stop-color="#1effe1"/><stop offset="1" stop-color="#1effe1"/></linearGradient><linearGradient id="a86" gradientUnits="userSpaceOnUse" x1="30.5" x2="220.0"><stop offset="0" stop-color="#6f9"/><stop offset=".003" stop-color="#6f9"/><stop offset=".008" stop-color="#01fffe"/><stop offset=".013" stop-color="#09f"/><stop offset=".555" stop-color="#09f"/><stop offset=".582" stop-color="#00a2ff"/><stop offset=".603" stop-color="#00caff"/><stop offset=".634" stop-color="#00c5ff"/><stop offset=".645" stop-color="#00d4ff"/><stop offset=".661" stop-color="#00d0ff"/><stop offset=".708" stop-color="#0ff"/><stop offset=".729" stop-color="#1dffe2"/><stop offset=".739" stop-color="#03fffc"/><stop offset=".745" stop-color="#00feff"/><stop offset=".776" stop-color="#14ffeb"/><stop offset=".797" stop-color="#0afff5"/><stop offset=".85" stop-color="#24ffdb"/><stop offset=".855" stop-color="#5bffa4"/><stop offset=".861" stop-color="#bf4"/><stop offset=".866" stop-color="#ffed00"/><stop offset=".876" stop-color="#ff7600"/><stop offset=".887" stop-color="#ff1500"/><stop offset=".892" stop-color="#f10000"/><stop offset=".903" stop-color="#bf0000"/><stop offset=".908" stop-color="#860000"/><stop offset=".929" stop-color="#800000"/><stop offset=".934" stop-color="#b80000"/><stop offset=".939" stop-color="#ff3600"/><stop offset=".945" stop-color="#ffc900"/><stop offset=".95" stop-color="#c4ff3b"/><stop offset=".955" stop-color="#5bffa4"/><stop offset=".961" stop-color="#17ffe8"/><stop offset=".982" stop-color="#00f8ff"/><stop offset=".987" stop-color="#00f9ff"/><stop offset="1" stop-color="#16ffe9"/></linearGradient><linearGradient id="a87" gradientUnits="userSpaceOnUse" x1="30.5" x2="220.0"><stop offset="0" stop-color="#6f9"/><stop offset=".003" stop-color="#6f9"/><stop offset=".008" stop-color="#01fffe"/><stop offset=".013" stop-color="#09f"/><stop offset=".045" stop-color="#09f"/><stop offset=".555" stop-color="#09f"/><stop offset=".582" stop-color="#00a0ff"/><stop offset=".592" stop-color="#00adff"/><stop offset=".603" stop-color="#00c7ff"/><stop offset=".634" stop-color="#00b9ff"/><stop offset=".645" stop-color="#0cf"/><stop offset=".661" stop-color="#00beff"/><stop offset=".682" stop-color="#00c9ff"/><stop offset=".713" stop-color="#00e2ff"/><stop offset=".729" stop-color="#02fffd"/><stop offset=".739" stop-color="#00e3ff"/><stop offset=".745" stop-color="#00dfff"/><stop offset=".755" stop-color="#00eaff"/><stop offset=".797" stop-color="#00e6ff"/><stop offset=".813" stop-color="#00f4ff"/><stop offset=".829" stop-color="#00edff"/><stop offset=".85" stop-color="#0ff"/><stop offset=".855" stop-color="#3fffc0"/><stop offset=".866" stop-color="#edff12"/><stop offset=".871" stop-color="#ffd100"/><stop offset=".887" stop-color="#ff2a00"/><stop offset=".892" stop-color="#f90000"/><stop offset=".903" stop-color="#c20000"/><stop offset=".908" stop-color="#8b0000"/><stop offset=".913" stop-color="#800000"/><stop offset=".929" stop-color="#800000"/><stop offset=".934" stop-color="#c70000"/><stop offset=".939" stop-color="#ff4a00"/><stop offset=".945" stop-color="#ffd300"/><stop offset=".95" stop-color="#c2ff3d"/><stop offset=".961" stop-color="#0dfff2"/><stop offset=".987" stop-color="#00f3ff"/><stop offset=".992" stop-color="#01fffe"/><stop offset="1" stop-color="#0efff1"/></linearGradient><linearGradient id="a88" gradientUnits="userSpaceOnUse" x1="30.5" x2="220.0"><stop offset="0" stop-color="#6f9"/><stop offset=".003" stop-color="#6f9"/><stop offset=".008" stop-color="#01fffe"/><stop offset=".013" stop-color="#09f"/><stop offset=".561" stop-color="#09f"/><stop offset=".592" stop-color="#00a8ff"/><stop offset=".603" stop-color="#00c5ff"/><stop offset=".618" stop-color="#00afff"/><stop offset=".634" stop-color="#00adff"/><stop offset=".645" stop-color="#00c3ff"/><stop offset=".661" stop-color="#00aeff"/><stop offset=".687" stop-color="#00b4ff"/><stop offset=".713" stop-color="#00c2ff"/><stop offset=".729" stop-color="#00e7ff"/><stop offset=".739" stop-color="#00c6ff"/><stop offset=".745" stop-color="#00c3ff"/><stop offset=".755" stop-color="#00d2ff"/><stop offset=".771" stop-color="#00bfff"/><stop offset=".797" stop-color="#00c4ff"/><stop offset=".813" stop-color="#00d3ff"/><stop offset=".829" stop-color="#00c7ff"/><stop offset=".85" stop-color="#00deff"/><stop offset=".855" stop-color="#28ffd7"/><stop offset=".866" stop-color="#c8ff37"/><stop offset=".871" stop-color="#fe0"/><stop offset=".882" stop-color="#ff8200"/><stop offset=".892" stop-color="#ff0600"/><stop offset=".897" stop-color="#e30000"/><stop offset=".903" stop-color="#c50000"/><stop offset=".908" stop-color="#900000"/><stop offset=".913" stop-color="#800000"/><stop offset=".929" stop-color="#800000"/><stop offset=".934" stop-color="#d40000"/><stop offset=".939" stop-color="#ff5e00"/><stop offset=".945" stop-color="#fd0"/><stop offset=".95" stop-color="#c1ff3e"/><stop offset=".961" stop-color="#10ffef"/><stop offset=".966" stop-color="#01fffe"/><stop offset=".987" stop-color="#0ef"/><stop offset="1" stop-color="#06fff9"/></linearGradient><linearGradient id="a89" gradientUnits="userSpaceOnUse" x1="30.5" x2="220.0"><stop offset="0" stop-color="#6f9"/><stop offset=".003" stop-color="#6f9"/><stop offset=".008" stop-color="#01fffe"/><stop offset=".013" stop-color="#09f"/><stop offset=".576" stop-color="#09f"/><stop offset=".592" stop-color="#00a5ff"/><stop offset=".603" stop-color="#00c5ff"/><stop offset=".618" stop-color="#00a7ff"/><stop offset=".634" stop-color="#00a8ff"/><stop offset=".645" stop-color="#00c4ff"/><stop offset=".661" stop-color="#00abff"/><stop offset=".713" stop-color="#00bdff"/><stop offset=".729" stop-color="#00eaff"/><stop offset=".739" stop-color="#00c6ff"/><stop offset=".745" stop-color="#00c4ff"/><stop offset=".755" stop-color="#00d3ff"/><stop offset=".771" stop-color="#00b9ff"/><stop offset=".797" stop-color="#00bdff"/><stop offset=".813" stop-color="#00cfff"/><stop offset=".829" stop-color="#00c0ff"/><stop offset=".85" stop-color="#00dbff"/><stop offset=".855" stop-color="#15ffea"/><stop offset=".871" stop-color="#f2ff0d"/><stop offset=".876" stop-color="#ffd500"/><stop offset=".882" stop-color="#ffa100"/><stop offset=".887" stop-color="#ff6700"/><stop offset=".892" stop-color="#ff1f00"/><stop offset=".897" stop-color="#eb0000"/><stop offset=".903" stop-color="#c90000"/><stop offset=".908" stop-color="#950000"/><stop offset=".913" stop-color="#800000"/><stop offset=".924" stop-color="#800000"/><stop offset=".929" stop-color="#8d0000"/><stop offset=".934" stop-color="#e00000"/><stop offset=".939" stop-color="#ff7200"/><stop offset=".945" stop-color="#ffe500"/><stop offset=".95" stop-color="#c0ff3f"/><stop offset=".961" stop-color="#1cffe3"/><stop offset=".966" stop-color="#00f7ff"/><stop offset=".987" stop-color="#00e9ff"/><stop offset="1" stop-color="#00fdff"/></linearGradient><linearGradient id="a90" gradientUnits="userSpaceOnUse" x1="30.5" x2="220.0"><stop offset="0" stop-color="#6f9"/><stop offset=".003" stop-color="#6f9"/><stop offset=".008" stop-color="#01fffe"/><stop offset=".013" stop-color="#09f"/><stop offset=".576" stop-color="#09f"/><stop offset=".592" stop-color="#00a5ff"/><stop offset=".603" stop-color="#00c4ff"/><stop offset=".618" stop-color="#00a7ff"/><stop offset=".634" stop-color="#00a7ff"/><stop offset=".645" stop-color="#00c2ff"/><stop offset=".661" stop-color="#00a9ff"/><stop offset=".713" stop-color="#00b7ff"/><stop offset=".729" stop-color="#00e4ff"/><stop offset=".739" stop-color="#00c0ff"/><stop offset=".745" stop-color="#00beff"/><stop offset=".755" stop-color="#00ceff"/><stop offset=".771" stop-color="#00b3ff"/><stop offset=".797" stop-color="#00b8ff"/><stop offset=".813" stop-color="#00c9ff"/><stop offset=".829" stop-color="#00b9ff"/><stop offset=".85" stop-color="#00d5ff"/><stop offset=".855" stop-color="#05fffa"/><stop offset=".871" stop-color="#d3ff2c"/><stop offset=".876" stop-color="#ffed00"/><stop offset=".887" stop-color="#ff8b00"/><stop offset=".892" stop-color="#ff3f00"/><stop offset=".897" stop-color="#f50000"/><stop offset=".908" stop-color="#9a0000"/><stop offset=".913" stop-color="#800000"/><stop offset=".924" stop-color="#800000"/><stop offset=".929" stop-color="#9a0000"/><stop offset=".934" stop-color="#ea0000"/><stop offset=".939" stop-color="#ff8300"/><stop offset=".945" stop-color="#ffed00"/><stop offset=".95" stop-color="#bfff40"/><stop offset=".961" stop-color="#25ffda"/><stop offset=".966" stop-color="#00f7ff"/><stop offset=".987" stop-color="#00e9ff"/><stop offset="1" stop-color="#00fdff"/></linearGradient><linearGradient id="cva" gradientUnits="userSpaceOnUse" x1="125" x2="200"><stop offset="0" stop-color="#3fd" stop-opacity=".2"/><stop offset=".1" stop-color="#8f8" stop-opacity=".7"/><stop offset=".2" stop-color="#ee2"/><stop offset=".6" stop-color="#fd0"/><stop offset=".75" stop-color="#fa0"/><stop offset="1" stop-color="#f60"/></linearGradient><clipPath id="bc"><rect x="324.00" y="7.20" width="189.60" height="168.80"/></clipPath><linearGradient id="b91" gradientUnits="userSpaceOnUse" x1="324.0" x2="513.6"><stop offset="0" stop-color="#009fff"/><stop offset=".508" stop-color="#00a0ff"/><stop offset=".661" stop-color="#00c1ff"/><stop offset=".666" stop-color="#00e3ff"/><stop offset=".671" stop-color="#0cf"/><stop offset=".676" stop-color="#00d7ff"/><stop offset=".687" stop-color="#00caff"/><stop offset=".697" stop-color="#00dfff"/><stop offset=".708" stop-color="#00ceff"/><stop offset=".718" stop-color="#00e0ff"/><stop offset=".729" stop-color="#00d0ff"/><stop offset=".745" stop-color="#00dfff"/><stop offset=".75" stop-color="#00d0ff"/><stop offset=".766" stop-color="#0bf"/><stop offset=".771" stop-color="#00c8ff"/><stop offset=".782" stop-color="#00f9ff"/><stop offset=".787" stop-color="#00e6ff"/><stop offset=".792" stop-color="#00f3ff"/><stop offset=".797" stop-color="#12ffed"/><stop offset=".808" stop-color="#00f9ff"/><stop offset=".813" stop-color="#18ffe7"/><stop offset=".818" stop-color="#1bffe4"/><stop offset=".824" stop-color="#05fffa"/><stop offset=".834" stop-color="#28ffd7"/><stop offset=".839" stop-color="#12ffed"/><stop offset=".855" stop-color="#1bffe4"/><stop offset=".861" stop-color="#26ffd9"/><stop offset=".871" stop-color="#51ffae"/><stop offset=".876" stop-color="#3effc1"/><stop offset=".882" stop-color="#53ffac"/><stop offset=".887" stop-color="#7aff85"/><stop offset=".897" stop-color="#74ff8b"/><stop offset=".903" stop-color="#a1ff5e"/><stop offset=".908" stop-color="#b4ff4b"/><stop offset=".913" stop-color="#aeff51"/><stop offset=".929" stop-color="#fffe00"/><stop offset=".939" stop-color="#ff9d00"/><stop offset=".945" stop-color="#c7ff38"/><stop offset=".95" stop-color="#17ffe8"/><stop offset=".955" stop-color="#00c7ff"/><stop offset=".961" stop-color="#00abff"/><stop offset="1" stop-color="#00a1ff"/></linearGradient><linearGradient id="b92" gradientUnits="userSpaceOnUse" x1="324.0" x2="513.6"><stop offset="0" stop-color="#009fff"/><stop offset=".508" stop-color="#00a0ff"/><stop offset=".661" stop-color="#00c3ff"/><stop offset=".666" stop-color="#00e5ff"/><stop offset=".671" stop-color="#00ceff"/><stop offset=".676" stop-color="#00d9ff"/><stop offset=".687" stop-color="#0cf"/><stop offset=".697" stop-color="#00e0ff"/><stop offset=".708" stop-color="#00d0ff"/><stop offset=".718" stop-color="#00e2ff"/><stop offset=".729" stop-color="#00d3ff"/><stop offset=".745" stop-color="#00e1ff"/><stop offset=".75" stop-color="#00d2ff"/><stop offset=".766" stop-color="#00bfff"/><stop offset=".771" stop-color="#0cf"/><stop offset=".782" stop-color="#00fdff"/><stop offset=".787" stop-color="#00ebff"/><stop offset=".792" stop-color="#00faff"/><stop offset=".797" stop-color="#1affe5"/><stop offset=".808" stop-color="#04fffb"/><stop offset=".813" stop-color="#23ffdc"/><stop offset=".818" stop-color="#26ffd9"/><stop offset=".824" stop-color="#12ffed"/><stop offset=".834" stop-color="#36ffc9"/><stop offset=".839" stop-color="#21ffde"/><stop offset=".845" stop-color="#1fffe0"/><stop offset=".861" stop-color="#37ffc8"/><stop offset=".871" stop-color="#63ff9c"/><stop offset=".876" stop-color="#50ffaf"/><stop offset=".882" stop-color="#63ff9c"/><stop offset=".887" stop-color="#89ff76"/><stop offset=".897" stop-color="#83ff7c"/><stop offset=".903" stop-color="#aeff51"/><stop offset=".908" stop-color="#c2ff3d"/><stop offset=".913" stop-color="#bf4"/><stop offset=".924" stop-color="#f3ff0c"/><stop offset=".929" stop-color="#fff100"/><stop offset=".939" stop-color="#ff9300"/><stop offset=".945" stop-color="#cdff32"/><stop offset=".95" stop-color="#19ffe6"/><stop offset=".955" stop-color="#00c7ff"/><stop offset=".961" stop-color="#00abff"/><stop offset="1" stop-color="#00a1ff"/></linearGradient><linearGradient id="b93" gradientUnits="userSpaceOnUse" x1="324.0" x2="513.6"><stop offset="0" stop-color="#009fff"/><stop offset=".508" stop-color="#00a0ff"/><stop offset=".661" stop-color="#00c4ff"/><stop offset=".666" stop-color="#00e6ff"/><stop offset=".671" stop-color="#00cfff"/><stop offset=".676" stop-color="#00daff"/><stop offset=".687" stop-color="#00ceff"/><stop offset=".697" stop-color="#00e2ff"/><stop offset=".708" stop-color="#00d1ff"/><stop offset=".718" stop-color="#00e4ff"/><stop offset=".729" stop-color="#00d4ff"/><stop offset=".745" stop-color="#00e3ff"/><stop offset=".75" stop-color="#00d5ff"/><stop offset=".766" stop-color="#00c1ff"/><stop offset=".771" stop-color="#00cfff"/><stop offset=".782" stop-color="#01fffe"/><stop offset=".787" stop-color="#00efff"/><stop offset=".792" stop-color="#0ff"/><stop offset=".797" stop-color="#20ffdf"/><stop offset=".808" stop-color="#0cfff3"/><stop offset=".813" stop-color="#2bffd4"/><stop offset=".818" stop-color="#2fffd0"/><stop offset=".824" stop-color="#1cffe3"/><stop offset=".834" stop-color="#42ffbd"/><stop offset=".839" stop-color="#2dffd2"/><stop offset=".845" stop-color="#2cffd3"/><stop offset=".861" stop-color="#45ffba"/><stop offset=".871" stop-color="#71ff8e"/><stop offset=".876" stop-color="#5effa1"/><stop offset=".882" stop-color="#70ff8f"/><stop offset=".887" stop-color="#95ff6a"/><stop offset=".897" stop-color="#8eff71"/><stop offset=".903" stop-color="#b9ff46"/><stop offset=".908" stop-color="#cf3"/><stop offset=".913" stop-color="#c6ff39"/><stop offset=".924" stop-color="#fdff02"/><stop offset=".929" stop-color="#ffe700"/><stop offset=".939" stop-color="#ff8c00"/><stop offset=".945" stop-color="#d2ff2d"/><stop offset=".95" stop-color="#1affe5"/><stop offset=".955" stop-color="#00c7ff"/><stop offset=".961" stop-color="#00abff"/><stop offset="1" stop-color="#00a1ff"/></linearGradient><linearGradient id="b94" gradientUnits="userSpaceOnUse" x1="324.0" x2="513.6"><stop offset="0" stop-color="#009fff"/><stop offset=".508" stop-color="#00a0ff"/><stop offset=".661" stop-color="#00c5ff"/><stop offset=".666" stop-color="#00e7ff"/><stop offset=".671" stop-color="#00d0ff"/><stop offset=".676" stop-color="#00dbff"/><stop offset=".687" stop-color="#00cfff"/><stop offset=".697" stop-color="#00e4ff"/><stop offset=".708" stop-color="#00d3ff"/><stop offset=".718" stop-color="#00e5ff"/><stop offset=".729" stop-color="#00d6ff"/><stop offset=".745" stop-color="#00e5ff"/><stop offset=".75" stop-color="#00d7ff"/><stop offset=".766" stop-color="#00c4ff"/><stop offset=".771" stop-color="#00d1ff"/><stop offset=".776" stop-color="#00efff"/><stop offset=".782" stop-color="#05fffa"/><stop offset=".787" stop-color="#00f4ff"/><stop offset=".792" stop-color="#06fff9"/><stop offset=".797" stop-color="#26ffd9"/><stop offset=".808" stop-color="#13ffec"/><stop offset=".813" stop-color="#3fc"/><stop offset=".818" stop-color="#39ffc6"/><stop offset=".824" stop-color="#25ffda"/><stop offset=".834" stop-color="#4dffb2"/><stop offset=".839" stop-color="#39ffc6"/><stop offset=".855" stop-color="#47ffb8"/><stop offset=".861" stop-color="#53ffac"/><stop offset=".871" stop-color="#7fff80"/><stop offset=".876" stop-color="#6cff93"/><stop offset=".882" stop-color="#7dff82"/><stop offset=".887" stop-color="#a1ff5e"/><stop offset=".897" stop-color="#9f6"/><stop offset=".903" stop-color="#c4ff3b"/><stop offset=".908" stop-color="#d7ff28"/><stop offset=".913" stop-color="#d0ff2f"/><stop offset=".918" stop-color="#f1ff0e"/><stop offset=".924" stop-color="#fff600"/><stop offset=".929" stop-color="#ffdc00"/><stop offset=".939" stop-color="#ff8500"/><stop offset=".945" stop-color="#d7ff28"/><stop offset=".95" stop-color="#1cffe3"/><stop offset=".955" stop-color="#00c7ff"/><stop offset=".961" stop-color="#00abff"/><stop offset="1" stop-color="#00a1ff"/></linearGradient><linearGradient id="b95" gradientUnits="userSpaceOnUse" x1="324.0" x2="513.6"><stop offset="0" stop-color="#009fff"/><stop offset=".508" stop-color="#00a0ff"/><stop offset=".661" stop-color="#00c6ff"/><stop offset=".666" stop-color="#00e8ff"/><stop offset=".671" stop-color="#00d1ff"/><stop offset=".676" stop-color="#0df"/><stop offset=".687" stop-color="#00d0ff"/><stop offset=".697" stop-color="#00e5ff"/><stop offset=".708" stop-color="#00d5ff"/><stop offset=".718" stop-color="#00e7ff"/><stop offset=".729" stop-color="#00d8ff"/><stop offset=".745" stop-color="#00e7ff"/><stop offset=".75" stop-color="#00d9ff"/><stop offset=".766" stop-color="#00c6ff"/><stop offset=".782" stop-color="#08fff7"/><stop offset=".787" stop-color="#00f8ff"/><stop offset=".792" stop-color="#0bfff4"/><stop offset=".797" stop-color="#2cffd3"/><stop offset=".808" stop-color="#1bffe4"/><stop offset=".813" stop-color="#3cffc3"/><stop offset=".818" stop-color="#42ffbd"/><stop offset=".824" stop-color="#2fffd0"/><stop offset=".834" stop-color="#59ffa6"/><stop offset=".839" stop-color="#45ffba"/><stop offset=".855" stop-color="#5fa"/><stop offset=".861" stop-color="#60ff9f"/><stop offset=".871" stop-color="#8dff72"/><stop offset=".876" stop-color="#7aff85"/><stop offset=".882" stop-color="#8aff75"/><stop offset=".887" stop-color="#adff52"/><stop offset=".897" stop-color="#a4ff5b"/><stop offset=".903" stop-color="#cfff30"/><stop offset=".908" stop-color="#e1ff1e"/><stop offset=".913" stop-color="#dbff24"/><stop offset=".918" stop-color="#fbff04"/><stop offset=".924" stop-color="#ffec00"/><stop offset=".929" stop-color="#ffd200"/><stop offset=".939" stop-color="#ff7e00"/><stop offset=".945" stop-color="#dcff23"/><stop offset=".95" stop-color="#1dffe2"/><stop offset=".955" stop-color="#00c7ff"/><stop offset=".961" stop-color="#00abff"/><stop offset="1" stop-color="#00a1ff"/></linearGradient><linearGradient id="b96" gradientUnits="userSpaceOnUse" x1="324.0" x2="513.6"><stop offset="0" stop-color="#009fff"/><stop offset=".508" stop-color="#00a0ff"/><stop offset=".661" stop-color="#00c7ff"/><stop offset=".666" stop-color="#00e9ff"/><stop offset=".671" stop-color="#00d3ff"/><stop offset=".676" stop-color="#00deff"/><stop offset=".687" stop-color="#00d2ff"/><stop offset=".697" stop-color="#00e7ff"/><stop offset=".708" stop-color="#00d6ff"/><stop offset=".718" stop-color="#00e9ff"/><stop offset=".729" stop-color="#00daff"/><stop offset=".745" stop-color="#00e9ff"/><stop offset=".75" stop-color="#00dbff"/><stop offset=".766" stop-color="#00c9ff"/><stop offset=".771" stop-color="#00d7ff"/><stop offset=".776" stop-color="#00f5ff"/><stop offset=".782" stop-color="#0cfff3"/><stop offset=".787" stop-color="#00fcff"/><stop offset=".792" stop-color="#10ffef"/><stop offset=".797" stop-color="#32ffcd"/><stop offset=".808" stop-color="#2fd"/><stop offset=".813" stop-color="#4fb"/><stop offset=".818" stop-color="#4bffb4"/><stop offset=".824" stop-color="#39ffc6"/><stop offset=".834" stop-color="#64ff9b"/><stop offset=".839" stop-color="#51ffae"/><stop offset=".855" stop-color="#63ff9c"/><stop offset=".861" stop-color="#6eff91"/><stop offset=".871" stop-color="#9bff64"/><stop offset=".876" stop-color="#8f7"/><stop offset=".882" stop-color="#97ff68"/><stop offset=".887" stop-color="#b9ff46"/><stop offset=".897" stop-color="#afff50"/><stop offset=".903" stop-color="#daff25"/><stop offset=".908" stop-color="#ebff14"/><stop offset=".913" stop-color="#e5ff1a"/><stop offset=".918" stop-color="#fff800"/><stop offset=".929" stop-color="#ffc800"/><stop offset=".939" stop-color="#f70"/><stop offset=".945" stop-color="#e1ff1e"/><stop offset=".95" stop-color="#1fffe0"/><stop offset=".955" stop-color="#00c7ff"/><stop offset=".961" stop-color="#00abff"/><stop offset="1" stop-color="#00a1ff"/></linearGradient><linearGradient id="b97" gradientUnits="userSpaceOnUse" x1="324.0" x2="513.6"><stop offset="0" stop-color="#009fff"/><stop offset=".508" stop-color="#00a0ff"/><stop offset=".661" stop-color="#00c8ff"/><stop offset=".666" stop-color="#00eaff"/><stop offset=".671" stop-color="#00d4ff"/><stop offset=".676" stop-color="#00dfff"/><stop offset=".687" stop-color="#00d3ff"/><stop offset=".697" stop-color="#00e8ff"/><stop offset=".708" stop-color="#00d8ff"/><stop offset=".718" stop-color="#00ebff"/><stop offset=".729" stop-color="#00dcff"/><stop offset=".745" stop-color="#00ecff"/><stop offset=".75" stop-color="#0df"/><stop offset=".766" stop-color="#0cf"/><stop offset=".771" stop-color="#00daff"/><stop offset=".776" stop-color="#00f8ff"/><stop offset=".782" stop-color="#0ffff0"/><stop offset=".787" stop-color="#02fffd"/><stop offset=".792" stop-color="#15ffea"/><stop offset=".797" stop-color="#38ffc7"/><stop offset=".808" stop-color="#2affd5"/><stop offset=".813" stop-color="#4cffb3"/><stop offset=".818" stop-color="#54ffab"/><stop offset=".824" stop-color="#43ffbc"/><stop offset=".834" stop-color="#6fff90"/><stop offset=".839" stop-color="#5effa1"/><stop offset=".855" stop-color="#70ff8f"/><stop offset=".861" stop-color="#7cff83"/><stop offset=".871" stop-color="#a9ff56"/><stop offset=".876" stop-color="#97ff68"/><stop offset=".882" stop-color="#a4ff5b"/><stop offset=".887" stop-color="#c5ff3a"/><stop offset=".897" stop-color="#baff45"/><stop offset=".903" stop-color="#e4ff1b"/><stop offset=".908" stop-color="#f6ff09"/><stop offset=".913" stop-color="#efff10"/><stop offset=".918" stop-color="#fe0"/><stop offset=".929" stop-color="#ffbe00"/><stop offset=".939" stop-color="#ff6f00"/><stop offset=".945" stop-color="#e6ff19"/><stop offset=".95" stop-color="#20ffdf"/><stop offset=".955" stop-color="#00c7ff"/><stop offset=".961" stop-color="#00abff"/><stop offset="1" stop-color="#00a1ff"/></linearGradient><linearGradient id="b98" gradientUnits="userSpaceOnUse" x1="324.0" x2="513.6"><stop offset="0" stop-color="#009fff"/><stop offset=".508" stop-color="#00a0ff"/><stop offset=".608" stop-color="#00b4ff"/><stop offset=".661" stop-color="#00c9ff"/><stop offset=".666" stop-color="#00ebff"/><stop offset=".671" stop-color="#00d5ff"/><stop offset=".676" stop-color="#00e0ff"/><stop offset=".687" stop-color="#00d5ff"/><stop offset=".697" stop-color="#00eaff"/><stop offset=".708" stop-color="#00daff"/><stop offset=".718" stop-color="#00ecff"/><stop offset=".729" stop-color="#00deff"/><stop offset=".745" stop-color="#0ef"/><stop offset=".75" stop-color="#00dfff"/><stop offset=".766" stop-color="#00ceff"/><stop offset=".771" stop-color="#0df"/><stop offset=".776" stop-color="#00fbff"/><stop offset=".782" stop-color="#13ffec"/><stop offset=".787" stop-color="#06fff9"/><stop offset=".792" stop-color="#1bffe4"/><stop offset=".797" stop-color="#3fffc0"/><stop offset=".808" stop-color="#32ffcd"/><stop offset=".813" stop-color="#5fa"/><stop offset=".818" stop-color="#5dffa2"/><stop offset=".824" stop-color="#4dffb2"/><stop offset=".834" stop-color="#7bff84"/><stop offset=".839" stop-color="#6aff95"/><stop offset=".855" stop-color="#7eff81"/><stop offset=".861" stop-color="#8aff75"/><stop offset=".871" stop-color="#b7ff48"/><stop offset=".876" stop-color="#a5ff5a"/><stop offset=".882" stop-color="#b1ff4e"/><stop offset=".887" stop-color="#d1ff2e"/><stop offset=".897" stop-color="#c6ff39"/><stop offset=".903" stop-color="#efff10"/><stop offset=".908" stop-color="#fffe00"/><stop offset=".913" stop-color="#faff05"/><stop offset=".929" stop-color="#ffb300"/><stop offset=".939" stop-color="#ff6800"/><stop offset=".945" stop-color="#ebff14"/><stop offset=".95" stop-color="#2fd"/><stop offset=".955" stop-color="#00c7ff"/><stop offset=".961" stop-color="#00abff"/><stop offset="1" stop-color="#00a1ff"/></linearGradient><linearGradient id="b99" gradientUnits="userSpaceOnUse" x1="324.0" x2="513.6"><stop offset="0" stop-color="#009fff"/><stop offset=".508" stop-color="#00a0ff"/><stop offset=".608" stop-color="#00b4ff"/><stop offset=".661" stop-color="#00caff"/><stop offset=".666" stop-color="#00ecff"/><stop offset=".671" stop-color="#00d6ff"/><stop offset=".676" stop-color="#00e2ff"/><stop offset=".687" stop-color="#00d6ff"/><stop offset=".697" stop-color="#00ebff"/><stop offset=".708" stop-color="#00dbff"/><stop offset=".718" stop-color="#0ef"/><stop offset=".729" stop-color="#00e0ff"/><stop offset=".745" stop-color="#00f0ff"/><stop offset=".75" stop-color="#00e1ff"/><stop offset=".766" stop-color="#00d0ff"/><stop offset=".771" stop-color="#00dfff"/><stop offset=".776" stop-color="#00feff"/><stop offset=".782" stop-color="#16ffe9"/><stop offset=".787" stop-color="#0afff5"/><stop offset=".792" stop-color="#1fffe0"/><stop offset=".797" stop-color="#4fb"/><stop offset=".808" stop-color="#39ffc6"/><stop offset=".813" stop-color="#5cffa3"/><stop offset=".818" stop-color="#65ff9a"/><stop offset=".824" stop-color="#56ffa9"/><stop offset=".834" stop-color="#85ff7a"/><stop offset=".839" stop-color="#75ff8a"/><stop offset=".855" stop-color="#8aff75"/><stop offset=".861" stop-color="#96ff69"/><stop offset=".871" stop-color="#c4ff3b"/><stop offset=".876" stop-color="#b2ff4d"/><stop offset=".882" stop-color="#bdff42"/><stop offset=".887" stop-color="#dcff23"/><stop offset=".897" stop-color="#d0ff2f"/><stop offset=".903" stop-color="#f9ff06"/><stop offset=".908" stop-color="#fff400"/><stop offset=".913" stop-color="#fffa00"/><stop offset=".929" stop-color="#ffa900"/><stop offset=".939" stop-color="#ff6100"/><stop offset=".945" stop-color="#efff10"/><stop offset=".95" stop-color="#23ffdc"/><stop offset=".955" stop-color="#00c7ff"/><stop offset=".961" stop-color="#00abff"/><stop offset="1" stop-color="#00a1ff"/></linearGradient><linearGradient id="b100" gradientUnits="userSpaceOnUse" x1="324.0" x2="513.6"><stop offset="0" stop-color="#009fff"/><stop offset=".508" stop-color="#00a0ff"/><stop offset=".608" stop-color="#00b4ff"/><stop offset=".661" stop-color="#00caff"/><stop offset=".666" stop-color="#00edff"/><stop offset=".671" stop-color="#00d6ff"/><stop offset=".676" stop-color="#00e2ff"/><stop offset=".687" stop-color="#00d6ff"/><stop offset=".697" stop-color="#00ebff"/><stop offset=".708" stop-color="#00dbff"/><stop offset=".718" stop-color="#0ef"/><stop offset=".729" stop-color="#00e0ff"/><stop offset=".745" stop-color="#00f0ff"/><stop offset=".75" stop-color="#00e2ff"/><stop offset=".766" stop-color="#00d1ff"/><stop offset=".771" stop-color="#00e0ff"/><stop offset=".776" stop-color="#00feff"/><stop offset=".782" stop-color="#16ffe9"/><stop offset=".787" stop-color="#0bfff4"/><stop offset=".792" stop-color="#20ffdf"/><stop offset=".797" stop-color="#45ffba"/><stop offset=".808" stop-color="#3affc5"/><stop offset=".813" stop-color="#5effa1"/><stop offset=".818" stop-color="#67ff98"/><stop offset=".824" stop-color="#58ffa7"/><stop offset=".834" stop-color="#87ff78"/><stop offset=".839" stop-color="#7f8"/><stop offset=".845" stop-color="#7aff85"/><stop offset=".85" stop-color="#8bff74"/><stop offset=".861" stop-color="#9f6"/><stop offset=".871" stop-color="#c7ff38"/><stop offset=".876" stop-color="#b4ff4b"/><stop offset=".882" stop-color="#bfff40"/><stop offset=".887" stop-color="#deff21"/><stop offset=".897" stop-color="#d4ff2b"/><stop offset=".903" stop-color="#feff01"/><stop offset=".908" stop-color="#ffed00"/><stop offset=".913" stop-color="#fff200"/><stop offset=".918" stop-color="#ffcf00"/><stop offset=".929" stop-color="#ff9d00"/><stop offset=".939" stop-color="#ff5b00"/><stop offset=".945" stop-color="#f3ff0c"/><stop offset=".95" stop-color="#25ffda"/><stop offset=".955" stop-color="#00c7ff"/><stop offset=".961" stop-color="#00abff"/><stop offset="1" stop-color="#00a1ff"/></linearGradient><linearGradient id="b101" gradientUnits="userSpaceOnUse" x1="324.0" x2="513.6"><stop offset="0" stop-color="#009fff"/><stop offset=".508" stop-color="#00a0ff"/><stop offset=".608" stop-color="#00b4ff"/><stop offset=".661" stop-color="#00caff"/><stop offset=".666" stop-color="#00edff"/><stop offset=".671" stop-color="#00d6ff"/><stop offset=".676" stop-color="#00e2ff"/><stop offset=".687" stop-color="#00d6ff"/><stop offset=".697" stop-color="#00ebff"/><stop offset=".708" stop-color="#00dbff"/><stop offset=".718" stop-color="#0ef"/><stop offset=".729" stop-color="#00e0ff"/><stop offset=".745" stop-color="#00f0ff"/><stop offset=".75" stop-color="#00e2ff"/><stop offset=".766" stop-color="#00d1ff"/><stop offset=".771" stop-color="#00e0ff"/><stop offset=".776" stop-color="#00feff"/><stop offset=".782" stop-color="#16ffe9"/><stop offset=".787" stop-color="#0bfff4"/><stop offset=".792" stop-color="#20ffdf"/><stop offset=".797" stop-color="#45ffba"/><stop offset=".808" stop-color="#3affc5"/><stop offset=".813" stop-color="#5effa1"/><stop offset=".818" stop-color="#67ff98"/><stop offset=".824" stop-color="#58ffa7"/><stop offset=".834" stop-color="#87ff78"/><stop offset=".839" stop-color="#7f8"/><stop offset=".845" stop-color="#7aff85"/><stop offset=".85" stop-color="#8bff74"/><stop offset=".861" stop-color="#9f6"/><stop offset=".871" stop-color="#c7ff38"/><stop offset=".876" stop-color="#b4ff4b"/><stop offset=".882" stop-color="#c0ff3f"/><stop offset=".887" stop-color="#e0ff1f"/><stop offset=".897" stop-color="#d7ff28"/><stop offset=".903" stop-color="#fffb00"/><stop offset=".908" stop-color="#ffe700"/><stop offset=".913" stop-color="#ffe900"/><stop offset=".918" stop-color="#ffc300"/><stop offset=".939" stop-color="#ff5400"/><stop offset=".945" stop-color="#f7ff08"/><stop offset=".95" stop-color="#26ffd9"/><stop offset=".955" stop-color="#00c8ff"/><stop offset=".961" stop-color="#00acff"/><stop offset="1" stop-color="#00a1ff"/></linearGradient><linearGradient id="b102" gradientUnits="userSpaceOnUse" x1="324.0" x2="513.6"><stop offset="0" stop-color="#009fff"/><stop offset=".508" stop-color="#00a0ff"/><stop offset=".608" stop-color="#00b4ff"/><stop offset=".661" stop-color="#00caff"/><stop offset=".666" stop-color="#00edff"/><stop offset=".671" stop-color="#00d6ff"/><stop offset=".676" stop-color="#00e2ff"/><stop offset=".687" stop-color="#00d6ff"/><stop offset=".697" stop-color="#00ebff"/><stop offset=".708" stop-color="#00dbff"/><stop offset=".718" stop-color="#0ef"/><stop offset=".729" stop-color="#00e0ff"/><stop offset=".745" stop-color="#00f0ff"/><stop offset=".75" stop-color="#00e2ff"/><stop offset=".766" stop-color="#00d1ff"/><stop offset=".771" stop-color="#00e0ff"/><stop offset=".776" stop-color="#00feff"/><stop offset=".782" stop-color="#16ffe9"/><stop offset=".787" stop-color="#0bfff4"/><stop offset=".792" stop-color="#20ffdf"/><stop offset=".797" stop-color="#45ffba"/><stop offset=".808" stop-color="#3affc5"/><stop offset=".813" stop-color="#5effa1"/><stop offset=".818" stop-color="#67ff98"/><stop offset=".824" stop-color="#58ffa7"/><stop offset=".834" stop-color="#87ff78"/><stop offset=".839" stop-color="#7f8"/><stop offset=".855" stop-color="#8dff72"/><stop offset=".861" stop-color="#9f6"/><stop offset=".871" stop-color="#c7ff38"/><stop offset=".876" stop-color="#b5ff4a"/><stop offset=".882" stop-color="#c1ff3e"/><stop offset=".887" stop-color="#e2ff1d"/><stop offset=".897" stop-color="#df2"/><stop offset=".903" stop-color="#fff200"/><stop offset=".908" stop-color="#ffda00"/><stop offset=".913" stop-color="#ffd800"/><stop offset=".918" stop-color="#ffaf00"/><stop offset=".939" stop-color="#ff4800"/><stop offset=".945" stop-color="#feff01"/><stop offset=".95" stop-color="#29ffd6"/><stop offset=".955" stop-color="#00c9ff"/><stop offset=".961" stop-color="#00acff"/><stop offset="1" stop-color="#00a1ff"/></linearGradient><linearGradient id="b103" gradientUnits="userSpaceOnUse" x1="324.0" x2="513.6"><stop offset="0" stop-color="#009fff"/><stop offset=".508" stop-color="#00a0ff"/><stop offset=".608" stop-color="#00b4ff"/><stop offset=".661" stop-color="#00caff"/><stop offset=".666" stop-color="#00edff"/><stop offset=".671" stop-color="#00d6ff"/><stop offset=".676" stop-color="#00e2ff"/><stop offset=".687" stop-color="#00d6ff"/><stop offset=".697" stop-color="#00ebff"/><stop offset=".708" stop-color="#00dbff"/><stop offset=".718" stop-color="#0ef"/><stop offset=".729" stop-color="#00e0ff"/><stop offset=".745" stop-color="#00f0ff"/><stop offset=".75" stop-color="#00e2ff"/><stop offset=".766" stop-color="#00d1ff"/><stop offset=".771" stop-color="#00e0ff"/><stop offset=".776" stop-color="#00feff"/><stop offset=".782" stop-color="#16ffe9"/><stop offset=".787" stop-color="#0bfff4"/><stop offset=".792" stop-color="#20ffdf"/><stop offset=".797" stop-color="#45ffba"/><stop offset=".808" stop-color="#3affc5"/><stop offset=".813" stop-color="#5effa1"/><stop offset=".818" stop-color="#67ff98"/><stop offset=".824" stop-color="#58ffa7"/><stop offset=".834" stop-color="#87ff78"/><stop offset=".839" stop-color="#7f8"/><stop offset=".855" stop-color="#8dff72"/><stop offset=".861" stop-color="#9f6"/><stop offset=".871" stop-color="#c7ff38"/><stop offset=".876" stop-color="#b6ff49"/><stop offset=".882" stop-color="#c3ff3c"/><stop offset=".887" stop-color="#e5ff1a"/><stop offset=".897" stop-color="#e7ff18"/><stop offset=".903" stop-color="#ffe400"/><stop offset=".908" stop-color="#ffc700"/><stop offset=".913" stop-color="#ffc000"/><stop offset=".918" stop-color="#ff9100"/><stop offset=".924" stop-color="#ff7100"/><stop offset=".939" stop-color="#ff3600"/><stop offset=".945" stop-color="#fff700"/><stop offset=".95" stop-color="#2effd1"/><stop offset=".955" stop-color="#00caff"/><stop offset=".961" stop-color="#00acff"/><stop offset="1" stop-color="#00a1ff"/></linearGradient><linearGradient id="b104" gradientUnits="userSpaceOnUse" x1="324.0" x2="513.6"><stop offset="0" stop-color="#009fff"/><stop offset=".508" stop-color="#00a0ff"/><stop offset=".608" stop-color="#00b4ff"/><stop offset=".661" stop-color="#00caff"/><stop offset=".666" stop-color="#00edff"/><stop offset=".671" stop-color="#00d6ff"/><stop offset=".676" stop-color="#00e2ff"/><stop offset=".687" stop-color="#00d6ff"/><stop offset=".697" stop-color="#00ebff"/><stop offset=".708" stop-color="#00dbff"/><stop offset=".718" stop-color="#0ef"/><stop offset=".729" stop-color="#00e0ff"/><stop offset=".745" stop-color="#00f0ff"/><stop offset=".75" stop-color="#00e2ff"/><stop offset=".766" stop-color="#00d1ff"/><stop offset=".771" stop-color="#00e0ff"/><stop offset=".776" stop-color="#00feff"/><stop offset=".782" stop-color="#16ffe9"/><stop offset=".787" stop-color="#0bfff4"/><stop offset=".792" stop-color="#20ffdf"/><stop offset=".797" stop-color="#45ffba"/><stop offset=".808" stop-color="#3affc5"/><stop offset=".813" stop-color="#5effa1"/><stop offset=".818" stop-color="#67ff98"/><stop offset=".824" stop-color="#58ffa7"/><stop offset=".834" stop-color="#87ff78"/><stop offset=".839" stop-color="#7f8"/><stop offset=".855" stop-color="#8dff72"/><stop offset=".861" stop-color="#9f6"/><stop offset=".871" stop-color="#c8ff37"/><stop offset=".876" stop-color="#b7ff48"/><stop offset=".882" stop-color="#c5ff3a"/><stop offset=".887" stop-color="#eaff15"/><stop offset=".897" stop-color="#f4ff0b"/><stop offset=".903" stop-color="#ffd200"/><stop offset=".908" stop-color="#ffb000"/><stop offset=".913" stop-color="#ffa200"/><stop offset=".918" stop-color="#ff6c00"/><stop offset=".924" stop-color="#ff4900"/><stop offset=".934" stop-color="#ff2500"/><stop offset=".939" stop-color="#ff2100"/><stop offset=".945" stop-color="#ffeb00"/><stop offset=".95" stop-color="#3fc"/><stop offset=".955" stop-color="#0cf"/><stop offset=".961" stop-color="#00adff"/><stop offset="1" stop-color="#00a1ff"/></linearGradient><linearGradient id="b105" gradientUnits="userSpaceOnUse" x1="324.0" x2="513.6"><stop offset="0" stop-color="#009fff"/><stop offset=".508" stop-color="#00a0ff"/><stop offset=".608" stop-color="#00b4ff"/><stop offset=".661" stop-color="#00caff"/><stop offset=".666" stop-color="#00edff"/><stop offset=".671" stop-color="#00d6ff"/><stop offset=".676" stop-color="#00e2ff"/><stop offset=".687" stop-color="#00d6ff"/><stop offset=".697" stop-color="#00ebff"/><stop offset=".708" stop-color="#00dbff"/><stop offset=".718" stop-color="#0ef"/><stop offset=".729" stop-color="#00e0ff"/><stop offset=".745" stop-color="#00f0ff"/><stop offset=".75" stop-color="#00e2ff"/><stop offset=".766" stop-color="#00d1ff"/><stop offset=".771" stop-color="#00e0ff"/><stop offset=".776" stop-color="#00feff"/><stop offset=".782" stop-color="#16ffe9"/><stop offset=".787" stop-color="#0bfff4"/><stop offset=".792" stop-color="#20ffdf"/><stop offset=".797" stop-color="#45ffba"/><stop offset=".808" stop-color="#3affc5"/><stop offset=".813" stop-color="#5effa1"/><stop offset=".818" stop-color="#67ff98"/><stop offset=".824" stop-color="#58ffa7"/><stop offset=".834" stop-color="#87ff78"/><stop offset=".839" stop-color="#7f8"/><stop offset=".845" stop-color="#7aff85"/><stop offset=".85" stop-color="#8bff74"/><stop offset=".861" stop-color="#9f6"/><stop offset=".871" stop-color="#c8ff37"/><stop offset=".876" stop-color="#b7ff48"/><stop offset=".882" stop-color="#c7ff38"/><stop offset=".887" stop-color="#ef1"/><stop offset=".897" stop-color="#fffe00"/><stop offset=".903" stop-color="#ffc100"/><stop offset=".908" stop-color="#f90"/><stop offset=".913" stop-color="#ff8500"/><stop offset=".918" stop-color="#ff4900"/><stop offset=".924" stop-color="#f20"/><stop offset=".934" stop-color="#ff0700"/><stop offset=".939" stop-color="#ff0e00"/><stop offset=".945" stop-color="#ffe000"/><stop offset=".95" stop-color="#38ffc7"/><stop offset=".955" stop-color="#00ceff"/><stop offset=".961" stop-color="#00adff"/><stop offset="1" stop-color="#00a1ff"/></linearGradient><linearGradient id="b106" gradientUnits="userSpaceOnUse" x1="324.0" x2="513.6"><stop offset="0" stop-color="#009fff"/><stop offset=".508" stop-color="#00a0ff"/><stop offset=".608" stop-color="#00b4ff"/><stop offset=".661" stop-color="#00caff"/><stop offset=".666" stop-color="#00edff"/><stop offset=".671" stop-color="#00d6ff"/><stop offset=".676" stop-color="#00e2ff"/><stop offset=".687" stop-color="#00d6ff"/><stop offset=".697" stop-color="#00ebff"/><stop offset=".708" stop-color="#00dbff"/><stop offset=".718" stop-color="#0ef"/><stop offset=".729" stop-color="#00e0ff"/><stop offset=".745" stop-color="#00f0ff"/><stop offset=".75" stop-color="#00e2ff"/><stop offset=".766" stop-color="#00d1ff"/><stop offset=".771" stop-color="#00e0ff"/><stop offset=".776" stop-color="#00feff"/><stop offset=".782" stop-color="#16ffe9"/><stop offset=".787" stop-color="#0bfff4"/><stop offset=".792" stop-color="#20ffdf"/><stop offset=".797" stop-color="#45ffba"/><stop offset=".808" stop-color="#3affc5"/><stop offset=".813" stop-color="#5effa1"/><stop offset=".818" stop-color="#67ff98"/><stop offset=".824" stop-color="#58ffa7"/><stop offset=".834" stop-color="#87ff78"/><stop offset=".839" stop-color="#7f8"/><stop offset=".845" stop-color="#7aff85"/><stop offset=".85" stop-color="#8bff74"/><stop offset=".861" stop-color="#9f6"/><stop offset=".871" stop-color="#c8ff37"/><stop offset=".876" stop-color="#b8ff47"/><stop offset=".882" stop-color="#c9ff36"/><stop offset=".887" stop-color="#f1ff0e"/><stop offset=".897" stop-color="#fff700"/><stop offset=".903" stop-color="#ffb700"/><stop offset=".908" stop-color="#ff8b00"/><stop offset=".913" stop-color="#ff7100"/><stop offset=".918" stop-color="#ff3100"/><stop offset=".924" stop-color="#ff0700"/><stop offset=".929" stop-color="#f50000"/><stop offset=".934" stop-color="#f10000"/><stop offset=".939" stop-color="#fe0000"/><stop offset=".945" stop-color="#ffd800"/><stop offset=".95" stop-color="#3bffc4"/><stop offset=".955" stop-color="#00cfff"/><stop offset=".961" stop-color="#00aeff"/><stop offset="1" stop-color="#00a1ff"/></linearGradient><linearGradient id="b107" gradientUnits="userSpaceOnUse" x1="324.0" x2="513.6"><stop offset="0" stop-color="#009fff"/><stop offset=".508" stop-color="#00a0ff"/><stop offset=".608" stop-color="#00b4ff"/><stop offset=".661" stop-color="#00caff"/><stop offset=".666" stop-color="#00edff"/><stop offset=".671" stop-color="#00d6ff"/><stop offset=".676" stop-color="#00e2ff"/><stop offset=".687" stop-color="#00d6ff"/><stop offset=".697" stop-color="#00ebff"/><stop offset=".708" stop-color="#00dbff"/><stop offset=".718" stop-color="#0ef"/><stop offset=".729" stop-color="#00e0ff"/><stop offset=".745" stop-color="#00f0ff"/><stop offset=".75" stop-color="#00e2ff"/><stop offset=".766" stop-color="#00d1ff"/><stop offset=".771" stop-color="#00e0ff"/><stop offset=".776" stop-color="#00feff"/><stop offset=".782" stop-color="#16ffe9"/><stop offset=".787" stop-color="#0bfff4"/><stop offset=".792" stop-color="#20ffdf"/><stop offset=".797" stop-color="#45ffba"/><stop offset=".808" stop-color="#3affc5"/><stop offset=".813" stop-color="#5effa1"/><stop offset=".818" stop-color="#67ff98"/><stop offset=".824" stop-color="#58ffa7"/><stop offset=".834" stop-color="#87ff78"/><stop offset=".839" stop-color="#7f8"/><stop offset=".845" stop-color="#7aff85"/><stop offset=".85" stop-color="#8bff74"/><stop offset=".861" stop-color="#9f6"/><stop offset=".871" stop-color="#c8ff37"/><stop offset=".876" stop-color="#b7ff48"/><stop offset=".882" stop-color="#c7ff38"/><stop offset=".887" stop-color="#ef1"/><stop offset=".897" stop-color="#ff0"/><stop offset=".903" stop-color="#ffc200"/><stop offset=".908" stop-color="#ff9800"/><stop offset=".913" stop-color="#ff8000"/><stop offset=".918" stop-color="#ff4200"/><stop offset=".924" stop-color="#ff1800"/><stop offset=".929" stop-color="#ff0500"/><stop offset=".934" stop-color="#fd0000"/><stop offset=".939" stop-color="#ff0800"/><stop offset=".945" stop-color="#fd0"/><stop offset=".95" stop-color="#39ffc6"/><stop offset=".955" stop-color="#00cfff"/><stop offset=".961" stop-color="#00aeff"/><stop offset="1" stop-color="#00a1ff"/></linearGradient><linearGradient id="b108" gradientUnits="userSpaceOnUse" x1="324.0" x2="513.6"><stop offset="0" stop-color="#009fff"/><stop offset=".508" stop-color="#00a0ff"/><stop offset=".608" stop-color="#00b4ff"/><stop offset=".661" stop-color="#00caff"/><stop offset=".666" stop-color="#00edff"/><stop offset=".671" stop-color="#00d6ff"/><stop offset=".676" stop-color="#00e2ff"/><stop offset=".687" stop-color="#00d6ff"/><stop offset=".697" stop-color="#00ebff"/><stop offset=".708" stop-color="#00dbff"/><stop offset=".718" stop-color="#0ef"/><stop offset=".729" stop-color="#00e0ff"/><stop offset=".745" stop-color="#00f0ff"/><stop offset=".75" stop-color="#00e2ff"/><stop offset=".766" stop-color="#00d1ff"/><stop offset=".771" stop-color="#00e0ff"/><stop offset=".776" stop-color="#00feff"/><stop offset=".782" stop-color="#16ffe9"/><stop offset=".787" stop-color="#0bfff4"/><stop offset=".792" stop-color="#20ffdf"/><stop offset=".797" stop-color="#45ffba"/><stop offset=".808" stop-color="#3affc5"/><stop offset=".813" stop-color="#5effa1"/><stop offset=".818" stop-color="#67ff98"/><stop offset=".824" stop-color="#58ffa7"/><stop offset=".834" stop-color="#87ff78"/><stop offset=".839" stop-color="#7f8"/><stop offset=".855" stop-color="#8dff72"/><stop offset=".861" stop-color="#9f6"/><stop offset=".871" stop-color="#c8ff37"/><stop offset=".876" stop-color="#b6ff49"/><stop offset=".882" stop-color="#c5ff3a"/><stop offset=".887" stop-color="#e9ff16"/><stop offset=".897" stop-color="#f3ff0c"/><stop offset=".903" stop-color="#ffd200"/><stop offset=".908" stop-color="#ffad00"/><stop offset=".913" stop-color="#ff9b00"/><stop offset=".918" stop-color="#ff6000"/><stop offset=".924" stop-color="#ff3800"/><stop offset=".934" stop-color="#ff1700"/><stop offset=".939" stop-color="#ff1800"/><stop offset=".945" stop-color="#ffe600"/><stop offset=".95" stop-color="#35ffca"/><stop offset=".955" stop-color="#00cdff"/><stop offset=".961" stop-color="#00adff"/><stop offset="1" stop-color="#00a1ff"/></linearGradient><linearGradient id="b109" gradientUnits="userSpaceOnUse" x1="324.0" x2="513.6"><stop offset="0" stop-color="#009fff"/><stop offset=".508" stop-color="#00a0ff"/><stop offset=".608" stop-color="#00b4ff"/><stop offset=".661" stop-color="#00caff"/><stop offset=".666" stop-color="#00edff"/><stop offset=".671" stop-color="#00d6ff"/><stop offset=".676" stop-color="#00e2ff"/><stop offset=".687" stop-color="#00d6ff"/><stop offset=".697" stop-color="#00ebff"/><stop offset=".708" stop-color="#00dbff"/><stop offset=".718" stop-color="#0ef"/><stop offset=".729" stop-color="#00e0ff"/><stop offset=".745" stop-color="#00f0ff"/><stop offset=".75" stop-color="#00e2ff"/><stop offset=".766" stop-color="#00d1ff"/><stop offset=".771" stop-color="#00e0ff"/><stop offset=".776" stop-color="#00feff"/><stop offset=".782" stop-color="#16ffe9"/><stop offset=".787" stop-color="#0bfff4"/><stop offset=".792" stop-color="#20ffdf"/><stop offset=".797" stop-color="#45ffba"/><stop offset=".808" stop-color="#3affc5"/><stop offset=".813" stop-color="#5effa1"/><stop offset=".818" stop-color="#67ff98"/><stop offset=".824" stop-color="#58ffa7"/><stop offset=".834" stop-color="#87ff78"/><stop offset=".839" stop-color="#7f8"/><stop offset=".845" stop-color="#7aff85"/><stop offset=".85" stop-color="#8bff74"/><stop offset=".861" stop-color="#9f6"/><stop offset=".871" stop-color="#c7ff38"/><stop offset=".876" stop-color="#b6ff49"/><stop offset=".882" stop-color="#c3ff3c"/><stop offset=".887" stop-color="#e5ff1a"/><stop offset=".897" stop-color="#e7ff18"/><stop offset=".903" stop-color="#ffe300"/><stop offset=".908" stop-color="#ffc300"/><stop offset=".913" stop-color="#ffb500"/><stop offset=".918" stop-color="#ff7f00"/><stop offset=".924" stop-color="#ff5a00"/><stop offset=".934" stop-color="#ff3200"/><stop offset=".939" stop-color="#ff2b00"/><stop offset=".945" stop-color="#fff100"/><stop offset=".95" stop-color="#30ffcf"/><stop offset=".955" stop-color="#00cbff"/><stop offset=".961" stop-color="#00adff"/><stop offset="1" stop-color="#00a1ff"/></linearGradient><linearGradient id="b110" gradientUnits="userSpaceOnUse" x1="324.0" x2="513.6"><stop offset="0" stop-color="#009fff"/><stop offset=".508" stop-color="#00a0ff"/><stop offset=".608" stop-color="#00b4ff"/><stop offset=".661" stop-color="#00caff"/><stop offset=".666" stop-color="#00edff"/><stop offset=".671" stop-color="#00d6ff"/><stop offset=".676" stop-color="#00e2ff"/><stop offset=".687" stop-color="#00d6ff"/><stop offset=".697" stop-color="#00ebff"/><stop offset=".708" stop-color="#00dbff"/><stop offset=".718" stop-color="#0ef"/><stop offset=".729" stop-color="#00e0ff"/><stop offset=".745" stop-color="#00f0ff"/><stop offset=".75" stop-color="#00e2ff"/><stop offset=".766" stop-color="#00d1ff"/><stop offset=".771" stop-color="#00e0ff"/><stop offset=".776" stop-color="#00feff"/><stop offset=".782" stop-color="#16ffe9"/><stop offset=".787" stop-color="#0bfff4"/><stop offset=".792" stop-color="#20ffdf"/><stop offset=".797" stop-color="#45ffba"/><stop offset=".808" stop-color="#3affc5"/><stop offset=".813" stop-color="#5effa1"/><stop offset=".818" stop-color="#67ff98"/><stop offset=".824" stop-color="#58ffa7"/><stop offset=".834" stop-color="#87ff78"/><stop offset=".839" stop-color="#7f8"/><stop offset=".855" stop-color="#8dff72"/><stop offset=".861" stop-color="#9f6"/><stop offset=".871" stop-color="#c7ff38"/><stop offset=".876" stop-color="#b5ff4a"/><stop offset=".882" stop-color="#c2ff3d"/><stop offset=".887" stop-color="#e3ff1c"/><stop offset=".897" stop-color="#e0ff1f"/><stop offset=".903" stop-color="#fe0"/><stop offset=".908" stop-color="#ffd200"/><stop offset=".913" stop-color="#ffc900"/><stop offset=".918" stop-color="#ff9700"/><stop offset=".924" stop-color="#ff7400"/><stop offset=".934" stop-color="#ff4700"/><stop offset=".939" stop-color="#ff3900"/><stop offset=".945" stop-color="#fff900"/><stop offset=".95" stop-color="#2cffd3"/><stop offset=".955" stop-color="#00caff"/><stop offset=".961" stop-color="#00acff"/><stop offset="1" stop-color="#00a1ff"/></linearGradient><linearGradient id="b111" gradientUnits="userSpaceOnUse" x1="324.0" x2="513.6"><stop offset="0" stop-color="#009fff"/><stop offset=".508" stop-color="#00a0ff"/><stop offset=".608" stop-color="#00b4ff"/><stop offset=".661" stop-color="#00caff"/><stop offset=".666" stop-color="#00edff"/><stop offset=".671" stop-color="#00d6ff"/><stop offset=".676" stop-color="#00e2ff"/><stop offset=".687" stop-color="#00d6ff"/><stop offset=".697" stop-color="#00ebff"/><stop offset=".708" stop-color="#00dbff"/><stop offset=".718" stop-color="#0ef"/><stop offset=".729" stop-color="#00e0ff"/><stop offset=".745" stop-color="#00f0ff"/><stop offset=".75" stop-color="#00e2ff"/><stop offset=".766" stop-color="#00d1ff"/><stop offset=".771" stop-color="#00e0ff"/><stop offset=".776" stop-color="#00feff"/><stop offset=".782" stop-color="#16ffe9"/><stop offset=".787" stop-color="#0bfff4"/><stop offset=".792" stop-color="#20ffdf"/><stop offset=".797" stop-color="#45ffba"/><stop offset=".808" stop-color="#3affc5"/><stop offset=".813" stop-color="#5effa1"/><stop offset=".818" stop-color="#67ff98"/><stop offset=".824" stop-color="#58ffa7"/><stop offset=".834" stop-color="#87ff78"/><stop offset=".839" stop-color="#7f8"/><stop offset=".855" stop-color="#8dff72"/><stop offset=".861" stop-color="#9f6"/><stop offset=".871" stop-color="#c7ff38"/><stop offset=".876" stop-color="#b5ff4a"/><stop offset=".882" stop-color="#c3ff3c"/><stop offset=".887" stop-color="#e6ff19"/><stop offset=".897" stop-color="#e2ff1d"/><stop offset=".903" stop-color="#ffef00"/><stop offset=".908" stop-color="#ffd800"/><stop offset=".913" stop-color="#ffd300"/><stop offset=".918" stop-color="#ffa300"/><stop offset=".924" stop-color="#ff8200"/><stop offset=".939" stop-color="#ff4200"/><stop offset=".945" stop-color="#fffe00"/><stop offset=".95" stop-color="#29ffd6"/><stop offset=".955" stop-color="#00c9ff"/><stop offset=".961" stop-color="#00acff"/><stop offset="1" stop-color="#00a1ff"/></linearGradient><linearGradient id="b112" gradientUnits="userSpaceOnUse" x1="324.0" x2="513.6"><stop offset="0" stop-color="#009fff"/><stop offset=".508" stop-color="#00a0ff"/><stop offset=".608" stop-color="#00b4ff"/><stop offset=".661" stop-color="#00caff"/><stop offset=".666" stop-color="#00edff"/><stop offset=".671" stop-color="#00d6ff"/><stop offset=".676" stop-color="#00e2ff"/><stop offset=".687" stop-color="#00d6ff"/><stop offset=".697" stop-color="#00ebff"/><stop offset=".708" stop-color="#00dbff"/><stop offset=".718" stop-color="#0ef"/><stop offset=".729" stop-color="#00e0ff"/><stop offset=".745" stop-color="#00f0ff"/><stop offset=".75" stop-color="#00e2ff"/><stop offset=".766" stop-color="#00d1ff"/><stop offset=".771" stop-color="#00e0ff"/><stop offset=".776" stop-color="#00feff"/><stop offset=".782" stop-color="#16ffe9"/><stop offset=".787" stop-color="#0bfff4"/><stop offset=".792" stop-color="#20ffdf"/><stop offset=".797" stop-color="#45ffba"/><stop offset=".808" stop-color="#3affc5"/><stop offset=".813" stop-color="#5effa1"/><stop offset=".818" stop-color="#67ff98"/><stop offset=".824" stop-color="#58ffa7"/><stop offset=".834" stop-color="#87ff78"/><stop offset=".839" stop-color="#7f8"/><stop offset=".855" stop-color="#8dff72"/><stop offset=".861" stop-color="#9f6"/><stop offset=".871" stop-color="#c8ff37"/><stop offset=".876" stop-color="#b7ff48"/><stop offset=".882" stop-color="#c8ff37"/><stop offset=".887" stop-color="#f0ff0f"/><stop offset=".897" stop-color="#f3ff0c"/><stop offset=".903" stop-color="#ffe300"/><stop offset=".908" stop-color="#ffd200"/><stop offset=".913" stop-color="#ffd200"/><stop offset=".918" stop-color="#ffa500"/><stop offset=".924" stop-color="#ff8400"/><stop offset=".939" stop-color="#ff4500"/><stop offset=".945" stop-color="#fdff02"/><stop offset=".95" stop-color="#28ffd7"/><stop offset=".955" stop-color="#00c8ff"/><stop offset=".961" stop-color="#00acff"/><stop offset="1" stop-color="#00a1ff"/></linearGradient><linearGradient id="b113" gradientUnits="userSpaceOnUse" x1="324.0" x2="513.6"><stop offset="0" stop-color="#009fff"/><stop offset=".508" stop-color="#00a0ff"/><stop offset=".608" stop-color="#00b4ff"/><stop offset=".661" stop-color="#00caff"/><stop offset=".666" stop-color="#00edff"/><stop offset=".671" stop-color="#00d6ff"/><stop offset=".676" stop-color="#00e2ff"/><stop offset=".687" stop-color="#00d6ff"/><stop offset=".697" stop-color="#00ebff"/><stop offset=".708" stop-color="#00dbff"/><stop offset=".718" stop-color="#0ef"/><stop offset=".729" stop-color="#00e0ff"/><stop offset=".745" stop-color="#00f0ff"/><stop offset=".75" stop-color="#00e2ff"/><stop offset=".766" stop-color="#00d1ff"/><stop offset=".771" stop-color="#00e0ff"/><stop offset=".776" stop-color="#00feff"/><stop offset=".782" stop-color="#16ffe9"/><stop offset=".787" stop-color="#0bfff4"/><stop offset=".792" stop-color="#20ffdf"/><stop offset=".797" stop-color="#45ffba"/><stop offset=".808" stop-color="#3affc5"/><stop offset=".813" stop-color="#5effa1"/><stop offset=".818" stop-color="#67ff98"/><stop offset=".824" stop-color="#58ffa7"/><stop offset=".834" stop-color="#87ff78"/><stop offset=".839" stop-color="#7f8"/><stop offset=".845" stop-color="#7aff85"/><stop offset=".85" stop-color="#8bff74"/><stop offset=".861" stop-color="#9f6"/><stop offset=".871" stop-color="#c9ff36"/><stop offset=".876" stop-color="#bf4"/><stop offset=".882" stop-color="#d1ff2e"/><stop offset=".887" stop-color="#fffa00"/><stop offset=".897" stop-color="#ffea00"/><stop offset=".903" stop-color="#ffc800"/><stop offset=".908" stop-color="#ffc200"/><stop offset=".913" stop-color="#ffcb00"/><stop offset=".924" stop-color="#ff8200"/><stop offset=".939" stop-color="#ff4500"/><stop offset=".945" stop-color="#fdff02"/><stop offset=".95" stop-color="#28ffd7"/><stop offset=".955" stop-color="#00c8ff"/><stop offset=".961" stop-color="#00acff"/><stop offset="1" stop-color="#00a1ff"/></linearGradient><linearGradient id="b114" gradientUnits="userSpaceOnUse" x1="324.0" x2="513.6"><stop offset="0" stop-color="#009fff"/><stop offset=".508" stop-color="#00a0ff"/><stop offset=".608" stop-color="#00b4ff"/><stop offset=".661" stop-color="#00caff"/><stop offset=".666" stop-color="#00edff"/><stop offset=".671" stop-color="#00d6ff"/><stop offset=".676" stop-color="#00e2ff"/><stop offset=".687" stop-color="#00d6ff"/><stop offset=".697" stop-color="#00ebff"/><stop offset=".708" stop-color="#00dbff"/><stop offset=".718" stop-color="#0ef"/><stop offset=".729" stop-color="#00e0ff"/><stop offset=".745" stop-color="#00f0ff"/><stop offset=".75" stop-color="#00e2ff"/><stop offset=".766" stop-color="#00d1ff"/><stop offset=".771" stop-color="#00e0ff"/><stop offset=".776" stop-color="#00feff"/><stop offset=".782" stop-color="#16ffe9"/><stop offset=".787" stop-color="#0bfff4"/><stop offset=".792" stop-color="#20ffdf"/><stop offset=".797" stop-color="#45ffba"/><stop offset=".808" stop-color="#3affc5"/><stop offset=".813" stop-color="#5effa1"/><stop offset=".818" stop-color="#67ff98"/><stop offset=".824" stop-color="#58ffa7"/><stop offset=".834" stop-color="#87ff78"/><stop offset=".839" stop-color="#7f8"/><stop offset=".845" stop-color="#7aff85"/><stop offset=".85" stop-color="#8bff74"/><stop offset=".861" stop-color="#9f6"/><stop offset=".871" stop-color="#c9ff36"/><stop offset=".876" stop-color="#beff41"/><stop offset=".882" stop-color="#dcff23"/><stop offset=".887" stop-color="#ffe500"/><stop offset=".892" stop-color="#ffcf00"/><stop offset=".897" stop-color="#ffc700"/><stop offset=".903" stop-color="#ffab00"/><stop offset=".913" stop-color="#ffc200"/><stop offset=".924" stop-color="#ff7f00"/><stop offset=".939" stop-color="#ff4500"/><stop offset=".945" stop-color="#fdff02"/><stop offset=".95" stop-color="#28ffd7"/><stop offset=".955" stop-color="#00c8ff"/><stop offset=".961" stop-color="#00abff"/><stop offset="1" stop-color="#00a1ff"/></linearGradient><linearGradient id="b115" gradientUnits="userSpaceOnUse" x1="324.0" x2="513.6"><stop offset="0" stop-color="#009fff"/><stop offset=".508" stop-color="#00a0ff"/><stop offset=".608" stop-color="#00b4ff"/><stop offset=".661" stop-color="#00caff"/><stop offset=".666" stop-color="#00edff"/><stop offset=".671" stop-color="#00d6ff"/><stop offset=".676" stop-color="#00e2ff"/><stop offset=".687" stop-color="#00d6ff"/><stop offset=".697" stop-color="#00ebff"/><stop offset=".708" stop-color="#00dbff"/><stop offset=".718" stop-color="#0ef"/><stop offset=".729" stop-color="#00e0ff"/><stop offset=".745" stop-color="#00f0ff"/><stop offset=".75" stop-color="#00e2ff"/><stop offset=".766" stop-color="#00d1ff"/><stop offset=".771" stop-color="#00e0ff"/><stop offset=".776" stop-color="#00feff"/><stop offset=".782" stop-color="#16ffe9"/><stop offset=".787" stop-color="#0bfff4"/><stop offset=".792" stop-color="#20ffdf"/><stop offset=".797" stop-color="#45ffba"/><stop offset=".808" stop-color="#3affc5"/><stop offset=".813" stop-color="#5effa1"/><stop offset=".818" stop-color="#67ff98"/><stop offset=".824" stop-color="#58ffa7"/><stop offset=".834" stop-color="#87ff78"/><stop offset=".839" stop-color="#7f8"/><stop offset=".845" stop-color="#7aff85"/><stop offset=".85" stop-color="#8bff74"/><stop offset=".861" stop-color="#9f6"/><stop offset=".871" stop-color="#caff35"/><stop offset=".876" stop-color="#c0ff3f"/><stop offset=".882" stop-color="#e0ff1f"/><stop offset=".887" stop-color="#fd0"/><stop offset=".892" stop-color="#ffc200"/><stop offset=".897" stop-color="#ffb800"/><stop offset=".903" stop-color="#ff9f00"/><stop offset=".913" stop-color="#ffc000"/><stop offset=".924" stop-color="#ff8000"/><stop offset=".939" stop-color="#ff4500"/><stop offset=".945" stop-color="#fcff03"/><stop offset=".95" stop-color="#28ffd7"/><stop offset=".955" stop-color="#00c8ff"/><stop offset=".961" stop-color="#00abff"/><stop offset="1" stop-color="#00a1ff"/></linearGradient><linearGradient id="b116" gradientUnits="userSpaceOnUse" x1="324.0" x2="513.6"><stop offset="0" stop-color="#009fff"/><stop offset=".508" stop-color="#00a0ff"/><stop offset=".608" stop-color="#00b4ff"/><stop offset=".661" stop-color="#00caff"/><stop offset=".666" stop-color="#00edff"/><stop offset=".671" stop-color="#00d6ff"/><stop offset=".676" stop-color="#00e2ff"/><stop offset=".687" stop-color="#00d6ff"/><stop offset=".697" stop-color="#00ebff"/><stop offset=".708" stop-color="#00dbff"/><stop offset=".718" stop-color="#0ef"/><stop offset=".729" stop-color="#00e0ff"/><stop offset=".745" stop-color="#00f0ff"/><stop offset=".75" stop-color="#00e2ff"/><stop offset=".766" stop-color="#00d1ff"/><stop offset=".771" stop-color="#00e0ff"/><stop offset=".776" stop-color="#00feff"/><stop offset=".782" stop-color="#16ffe9"/><stop offset=".787" stop-color="#0bfff4"/><stop offset=".792" stop-color="#20ffdf"/><stop offset=".797" stop-color="#45ffba"/><stop offset=".808" stop-color="#3affc5"/><stop offset=".813" stop-color="#5effa1"/><stop offset=".818" stop-color="#67ff98"/><stop offset=".824" stop-color="#58ffa7"/><stop offset=".834" stop-color="#87ff78"/><stop offset=".839" stop-color="#7f8"/><stop offset=".845" stop-color="#7aff85"/><stop offset=".85" stop-color="#8bff74"/><stop offset=".861" stop-color="#9f6"/><stop offset=".871" stop-color="#c9ff36"/><stop offset=".876" stop-color="#beff41"/><stop offset=".882" stop-color="#dbff24"/><stop offset=".887" stop-color="#ffe700"/><stop offset=".892" stop-color="#ffd200"/><stop offset=".897" stop-color="#ffca00"/><stop offset=".903" stop-color="#ffaf00"/><stop offset=".908" stop-color="#ffb400"/><stop offset=".913" stop-color="#ffc700"/><stop offset=".924" stop-color="#ff8700"/><stop offset=".939" stop-color="#ff4800"/><stop offset=".945" stop-color="#fbff04"/><stop offset=".95" stop-color="#27ffd8"/><stop offset=".955" stop-color="#00c8ff"/><stop offset=".961" stop-color="#00abff"/><stop offset="1" stop-color="#00a1ff"/></linearGradient><linearGradient id="b117" gradientUnits="userSpaceOnUse" x1="324.0" x2="513.6"><stop offset="0" stop-color="#009fff"/><stop offset=".508" stop-color="#00a0ff"/><stop offset=".608" stop-color="#00b4ff"/><stop offset=".661" stop-color="#00caff"/><stop offset=".666" stop-color="#00edff"/><stop offset=".671" stop-color="#00d6ff"/><stop offset=".676" stop-color="#00e2ff"/><stop offset=".687" stop-color="#00d6ff"/><stop offset=".697" stop-color="#00ebff"/><stop offset=".708" stop-color="#00dbff"/><stop offset=".718" stop-color="#0ef"/><stop offset=".729" stop-color="#00e0ff"/><stop offset=".745" stop-color="#00f0ff"/><stop offset=".75" stop-color="#00e2ff"/><stop offset=".766" stop-color="#00d1ff"/><stop offset=".771" stop-color="#00e0ff"/><stop offset=".776" stop-color="#00feff"/><stop offset=".782" stop-color="#16ffe9"/><stop offset=".787" stop-color="#0bfff4"/><stop offset=".792" stop-color="#20ffdf"/><stop offset=".797" stop-color="#45ffba"/><stop offset=".808" stop-color="#3affc5"/><stop offset=".813" stop-color="#5effa1"/><stop offset=".818" stop-color="#67ff98"/><stop offset=".824" stop-color="#58ffa7"/><stop offset=".834" stop-color="#87ff78"/><stop offset=".839" stop-color="#7f8"/><stop offset=".845" stop-color="#7aff85"/><stop offset=".85" stop-color="#8bff74"/><stop offset=".861" stop-color="#9f6"/><stop offset=".871" stop-color="#c8ff37"/><stop offset=".876" stop-color="#baff45"/><stop offset=".882" stop-color="#d0ff2f"/><stop offset=".887" stop-color="#fffd00"/><stop offset=".897" stop-color="#ffef00"/><stop offset=".903" stop-color="#ffce00"/><stop offset=".908" stop-color="#ffc900"/><stop offset=".913" stop-color="#ffd400"/><stop offset=".924" stop-color="#ff9200"/><stop offset=".939" stop-color="#ff4d00"/><stop offset=".945" stop-color="#f9ff06"/><stop offset=".95" stop-color="#26ffd9"/><stop offset=".955" stop-color="#00c7ff"/><stop offset=".961" stop-color="#00abff"/><stop offset="1" stop-color="#00a1ff"/></linearGradient><linearGradient id="b118" gradientUnits="userSpaceOnUse" x1="324.0" x2="513.6"><stop offset="0" stop-color="#009fff"/><stop offset=".508" stop-color="#00a0ff"/><stop offset=".608" stop-color="#00b4ff"/><stop offset=".661" stop-color="#00caff"/><stop offset=".666" stop-color="#00edff"/><stop offset=".671" stop-color="#00d6ff"/><stop offset=".676" stop-color="#00e2ff"/><stop offset=".687" stop-color="#00d6ff"/><stop offset=".697" stop-color="#00ebff"/><stop offset=".708" stop-color="#00dbff"/><stop offset=".718" stop-color="#0ef"/><stop offset=".729" stop-color="#00e0ff"/><stop offset=".745" stop-color="#00f0ff"/><stop offset=".75" stop-color="#00e2ff"/><stop offset=".766" stop-color="#00d1ff"/><stop offset=".771" stop-color="#00e0ff"/><stop offset=".776" stop-color="#00feff"/><stop offset=".782" stop-color="#16ffe9"/><stop offset=".787" stop-color="#0bfff4"/><stop offset=".792" stop-color="#20ffdf"/><stop offset=".797" stop-color="#45ffba"/><stop offset=".808" stop-color="#3affc5"/><stop offset=".813" stop-color="#5effa1"/><stop offset=".818" stop-color="#67ff98"/><stop offset=".824" stop-color="#58ffa7"/><stop offset=".834" stop-color="#87ff78"/><stop offset=".839" stop-color="#7f8"/><stop offset=".855" stop-color="#8dff72"/><stop offset=".861" stop-color="#9f6"/><stop offset=".871" stop-color="#c8ff37"/><stop offset=".876" stop-color="#b7ff48"/><stop offset=".882" stop-color="#c7ff38"/><stop offset=".887" stop-color="#ef1"/><stop offset=".897" stop-color="#ef1"/><stop offset=".903" stop-color="#ffe900"/><stop offset=".908" stop-color="#ffdc00"/><stop offset=".913" stop-color="#ffe100"/><stop offset=".918" stop-color="#fb0"/><stop offset=".939" stop-color="#ff5200"/><stop offset=".945" stop-color="#f7ff08"/><stop offset=".95" stop-color="#25ffda"/><stop offset=".955" stop-color="#00c7ff"/><stop offset=".961" stop-color="#00abff"/><stop offset="1" stop-color="#00a1ff"/></linearGradient><linearGradient id="b119" gradientUnits="userSpaceOnUse" x1="324.0" x2="513.6"><stop offset="0" stop-color="#009fff"/><stop offset=".508" stop-color="#00a0ff"/><stop offset=".608" stop-color="#00b4ff"/><stop offset=".661" stop-color="#00caff"/><stop offset=".666" stop-color="#00edff"/><stop offset=".671" stop-color="#00d6ff"/><stop offset=".676" stop-color="#00e2ff"/><stop offset=".687" stop-color="#00d6ff"/><stop offset=".697" stop-color="#00ebff"/><stop offset=".708" stop-color="#00dbff"/><stop offset=".718" stop-color="#0ef"/><stop offset=".729" stop-color="#00e0ff"/><stop offset=".745" stop-color="#00f0ff"/><stop offset=".75" stop-color="#00e2ff"/><stop offset=".766" stop-color="#00d1ff"/><stop offset=".771" stop-color="#00e0ff"/><stop offset=".776" stop-color="#00feff"/><stop offset=".782" stop-color="#16ffe9"/><stop offset=".787" stop-color="#0bfff4"/><stop offset=".792" stop-color="#20ffdf"/><stop offset=".797" stop-color="#45ffba"/><stop offset=".808" stop-color="#3affc5"/><stop offset=".813" stop-color="#5effa1"/><stop offset=".818" stop-color="#67ff98"/><stop offset=".824" stop-color="#58ffa7"/><stop offset=".834" stop-color="#87ff78"/><stop offset=".839" stop-color="#7f8"/><stop offset=".855" stop-color="#8dff72"/><stop offset=".861" stop-color="#9f6"/><stop offset=".871" stop-color="#c7ff38"/><stop offset=".876" stop-color="#b6ff49"/><stop offset=".882" stop-color="#c4ff3b"/><stop offset=".887" stop-color="#e6ff19"/><stop offset=".897" stop-color="#dbff24"/><stop offset=".903" stop-color="#fffc00"/><stop offset=".908" stop-color="#ffea00"/><stop offset=".913" stop-color="#fe0"/><stop offset=".918" stop-color="#ffc900"/><stop offset=".939" stop-color="#ff5800"/><stop offset=".945" stop-color="#f4ff0b"/><stop offset=".95" stop-color="#24ffdb"/><stop offset=".955" stop-color="#00c7ff"/><stop offset=".961" stop-color="#00abff"/><stop offset="1" stop-color="#00a1ff"/></linearGradient><linearGradient id="b120" gradientUnits="userSpaceOnUse" x1="324.0" x2="513.6"><stop offset="0" stop-color="#009fff"/><stop offset=".508" stop-color="#00a0ff"/><stop offset=".608" stop-color="#00b4ff"/><stop offset=".661" stop-color="#00caff"/><stop offset=".666" stop-color="#00edff"/><stop offset=".671" stop-color="#00d6ff"/><stop offset=".676" stop-color="#00e2ff"/><stop offset=".687" stop-color="#00d6ff"/><stop offset=".697" stop-color="#00ebff"/><stop offset=".708" stop-color="#00dbff"/><stop offset=".718" stop-color="#0ef"/><stop offset=".729" stop-color="#00e0ff"/><stop offset=".745" stop-color="#00f0ff"/><stop offset=".75" stop-color="#00e2ff"/><stop offset=".766" stop-color="#00d1ff"/><stop offset=".771" stop-color="#00e0ff"/><stop offset=".776" stop-color="#00feff"/><stop offset=".782" stop-color="#16ffe9"/><stop offset=".787" stop-color="#0bfff4"/><stop offset=".792" stop-color="#20ffdf"/><stop offset=".797" stop-color="#45ffba"/><stop offset=".808" stop-color="#3affc5"/><stop offset=".813" stop-color="#5effa1"/><stop offset=".818" stop-color="#67ff98"/><stop offset=".824" stop-color="#58ffa7"/><stop offset=".834" stop-color="#87ff78"/><stop offset=".839" stop-color="#7f8"/><stop offset=".845" stop-color="#7aff85"/><stop offset=".85" stop-color="#8bff74"/><stop offset=".861" stop-color="#9f6"/><stop offset=".871" stop-color="#caff35"/><stop offset=".876" stop-color="#c0ff3f"/><stop offset=".887" stop-color="#fff700"/><stop offset=".892" stop-color="#fdff02"/><stop offset=".897" stop-color="#eaff15"/><stop offset=".903" stop-color="#fff900"/><stop offset=".908" stop-color="#fe0"/><stop offset=".913" stop-color="#fff400"/><stop offset=".918" stop-color="#ffd200"/><stop offset=".929" stop-color="#ffa100"/><stop offset=".939" stop-color="#ff5d00"/><stop offset=".945" stop-color="#f2ff0d"/><stop offset=".95" stop-color="#24ffdb"/><stop offset=".955" stop-color="#00c7ff"/><stop offset=".961" stop-color="#00abff"/><stop offset="1" stop-color="#00a1ff"/></linearGradient><linearGradient id="b121" gradientUnits="userSpaceOnUse" x1="324.0" x2="513.6"><stop offset="0" stop-color="#009fff"/><stop offset=".508" stop-color="#00a0ff"/><stop offset=".608" stop-color="#00b4ff"/><stop offset=".661" stop-color="#00caff"/><stop offset=".666" stop-color="#00edff"/><stop offset=".671" stop-color="#00d6ff"/><stop offset=".676" stop-color="#00e2ff"/><stop offset=".687" stop-color="#00d6ff"/><stop offset=".697" stop-color="#00ebff"/><stop offset=".708" stop-color="#00dbff"/><stop offset=".718" stop-color="#0ef"/><stop offset=".729" stop-color="#00e0ff"/><stop offset=".745" stop-color="#00f0ff"/><stop offset=".75" stop-color="#00e2ff"/><stop offset=".766" stop-color="#00d1ff"/><stop offset=".771" stop-color="#00e0ff"/><stop offset=".776" stop-color="#00feff"/><stop offset=".782" stop-color="#16ffe9"/><stop offset=".787" stop-color="#0bfff4"/><stop offset=".792" stop-color="#20ffdf"/><stop offset=".797" stop-color="#45ffba"/><stop offset=".808" stop-color="#3affc5"/><stop offset=".813" stop-color="#5effa1"/><stop offset=".818" stop-color="#67ff98"/><stop offset=".824" stop-color="#58ffa7"/><stop offset=".834" stop-color="#87ff78"/><stop offset=".839" stop-color="#7f8"/><stop offset=".845" stop-color="#7aff85"/><stop offset=".85" stop-color="#8bff74"/><stop offset=".861" stop-color="#9f6"/><stop offset=".871" stop-color="#ceff31"/><stop offset=".876" stop-color="#cfff30"/><stop offset=".882" stop-color="#fcff03"/><stop offset=".887" stop-color="#ffc700"/><stop offset=".892" stop-color="#ffd400"/><stop offset=".897" stop-color="#fffa00"/><stop offset=".908" stop-color="#ffec00"/><stop offset=".913" stop-color="#fff600"/><stop offset=".929" stop-color="#ffa500"/><stop offset=".939" stop-color="#ff5f00"/><stop offset=".945" stop-color="#f1ff0e"/><stop offset=".95" stop-color="#23ffdc"/><stop offset=".955" stop-color="#00c7ff"/><stop offset=".961" stop-color="#00abff"/><stop offset="1" stop-color="#00a1ff"/></linearGradient><linearGradient id="b122" gradientUnits="userSpaceOnUse" x1="324.0" x2="513.6"><stop offset="0" stop-color="#009fff"/><stop offset=".508" stop-color="#00a0ff"/><stop offset=".608" stop-color="#00b4ff"/><stop offset=".661" stop-color="#00caff"/><stop offset=".666" stop-color="#00edff"/><stop offset=".671" stop-color="#00d6ff"/><stop offset=".676" stop-color="#00e2ff"/><stop offset=".687" stop-color="#00d6ff"/><stop offset=".697" stop-color="#00ebff"/><stop offset=".708" stop-color="#00dbff"/><stop offset=".718" stop-color="#0ef"/><stop offset=".729" stop-color="#00e0ff"/><stop offset=".745" stop-color="#00f0ff"/><stop offset=".75" stop-color="#00e2ff"/><stop offset=".766" stop-color="#00d1ff"/><stop offset=".771" stop-color="#00e0ff"/><stop offset=".776" stop-color="#00feff"/><stop offset=".782" stop-color="#16ffe9"/><stop offset=".787" stop-color="#0bfff4"/><stop offset=".792" stop-color="#20ffdf"/><stop offset=".797" stop-color="#45ffba"/><stop offset=".808" stop-color="#3affc5"/><stop offset=".813" stop-color="#5effa1"/><stop offset=".818" stop-color="#67ff98"/><stop offset=".824" stop-color="#58ffa7"/><stop offset=".834" stop-color="#87ff78"/><stop offset=".839" stop-color="#7f8"/><stop offset=".845" stop-color="#7aff85"/><stop offset=".85" stop-color="#8bff74"/><stop offset=".861" stop-color="#9f6"/><stop offset=".871" stop-color="#caff35"/><stop offset=".876" stop-color="#bfff40"/><stop offset=".882" stop-color="#d8ff27"/><stop offset=".887" stop-color="#fffb00"/><stop offset=".897" stop-color="#e7ff18"/><stop offset=".903" stop-color="#fffb00"/><stop offset=".908" stop-color="#fff000"/><stop offset=".913" stop-color="#fff800"/><stop offset=".929" stop-color="#ffa700"/><stop offset=".939" stop-color="#ff6000"/><stop offset=".945" stop-color="#f0ff0f"/><stop offset=".95" stop-color="#23ffdc"/><stop offset=".955" stop-color="#00c7ff"/><stop offset=".961" stop-color="#00abff"/><stop offset="1" stop-color="#00a1ff"/></linearGradient><linearGradient id="b123" gradientUnits="userSpaceOnUse" x1="324.0" x2="513.6"><stop offset="0" stop-color="#009fff"/><stop offset=".508" stop-color="#00a0ff"/><stop offset=".608" stop-color="#00b4ff"/><stop offset=".661" stop-color="#00caff"/><stop offset=".666" stop-color="#00edff"/><stop offset=".671" stop-color="#00d6ff"/><stop offset=".676" stop-color="#00e2ff"/><stop offset=".687" stop-color="#00d6ff"/><stop offset=".697" stop-color="#00ebff"/><stop offset=".708" stop-color="#00dbff"/><stop offset=".718" stop-color="#0ef"/><stop offset=".729" stop-color="#00e0ff"/><stop offset=".745" stop-color="#00f0ff"/><stop offset=".75" stop-color="#00e1ff"/><stop offset=".766" stop-color="#00d1ff"/><stop offset=".771" stop-color="#00e0ff"/><stop offset=".776" stop-color="#00feff"/><stop offset=".782" stop-color="#16ffe9"/><stop offset=".787" stop-color="#0bfff4"/><stop offset=".792" stop-color="#20ffdf"/><stop offset=".797" stop-color="#45ffba"/><stop offset=".808" stop-color="#39ffc6"/><stop offset=".813" stop-color="#5dffa2"/><stop offset=".818" stop-color="#6f9"/><stop offset=".824" stop-color="#57ffa8"/><stop offset=".834" stop-color="#86ff79"/><stop offset=".839" stop-color="#76ff89"/><stop offset=".845" stop-color="#79ff86"/><stop offset=".85" stop-color="#8aff75"/><stop offset=".861" stop-color="#98ff67"/><stop offset=".871" stop-color="#c6ff39"/><stop offset=".876" stop-color="#b3ff4c"/><stop offset=".882" stop-color="#beff41"/><stop offset=".887" stop-color="#df2"/><stop offset=".897" stop-color="#d1ff2e"/><stop offset=".903" stop-color="#faff05"/><stop offset=".908" stop-color="#fff300"/><stop offset=".913" stop-color="#fff900"/><stop offset=".929" stop-color="#ffa900"/><stop offset=".939" stop-color="#ff6100"/><stop offset=".945" stop-color="#f0ff0f"/><stop offset=".95" stop-color="#23ffdc"/><stop offset=".955" stop-color="#00c7ff"/><stop offset=".961" stop-color="#00abff"/><stop offset="1" stop-color="#00a1ff"/></linearGradient><linearGradient id="b124" gradientUnits="userSpaceOnUse" x1="324.0" x2="513.6"><stop offset="0" stop-color="#009fff"/><stop offset=".508" stop-color="#00a0ff"/><stop offset=".608" stop-color="#00b4ff"/><stop offset=".661" stop-color="#00c9ff"/><stop offset=".666" stop-color="#00ecff"/><stop offset=".671" stop-color="#00d6ff"/><stop offset=".676" stop-color="#00e1ff"/><stop offset=".687" stop-color="#00d5ff"/><stop offset=".697" stop-color="#00eaff"/><stop offset=".708" stop-color="#00daff"/><stop offset=".718" stop-color="#00edff"/><stop offset=".729" stop-color="#00dfff"/><stop offset=".745" stop-color="#00efff"/><stop offset=".75" stop-color="#00e0ff"/><stop offset=".766" stop-color="#00cfff"/><stop offset=".771" stop-color="#00deff"/><stop offset=".776" stop-color="#00fcff"/><stop offset=".782" stop-color="#14ffeb"/><stop offset=".787" stop-color="#08fff7"/><stop offset=".792" stop-color="#1dffe2"/><stop offset=".797" stop-color="#41ffbe"/><stop offset=".808" stop-color="#35ffca"/><stop offset=".813" stop-color="#59ffa6"/><stop offset=".818" stop-color="#61ff9e"/><stop offset=".824" stop-color="#51ffae"/><stop offset=".834" stop-color="#80ff7f"/><stop offset=".839" stop-color="#6fff90"/><stop offset=".855" stop-color="#84ff7b"/><stop offset=".861" stop-color="#90ff6f"/><stop offset=".871" stop-color="#beff41"/><stop offset=".876" stop-color="#abff54"/><stop offset=".882" stop-color="#b7ff48"/><stop offset=".887" stop-color="#d6ff29"/><stop offset=".897" stop-color="#cbff34"/><stop offset=".903" stop-color="#f4ff0b"/><stop offset=".908" stop-color="#fff900"/><stop offset=".913" stop-color="#ff0"/><stop offset=".929" stop-color="#ffaf00"/><stop offset=".939" stop-color="#ff6500"/><stop offset=".945" stop-color="#edff12"/><stop offset=".95" stop-color="#2fd"/><stop offset=".955" stop-color="#00c7ff"/><stop offset=".961" stop-color="#00abff"/><stop offset="1" stop-color="#00a1ff"/></linearGradient><linearGradient id="cvb" gradientUnits="userSpaceOnUse" x1="418" x2="496"><stop offset="0" stop-color="#3fd" stop-opacity=".2"/><stop offset=".15" stop-color="#8f8" stop-opacity=".8"/><stop offset=".3" stop-color="#ee2"/><stop offset=".5" stop-color="#fc0"/><stop offset=".7" stop-color="#f90"/><stop offset="1" stop-color="#f60"/></linearGradient><clipPath id="cc"><rect x="177.40" y="237.00" width="189.40" height="169.00"/></clipPath><linearGradient id="c125" gradientUnits="userSpaceOnUse" x1="177.4" x2="366.8"><stop offset="0" stop-color="#00b9ff"/><stop offset=".924" stop-color="#00b9ff"/><stop offset=".929" stop-color="#00d1ff"/><stop offset=".934" stop-color="#09fff6"/><stop offset=".939" stop-color="#fffa00"/><stop offset=".945" stop-color="#91ff6e"/><stop offset=".95" stop-color="#00f0ff"/><stop offset=".955" stop-color="#00c3ff"/><stop offset=".961" stop-color="#00b9ff"/><stop offset="1" stop-color="#00b9ff"/></linearGradient></defs>
<g clip-path="url(#ac)"><g filter="url(#vb)">
<rect x="27.5" y="4.00" width="195.5" height="13.27" fill="url(#a0)"/>
<rect x="27.5" y="15.97" width="195.5" height="9.28" fill="url(#a1)"/>
<rect x="27.5" y="23.95" width="195.5" height="6.29" fill="url(#a2)"/>
<rect x="27.5" y="28.94" width="195.5" height="2.30" fill="url(#a3)"/>
<rect x="27.5" y="29.93" width="195.5" height="2.30" fill="url(#a4)"/>
<rect x="27.5" y="30.93" width="195.5" height="2.30" fill="url(#a5)"/>
<rect x="27.5" y="31.93" width="195.5" height="2.30" fill="url(#a6)"/>
<rect x="27.5" y="32.92" width="195.5" height="2.30" fill="url(#a7)"/>
<rect x="27.5" y="33.92" width="195.5" height="2.30" fill="url(#a8)"/>
<rect x="27.5" y="34.92" width="195.5" height="2.30" fill="url(#a9)"/>
<rect x="27.5" y="35.91" width="195.5" height="2.30" fill="url(#a10)"/>
<rect x="27.5" y="36.91" width="195.5" height="2.30" fill="url(#a11)"/>
<rect x="27.5" y="37.91" width="195.5" height="2.30" fill="url(#a12)"/>
<rect x="27.5" y="38.91" width="195.5" height="2.30" fill="url(#a13)"/>
<rect x="27.5" y="39.90" width="195.5" height="2.30" fill="url(#a14)"/>
<rect x="27.5" y="40.90" width="195.5" height="2.30" fill="url(#a15)"/>
<rect x="27.5" y="41.90" width="195.5" height="2.30" fill="url(#a16)"/>
<rect x="27.5" y="42.89" width="195.5" height="2.30" fill="url(#a17)"/>
<rect x="27.5" y="43.89" width="195.5" height="2.30" fill="url(#a18)"/>
<rect x="27.5" y="44.89" width="195.5" height="2.30" fill="url(#a19)"/>
<rect x="27.5" y="45.89" width="195.5" height="2.30" fill="url(#a20)"/>
<rect x="27.5" y="46.88" width="195.5" height="2.30" fill="url(#a21)"/>
<rect x="27.5" y="47.88" width="195.5" height="2.30" fill="url(#a22)"/>
<rect x="27.5" y="48.88" width="195.5" height="2.30" fill="url(#a23)"/>
<rect x="27.5" y="49.87" width="195.5" height="4.29" fill="url(#a24)"/>
<rect x="27.5" y="52.86" width="195.5" height="3.29" fill="url(#a25)"/>
<rect x="27.5" y="54.86" width="195.5" height="4.29" fill="url(#a26)"/>
<rect x="27.5" y="57.85" width="195.5" height="3.29" fill="url(#a27)"/>
<rect x="27.5" y="59.84" width="195.5" height="3.29" fill="url(#a28)"/>
<rect x="27.5" y="61.84" width="195.5" height="3.29" fill="url(#a29)"/>
<rect x="27.5" y="63.83" width="195.5" height="3.29" fill="url(#a30)"/>
<rect x="27.5" y="65.83" width="195.5" height="5.29" fill="url(#a31)"/>
<rect x="27.5" y="69.81" width="195.5" height="5.29" fill="url(#a32)"/>
<rect x="27.5" y="73.80" width="195.5" height="5.29" fill="url(#a33)"/>
<rect x="27.5" y="77.79" width="195.5" height="4.29" fill="url(#a34)"/>
<rect x="27.5" y="80.78" width="195.5" height="2.30" fill="url(#a35)"/>
<rect x="27.5" y="81.78" width="195.5" height="2.30" fill="url(#a36)"/>
<rect x="27.5" y="82.78" width="195.5" height="2.30" fill="url(#a37)"/>
<rect x="27.5" y="83.77" width="195.5" height="2.30" fill="url(#a38)"/>
<rect x="27.5" y="84.77" width="195.5" height="2.30" fill="url(#a39)"/>
<rect x="27.5" y="85.77" width="195.5" height="2.30" fill="url(#a40)"/>
<rect x="27.5" y="86.76" width="195.5" height="2.30" fill="url(#a41)"/>
<rect x="27.5" y="87.76" width="195.5" height="3.29" fill="url(#a42)"/>
<rect x="27.5" y="89.76" width="195.5" height="3.29" fill="url(#a43)"/>
<rect x="27.5" y="91.75" width="195.5" height="3.29" fill="url(#a44)"/>
<rect x="27.5" y="93.74" width="195.5" height="3.29" fill="url(#a45)"/>
<rect x="27.5" y="95.74" width="195.5" height="3.29" fill="url(#a46)"/>
<rect x="27.5" y="97.73" width="195.5" height="3.29" fill="url(#a47)"/>
<rect x="27.5" y="99.73" width="195.5" height="3.29" fill="url(#a48)"/>
<rect x="27.5" y="101.72" width="195.5" height="3.29" fill="url(#a49)"/>
<rect x="27.5" y="103.71" width="195.5" height="3.29" fill="url(#a50)"/>
<rect x="27.5" y="105.71" width="195.5" height="2.30" fill="url(#a51)"/>
<rect x="27.5" y="106.71" width="195.5" height="2.30" fill="url(#a52)"/>
<rect x="27.5" y="107.70" width="195.5" height="2.30" fill="url(#a53)"/>
<rect x="27.5" y="108.70" width="195.5" height="2.30" fill="url(#a54)"/>
<rect x="27.5" y="109.70" width="195.5" height="2.30" fill="url(#a55)"/>
<rect x="27.5" y="110.69" width="195.5" height="2.30" fill="url(#a56)"/>
<rect x="27.5" y="111.69" width="195.5" height="2.30" fill="url(#a57)"/>
<rect x="27.5" y="112.69" width="195.5" height="3.29" fill="url(#a58)"/>
<rect x="27.5" y="114.68" width="195.5" height="2.30" fill="url(#a59)"/>
<rect x="27.5" y="115.68" width="195.5" height="2.30" fill="url(#a60)"/>
<rect x="27.5" y="116.68" width="195.5" height="2.30" fill="url(#a61)"/>
<rect x="27.5" y="117.67" width="195.5" height="3.29" fill="url(#a62)"/>
<rect x="27.5" y="119.67" width="195.5" height="4.29" fill="url(#a63)"/>
<rect x="27.5" y="122.66" width="195.5" height="3.29" fill="url(#a64)"/>
<rect x="27.5" y="124.65" width="195.5" height="4.29" fill="url(#a65)"/>
<rect x="27.5" y="127.64" width="195.5" height="4.29" fill="url(#a66)"/>
<rect x="27.5" y="130.64" width="195.5" height="2.30" fill="url(#a67)"/>
<rect x="27.5" y="131.63" width="195.5" height="2.30" fill="url(#a68)"/>
<rect x="27.5" y="132.63" width="195.5" height="2.30" fill="url(#a69)"/>
<rect x="27.5" y="133.63" width="195.5" height="2.30" fill="url(#a70)"/>
<rect x="27.5" y="134.62" width="195.5" height="2.30" fill="url(#a71)"/>
<rect x="27.5" y="135.62" width="195.5" height="2.30" fill="url(#a72)"/>
<rect x="27.5" y="136.62" width="195.5" height="2.30" fill="url(#a73)"/>
<rect x="27.5" y="137.61" width="195.5" height="3.29" fill="url(#a74)"/>
<rect x="27.5" y="139.61" width="195.5" height="2.30" fill="url(#a75)"/>
<rect x="27.5" y="140.61" width="195.5" height="2.30" fill="url(#a76)"/>
<rect x="27.5" y="141.60" width="195.5" height="2.30" fill="url(#a77)"/>
<rect x="27.5" y="142.60" width="195.5" height="2.30" fill="url(#a78)"/>
<rect x="27.5" y="143.60" width="195.5" height="2.30" fill="url(#a79)"/>
<rect x="27.5" y="144.59" width="195.5" height="2.30" fill="url(#a80)"/>
<rect x="27.5" y="145.59" width="195.5" height="2.30" fill="url(#a81)"/>
<rect x="27.5" y="146.59" width="195.5" height="2.30" fill="url(#a82)"/>
<rect x="27.5" y="147.59" width="195.5" height="2.30" fill="url(#a83)"/>
<rect x="27.5" y="148.58" width="195.5" height="2.30" fill="url(#a84)"/>
<rect x="27.5" y="149.58" width="195.5" height="2.30" fill="url(#a85)"/>
<rect x="27.5" y="150.58" width="195.5" height="2.30" fill="url(#a86)"/>
<rect x="27.5" y="151.57" width="195.5" height="2.30" fill="url(#a87)"/>
<rect x="27.5" y="152.57" width="195.5" height="2.30" fill="url(#a88)"/>
<rect x="27.5" y="153.57" width="195.5" height="2.30" fill="url(#a89)"/>
<rect x="27.5" y="154.56" width="195.5" height="24.94" fill="url(#a90)"/>
</g></g>
<g fill="none" stroke="url(#cva)" filter="url(#cb)"><path d="M125 159.7C135 159.5 146 158.9 155 157.8S175 154.8 183 152.6 193 149.6 199 146.8" stroke-width="1.2"/><path d="M165 156.2C172 155 177 154.3 183 152.6S193 149.6 199 146.8" stroke-width="2.4" stroke-opacity=".4"/><path d="M128 157.2C138 157 148 156.4 157 155.3S170 153.2 178 151.2" stroke-width=".8" stroke-opacity=".45"/></g>
<rect x="30.50" y="7.00" width="162.00" height="169.50" filter="url(#nz)" opacity="0.24" style="mix-blend-mode:overlay"/>
<rect x="212.00" y="7.00" width="8.00" height="169.50" filter="url(#nz)" opacity="0.20" style="mix-blend-mode:overlay"/>
<rect x="30.50" y="7.00" width="189.50" height="169.50" fill="none" stroke="#333" stroke-width=".5" stroke-opacity=".45"/>
<path d="M30.50 7.00v169.50h189.50" fill="none" stroke="#222" stroke-width=".5" stroke-opacity=".5"/>
<text class="t" x="28.90" y="162.35" text-anchor="end">100</text>
<text class="t" x="28.90" y="145.40" text-anchor="end">200</text>
<text class="t" x="28.90" y="128.45" text-anchor="end">300</text>
<text class="t" x="28.90" y="111.50" text-anchor="end">400</text>
<text class="t" x="28.90" y="94.55" text-anchor="end">500</text>
<text class="t" x="28.90" y="77.60" text-anchor="end">600</text>
<text class="t" x="28.90" y="60.65" text-anchor="end">700</text>
<text class="t" x="28.90" y="43.70" text-anchor="end">800</text>
<text class="t" x="28.90" y="26.75" text-anchor="end">900</text>
<text class="t" x="28.90" y="9.80" text-anchor="end">1000</text>
<text class="t" x="31.30" y="185.90" text-anchor="middle">-0.5</text>
<text class="t" x="125.25" y="185.90" text-anchor="middle">0</text>
<text class="t" x="220.00" y="185.90" text-anchor="middle">0.5</text>
<path d="M30.50 159.55h1.6M220.00 159.55h-1.6M30.50 142.60h1.6M220.00 142.60h-1.6M30.50 125.65h1.6M220.00 125.65h-1.6M30.50 108.70h1.6M220.00 108.70h-1.6M30.50 91.75h1.6M220.00 91.75h-1.6M30.50 74.80h1.6M220.00 74.80h-1.6M30.50 57.85h1.6M220.00 57.85h-1.6M30.50 40.90h1.6M220.00 40.90h-1.6M30.50 23.95h1.6M220.00 23.95h-1.6M30.50 7.00h1.6M220.00 7.00h-1.6M30.50 176.50v-1.6M30.50 7.00v1.6M125.25 176.50v-1.6M125.25 7.00v1.6M220.00 176.50v-1.6M220.00 7.00v1.6" stroke="#333" stroke-width=".4" fill="none" stroke-opacity=".45"/>
<text class="s" x="125.95" y="195.80" text-anchor="middle">Normalized Doppler Frequency</text>
<text class="s" transform="translate(10.30 91.75) rotate(-90)" text-anchor="middle">Range bins</text>
<rect x="229.00" y="7.00" width="11.20" height="169.50" fill="url(#jet)" stroke="#333" stroke-width=".4" stroke-opacity=".7"/>
<text class="t" x="242.00" y="10.00">40</text>
<text class="t" x="242.00" y="31.19">30</text>
<text class="t" x="242.00" y="52.38">20</text>
<text class="t" x="242.00" y="73.56">10</text>
<text class="t" x="242.00" y="94.75">0</text>
<text class="t" x="242.00" y="115.94">-10</text>
<text class="t" x="242.00" y="137.12">-20</text>
<text class="t" x="242.00" y="158.31">-30</text>
<text class="t" x="242.00" y="179.50">-40</text>
<text class="c" x="137.60" y="217.20" text-anchor="middle">(<tspan font-weight="bold">a</tspan>)</text>
<g clip-path="url(#bc)"><g filter="url(#vb)">
<rect x="321.0" y="4.20" width="195.6" height="31.27" fill="url(#b91)"/>
<rect x="321.0" y="34.17" width="195.6" height="11.29" fill="url(#b92)"/>
<rect x="321.0" y="44.16" width="195.6" height="11.29" fill="url(#b93)"/>
<rect x="321.0" y="54.14" width="195.6" height="11.29" fill="url(#b94)"/>
<rect x="321.0" y="64.13" width="195.6" height="11.29" fill="url(#b95)"/>
<rect x="321.0" y="74.12" width="195.6" height="11.29" fill="url(#b96)"/>
<rect x="321.0" y="84.11" width="195.6" height="11.29" fill="url(#b97)"/>
<rect x="321.0" y="94.10" width="195.6" height="11.29" fill="url(#b98)"/>
<rect x="321.0" y="104.09" width="195.6" height="11.29" fill="url(#b99)"/>
<rect x="321.0" y="114.07" width="195.6" height="2.30" fill="url(#b100)"/>
<rect x="321.0" y="115.07" width="195.6" height="2.30" fill="url(#b101)"/>
<rect x="321.0" y="116.07" width="195.6" height="2.30" fill="url(#b102)"/>
<rect x="321.0" y="117.07" width="195.6" height="2.30" fill="url(#b103)"/>
<rect x="321.0" y="118.07" width="195.6" height="2.30" fill="url(#b104)"/>
<rect x="321.0" y="119.07" width="195.6" height="2.30" fill="url(#b105)"/>
<rect x="321.0" y="120.07" width="195.6" height="3.30" fill="url(#b106)"/>
<rect x="321.0" y="122.06" width="195.6" height="2.30" fill="url(#b107)"/>
<rect x="321.0" y="123.06" width="195.6" height="2.30" fill="url(#b108)"/>
<rect x="321.0" y="124.06" width="195.6" height="2.30" fill="url(#b109)"/>
<rect x="321.0" y="125.06" width="195.6" height="2.30" fill="url(#b110)"/>
<rect x="321.0" y="126.06" width="195.6" height="2.30" fill="url(#b111)"/>
<rect x="321.0" y="127.06" width="195.6" height="2.30" fill="url(#b112)"/>
<rect x="321.0" y="128.06" width="195.6" height="2.30" fill="url(#b113)"/>
<rect x="321.0" y="129.06" width="195.6" height="2.30" fill="url(#b114)"/>
<rect x="321.0" y="130.05" width="195.6" height="2.30" fill="url(#b115)"/>
<rect x="321.0" y="131.05" width="195.6" height="2.30" fill="url(#b116)"/>
<rect x="321.0" y="132.05" width="195.6" height="2.30" fill="url(#b117)"/>
<rect x="321.0" y="133.05" width="195.6" height="2.30" fill="url(#b118)"/>
<rect x="321.0" y="134.05" width="195.6" height="3.30" fill="url(#b119)"/>
<rect x="321.0" y="136.05" width="195.6" height="2.30" fill="url(#b120)"/>
<rect x="321.0" y="137.05" width="195.6" height="3.30" fill="url(#b121)"/>
<rect x="321.0" y="139.04" width="195.6" height="2.30" fill="url(#b122)"/>
<rect x="321.0" y="140.04" width="195.6" height="31.26" fill="url(#b123)"/>
<rect x="321.0" y="170.01" width="195.6" height="8.99" fill="url(#b124)"/>
</g></g>
<g fill="none" stroke="url(#cvb)" filter="url(#cb)"><path d="M418.7 159.3C430 159.2 445 158.6 455 157.2S474 153 483 148.6 491.5 143 495 137.5" stroke-width="1.1"/><path d="M455 157.2C465 155.6 474 153 483 148.6S491.5 143 495 137.5" stroke-width="2.2" stroke-opacity=".3"/></g>
<rect x="324.00" y="7.20" width="146.00" height="168.80" filter="url(#nz)" opacity="0.24" style="mix-blend-mode:overlay"/>
<rect x="470.00" y="7.20" width="43.60" height="168.80" filter="url(#nz)" opacity="0.13" style="mix-blend-mode:overlay"/>
<rect x="463.2" y="139" width="44.5" height="11.5" fill="none" stroke="#fff" stroke-width=".55" stroke-opacity=".7"/>
<path d="M474.5 138.8L426.3 102" stroke="#fff" stroke-width=".5" stroke-opacity=".7" fill="none"/><path d="M425.7 101.5l3.6 1.2-1.7 2.2z" fill="#fff"/>
<rect x="348.40" y="58.30" width="76.80" height="57.30" fill="#fff"/>
<g filter="url(#ib)">
<rect x="354.00" y="59.00" width="70.80" height="52.50" fill="#80ff80"/>
<path fill="#0020ff" d="M356.441 79h2.491v2.55h-2.491z"/>
<path fill="#0040ff" d="M422.359 66.5h2.491v2.55h-2.491z"/>
<path fill="#0060ff" d="M371.09 66.5h2.491v2.55h-2.491zM419.917 81.5h2.491v2.55h-2.491zM422.359 86.5h2.491v2.55h-2.491zM371.09 106.5h2.491v2.55h-2.491z"/>
<path fill="#0080ff" d="M358.883 61.5h2.491v2.55h-2.491zM419.917 66.5h2.491v2.55h-2.491zM422.359 69h2.491v2.55h-2.491zM422.359 89h2.491v2.55h-2.491zM422.359 96.5h2.491v2.55h-2.491zM419.917 99h2.491v2.55h-2.491zM422.359 104h2.491v2.55h-2.491z"/>
<path fill="#009fff" d="M422.359 59h2.491v2.55h-2.491zM422.359 64h2.491v2.55h-2.491zM419.917 74h4.933v2.55h-4.933zM422.359 76.5h2.491v2.55h-2.491zM422.359 84h2.491v2.55h-2.491zM419.917 86.5h2.491v2.55h-2.491zM422.359 91.5h2.491v2.55h-2.491zM356.441 94h2.491v2.55h-2.491zM419.917 94h4.933v2.55h-4.933zM422.359 99h2.491v2.55h-2.491zM422.359 101.5h2.491v2.55h-2.491zM422.359 106.5h2.491v2.55h-2.491zM419.917 109h4.933v2.55h-4.933z"/>
<path fill="#00bfff" d="M419.917 59h2.491v2.55h-2.491zM419.917 61.5h2.491v2.55h-2.491zM419.917 69h2.491v2.55h-2.491zM422.359 71.5h2.491v2.55h-2.491zM361.324 74h2.491v2.55h-2.491zM354 76.5h2.491v2.55h-2.491zM419.917 76.5h2.491v2.55h-2.491zM419.917 79h4.933v2.55h-4.933zM419.917 84h2.491v2.55h-2.491zM366.207 86.5h2.491v2.55h-2.491zM419.917 89h2.491v2.55h-2.491zM419.917 101.5h2.491v2.55h-2.491zM419.917 104h2.491v2.55h-2.491zM419.917 106.5h2.491v2.55h-2.491z"/>
<path fill="#00dfff" d="M366.207 64h2.491v2.55h-2.491zM378.414 64h2.491v2.55h-2.491zM419.917 64h2.491v2.55h-2.491zM356.441 66.5h4.933v2.55h-4.933zM363.766 66.5h2.491v2.55h-2.491zM358.883 69h2.491v2.55h-2.491zM361.324 71.5h4.933v2.55h-4.933zM363.766 79h2.491v2.55h-2.491zM422.359 81.5h2.491v2.55h-2.491zM354 84h2.491v2.55h-2.491zM358.883 84h2.491v2.55h-2.491zM419.917 91.5h2.491v2.55h-2.491zM356.441 96.5h2.491v2.55h-2.491zM419.917 96.5h2.491v2.55h-2.491zM361.324 99h2.491v2.55h-2.491zM354 101.5h2.491v2.55h-2.491zM358.883 101.5h2.491v2.55h-2.491zM354 104h2.491v2.55h-2.491zM354 106.5h2.491v2.55h-2.491z"/>
<path fill="#0ff" d="M354 59h4.933v2.55h-4.933zM361.324 59h4.933v2.55h-4.933zM368.648 59h2.491v2.55h-2.491zM354 61.5h2.491v2.55h-2.491zM361.324 61.5h7.374v2.55h-7.374zM422.359 61.5h2.491v2.55h-2.491zM356.441 64h4.933v2.55h-4.933zM363.766 64h2.491v2.55h-2.491zM354 66.5h2.491v2.55h-2.491zM366.207 66.5h4.933v2.55h-4.933zM354 69h2.491v2.55h-2.491zM361.324 69h2.491v2.55h-2.491zM368.648 69h7.374v2.55h-7.374zM380.855 69h2.491v2.55h-2.491zM356.441 71.5h4.933v2.55h-4.933zM371.09 71.5h2.491v2.55h-2.491zM419.917 71.5h2.491v2.55h-2.491zM354 74h7.374v2.55h-7.374zM366.207 74h2.491v2.55h-2.491zM356.441 76.5h4.933v2.55h-4.933zM363.766 76.5h4.933v2.55h-4.933zM354 79h2.491v2.55h-2.491zM358.883 79h4.933v2.55h-4.933zM368.648 79h2.491v2.55h-2.491zM354 81.5h2.491v2.55h-2.491zM358.883 81.5h4.933v2.55h-4.933zM356.441 84h2.491v2.55h-2.491zM361.324 84h2.491v2.55h-2.491zM354 86.5h9.816v2.55h-9.816zM354 89h2.491v2.55h-2.491zM358.883 89h2.491v2.55h-2.491zM356.441 91.5h4.933v2.55h-4.933zM354 94h2.491v2.55h-2.491zM361.324 94h7.374v2.55h-7.374zM361.324 96.5h4.933v2.55h-4.933zM356.441 99h2.491v2.55h-2.491zM361.324 101.5h2.491v2.55h-2.491zM358.883 104h4.933v2.55h-4.933zM358.883 106.5h2.491v2.55h-2.491zM366.207 109h2.491v2.55h-2.491z"/>
<path fill="#20ffdf" d="M371.09 59h2.491v2.55h-2.491zM375.972 59h4.933v2.55h-4.933zM356.441 61.5h2.491v2.55h-2.491zM368.648 61.5h4.933v2.55h-4.933zM354 64h2.491v2.55h-2.491zM361.324 64h2.491v2.55h-2.491zM368.648 64h4.933v2.55h-4.933zM383.297 64h2.491v2.55h-2.491zM361.324 66.5h2.491v2.55h-2.491zM375.972 66.5h2.491v2.55h-2.491zM363.766 69h4.933v2.55h-4.933zM375.972 69h2.491v2.55h-2.491zM383.297 69h2.491v2.55h-2.491zM354 71.5h2.491v2.55h-2.491zM368.648 71.5h2.491v2.55h-2.491zM363.766 74h2.491v2.55h-2.491zM371.09 74h4.933v2.55h-4.933zM378.414 74h2.491v2.55h-2.491zM361.324 76.5h2.491v2.55h-2.491zM371.09 76.5h4.933v2.55h-4.933zM371.09 79h2.491v2.55h-2.491zM356.441 81.5h2.491v2.55h-2.491zM363.766 81.5h2.491v2.55h-2.491zM366.207 84h2.491v2.55h-2.491zM363.766 86.5h2.491v2.55h-2.491zM361.324 91.5h2.491v2.55h-2.491zM358.883 94h2.491v2.55h-2.491zM368.648 94h2.491v2.55h-2.491zM366.207 96.5h4.933v2.55h-4.933zM354 99h2.491v2.55h-2.491zM358.883 99h2.491v2.55h-2.491zM363.766 99h4.933v2.55h-4.933zM363.766 101.5h2.491v2.55h-2.491zM356.441 104h2.491v2.55h-2.491zM363.766 104h4.933v2.55h-4.933zM356.441 106.5h2.491v2.55h-2.491zM361.324 106.5h7.374v2.55h-7.374zM356.441 109h4.933v2.55h-4.933z"/>
<path fill="#40ffbf" d="M358.883 59h2.491v2.55h-2.491zM366.207 59h2.491v2.55h-2.491zM373.531 59h2.491v2.55h-2.491zM380.855 59h4.933v2.55h-4.933zM388.179 59h2.491v2.55h-2.491zM375.972 61.5h2.491v2.55h-2.491zM380.855 61.5h4.933v2.55h-4.933zM375.972 64h2.491v2.55h-2.491zM373.531 66.5h2.491v2.55h-2.491zM378.414 66.5h2.491v2.55h-2.491zM390.621 66.5h2.491v2.55h-2.491zM356.441 69h2.491v2.55h-2.491zM378.414 69h2.491v2.55h-2.491zM366.207 71.5h2.491v2.55h-2.491zM373.531 71.5h4.933v2.55h-4.933zM383.297 71.5h4.933v2.55h-4.933zM417.476 71.5h2.491v2.55h-2.491zM368.648 74h2.491v2.55h-2.491zM375.972 74h2.491v2.55h-2.491zM380.855 74h2.491v2.55h-2.491zM388.179 74h2.491v2.55h-2.491zM375.972 76.5h2.491v2.55h-2.491zM366.207 79h2.491v2.55h-2.491zM373.531 79h2.491v2.55h-2.491zM417.476 79h2.491v2.55h-2.491zM366.207 81.5h2.491v2.55h-2.491zM371.09 81.5h2.491v2.55h-2.491zM363.766 84h2.491v2.55h-2.491zM368.648 86.5h2.491v2.55h-2.491zM356.441 89h2.491v2.55h-2.491zM361.324 89h2.491v2.55h-2.491zM366.207 89h4.933v2.55h-4.933zM354 91.5h2.491v2.55h-2.491zM363.766 91.5h4.933v2.55h-4.933zM417.476 91.5h2.491v2.55h-2.491zM358.883 96.5h2.491v2.55h-2.491zM417.476 96.5h2.491v2.55h-2.491zM371.09 99h2.491v2.55h-2.491zM356.441 101.5h2.491v2.55h-2.491zM366.207 101.5h2.491v2.55h-2.491zM417.476 101.5h2.491v2.55h-2.491zM368.648 104h2.491v2.55h-2.491zM368.648 106.5h2.491v2.55h-2.491zM354 109h2.491v2.55h-2.491zM361.324 109h4.933v2.55h-4.933zM373.531 109h2.491v2.55h-2.491zM417.476 109h2.491v2.55h-2.491z"/>
<path fill="#60ff9f" d="M385.738 59h2.491v2.55h-2.491zM417.476 59h2.491v2.55h-2.491zM373.531 61.5h2.491v2.55h-2.491zM385.738 61.5h2.491v2.55h-2.491zM373.531 64h2.491v2.55h-2.491zM380.855 64h2.491v2.55h-2.491zM380.855 66.5h4.933v2.55h-4.933zM388.179 66.5h2.491v2.55h-2.491zM417.476 66.5h2.491v2.55h-2.491zM385.738 69h7.374v2.55h-7.374zM378.414 71.5h2.491v2.55h-2.491zM388.179 71.5h4.933v2.55h-4.933zM383.297 74h4.933v2.55h-4.933zM417.476 74h2.491v2.55h-2.491zM368.648 76.5h2.491v2.55h-2.491zM378.414 76.5h9.816v2.55h-9.816zM417.476 76.5h2.491v2.55h-2.491zM375.972 79h2.491v2.55h-2.491zM380.855 79h2.491v2.55h-2.491zM368.648 81.5h2.491v2.55h-2.491zM373.531 81.5h2.491v2.55h-2.491zM380.855 81.5h2.491v2.55h-2.491zM417.476 81.5h2.491v2.55h-2.491zM368.648 84h4.933v2.55h-4.933zM417.476 86.5h2.491v2.55h-2.491zM363.766 89h2.491v2.55h-2.491zM368.648 91.5h2.491v2.55h-2.491zM371.09 94h2.491v2.55h-2.491zM417.476 94h2.491v2.55h-2.491zM354 96.5h2.491v2.55h-2.491zM371.09 96.5h2.491v2.55h-2.491zM368.648 99h2.491v2.55h-2.491zM417.476 99h2.491v2.55h-2.491zM368.648 101.5h2.491v2.55h-2.491zM368.648 109h4.933v2.55h-4.933z"/>
<path fill="#9fff60" d="M390.621 59h2.491v2.55h-2.491zM402.828 59h2.491v2.55h-2.491zM400.386 61.5h2.491v2.55h-2.491zM388.179 64h2.491v2.55h-2.491zM395.503 64h2.491v2.55h-2.491zM393.062 66.5h2.491v2.55h-2.491zM400.386 66.5h2.491v2.55h-2.491zM393.062 71.5h4.933v2.55h-4.933zM400.386 71.5h2.491v2.55h-2.491zM393.062 74h2.491v2.55h-2.491zM402.828 74h2.491v2.55h-2.491zM390.621 76.5h4.933v2.55h-4.933zM397.945 76.5h2.491v2.55h-2.491zM378.414 81.5h2.491v2.55h-2.491zM383.297 81.5h2.491v2.55h-2.491zM378.414 84h2.491v2.55h-2.491zM417.476 84h2.491v2.55h-2.491zM373.531 86.5h2.491v2.55h-2.491zM378.414 86.5h2.491v2.55h-2.491zM375.972 89h2.491v2.55h-2.491zM371.09 91.5h2.491v2.55h-2.491zM375.972 91.5h2.491v2.55h-2.491zM380.855 91.5h2.491v2.55h-2.491zM373.531 94h2.491v2.55h-2.491zM402.828 96.5h2.491v2.55h-2.491zM373.531 101.5h2.491v2.55h-2.491zM383.297 101.5h2.491v2.55h-2.491zM402.828 101.5h2.491v2.55h-2.491zM375.972 104h2.491v2.55h-2.491zM373.531 106.5h4.933v2.55h-4.933zM375.972 109h2.491v2.55h-2.491zM383.297 109h2.491v2.55h-2.491z"/>
<path fill="#bfff40" d="M400.386 59h2.491v2.55h-2.491zM390.621 61.5h2.491v2.55h-2.491zM397.945 61.5h2.491v2.55h-2.491zM402.828 61.5h2.491v2.55h-2.491zM390.621 64h4.933v2.55h-4.933zM397.945 64h7.374v2.55h-7.374zM395.503 66.5h4.933v2.55h-4.933zM405.269 66.5h2.491v2.55h-2.491zM397.945 69h2.491v2.55h-2.491zM397.945 71.5h2.491v2.55h-2.491zM395.503 74h7.374v2.55h-7.374zM388.179 76.5h2.491v2.55h-2.491zM395.503 76.5h2.491v2.55h-2.491zM400.386 76.5h2.491v2.55h-2.491zM397.945 79h2.491v2.55h-2.491zM388.179 81.5h2.491v2.55h-2.491zM397.945 81.5h4.933v2.55h-4.933zM397.945 84h2.491v2.55h-2.491zM400.386 86.5h4.933v2.55h-4.933zM378.414 89h4.933v2.55h-4.933zM400.386 89h4.933v2.55h-4.933zM378.414 91.5h2.491v2.55h-2.491zM402.828 91.5h2.491v2.55h-2.491zM400.386 94h2.491v2.55h-2.491zM373.531 96.5h4.933v2.55h-4.933zM380.855 96.5h2.491v2.55h-2.491zM373.531 99h2.491v2.55h-2.491zM383.297 99h2.491v2.55h-2.491zM375.972 101.5h7.374v2.55h-7.374zM402.828 104h4.933v2.55h-4.933zM378.414 106.5h4.933v2.55h-4.933zM402.828 106.5h2.491v2.55h-2.491zM380.855 109h2.491v2.55h-2.491zM402.828 109h2.491v2.55h-2.491z"/>
<path fill="#dfff20" d="M405.269 59h2.491v2.55h-2.491zM395.503 61.5h2.491v2.55h-2.491zM405.269 64h2.491v2.55h-2.491zM400.386 69h2.491v2.55h-2.491zM402.828 71.5h4.933v2.55h-4.933zM405.269 76.5h2.491v2.55h-2.491zM390.621 79h4.933v2.55h-4.933zM400.386 79h4.933v2.55h-4.933zM385.738 81.5h2.491v2.55h-2.491zM383.297 84h4.933v2.55h-4.933zM402.828 84h2.491v2.55h-2.491zM380.855 86.5h7.374v2.55h-7.374zM397.945 86.5h2.491v2.55h-2.491zM383.297 89h4.933v2.55h-4.933zM397.945 89h2.491v2.55h-2.491zM383.297 91.5h2.491v2.55h-2.491zM378.414 94h9.816v2.55h-9.816zM397.945 94h2.491v2.55h-2.491zM402.828 94h2.491v2.55h-2.491zM378.414 96.5h2.491v2.55h-2.491zM383.297 96.5h2.491v2.55h-2.491zM397.945 96.5h4.933v2.55h-4.933zM378.414 99h4.933v2.55h-4.933zM402.828 99h2.491v2.55h-2.491zM378.414 104h4.933v2.55h-4.933zM397.945 104h4.933v2.55h-4.933zM383.297 106.5h2.491v2.55h-2.491zM400.386 106.5h2.491v2.55h-2.491zM385.738 109h2.491v2.55h-2.491zM397.945 109h2.491v2.55h-2.491z"/>
<path fill="#ff0" d="M395.503 59h2.491v2.55h-2.491zM407.71 59h2.491v2.55h-2.491zM402.828 69h4.933v2.55h-4.933zM402.828 76.5h2.491v2.55h-2.491zM395.503 79h2.491v2.55h-2.491zM405.269 81.5h2.491v2.55h-2.491zM380.855 84h2.491v2.55h-2.491zM388.179 84h2.491v2.55h-2.491zM405.269 84h2.491v2.55h-2.491zM407.71 86.5h2.491v2.55h-2.491zM405.269 89h2.491v2.55h-2.491zM388.179 91.5h2.491v2.55h-2.491zM397.945 91.5h2.491v2.55h-2.491zM385.738 96.5h2.491v2.55h-2.491zM405.269 96.5h2.491v2.55h-2.491zM388.179 99h2.491v2.55h-2.491zM397.945 99h4.933v2.55h-4.933zM405.269 99h2.491v2.55h-2.491zM385.738 101.5h2.491v2.55h-2.491zM400.386 101.5h2.491v2.55h-2.491zM383.297 104h2.491v2.55h-2.491zM385.738 106.5h2.491v2.55h-2.491zM397.945 106.5h2.491v2.55h-2.491zM400.386 109h2.491v2.55h-2.491zM405.269 109h2.491v2.55h-2.491z"/>
<path fill="#ffdf00" d="M393.062 59h2.491v2.55h-2.491zM393.062 61.5h2.491v2.55h-2.491zM405.269 61.5h4.933v2.55h-4.933zM402.828 66.5h2.491v2.55h-2.491zM405.269 74h4.933v2.55h-4.933zM407.71 76.5h2.491v2.55h-2.491zM405.269 79h2.491v2.55h-2.491zM390.621 81.5h4.933v2.55h-4.933zM395.503 84h2.491v2.55h-2.491zM400.386 84h2.491v2.55h-2.491zM405.269 86.5h2.491v2.55h-2.491zM388.179 89h2.491v2.55h-2.491zM407.71 89h2.491v2.55h-2.491zM385.738 91.5h2.491v2.55h-2.491zM400.386 91.5h2.491v2.55h-2.491zM405.269 91.5h2.491v2.55h-2.491zM405.269 94h2.491v2.55h-2.491zM407.71 96.5h2.491v2.55h-2.491zM407.71 99h2.491v2.55h-2.491zM397.945 101.5h2.491v2.55h-2.491zM405.269 101.5h4.933v2.55h-4.933zM385.738 104h4.933v2.55h-4.933zM388.179 106.5h2.491v2.55h-2.491zM405.269 106.5h2.491v2.55h-2.491zM388.179 109h2.491v2.55h-2.491z"/>
<path fill="#ffbf00" d="M410.152 61.5h2.491v2.55h-2.491zM407.71 66.5h2.491v2.55h-2.491zM407.71 69h2.491v2.55h-2.491zM407.71 71.5h2.491v2.55h-2.491zM407.71 79h2.491v2.55h-2.491zM395.503 81.5h2.491v2.55h-2.491zM407.71 81.5h4.933v2.55h-4.933zM407.71 84h2.491v2.55h-2.491zM410.152 89h2.491v2.55h-2.491zM415.034 89h2.491v2.55h-2.491zM390.621 94h2.491v2.55h-2.491zM388.179 96.5h2.491v2.55h-2.491zM410.152 96.5h2.491v2.55h-2.491zM385.738 99h2.491v2.55h-2.491zM415.034 99h2.491v2.55h-2.491zM407.71 104h2.491v2.55h-2.491zM407.71 106.5h2.491v2.55h-2.491zM410.152 109h2.491v2.55h-2.491zM415.034 109h2.491v2.55h-2.491z"/>
<path fill="#ff9f00" d="M410.152 59h2.491v2.55h-2.491zM415.034 61.5h2.491v2.55h-2.491zM407.71 64h2.491v2.55h-2.491zM410.152 66.5h2.491v2.55h-2.491zM410.152 71.5h2.491v2.55h-2.491zM410.152 74h2.491v2.55h-2.491zM410.152 76.5h2.491v2.55h-2.491zM415.034 81.5h2.491v2.55h-2.491zM390.621 84h2.491v2.55h-2.491zM415.034 84h2.491v2.55h-2.491zM388.179 86.5h4.933v2.55h-4.933zM395.503 86.5h2.491v2.55h-2.491zM415.034 86.5h2.491v2.55h-2.491zM395.503 91.5h2.491v2.55h-2.491zM407.71 91.5h4.933v2.55h-4.933zM388.179 94h2.491v2.55h-2.491zM407.71 94h2.491v2.55h-2.491zM415.034 94h2.491v2.55h-2.491zM393.062 96.5h2.491v2.55h-2.491zM390.621 99h2.491v2.55h-2.491zM410.152 99h2.491v2.55h-2.491zM388.179 101.5h7.374v2.55h-7.374zM390.621 104h2.491v2.55h-2.491zM390.621 106.5h2.491v2.55h-2.491zM395.503 106.5h2.491v2.55h-2.491zM393.062 109h4.933v2.55h-4.933zM407.71 109h2.491v2.55h-2.491z"/>
<path fill="#ff8000" d="M415.034 59h2.491v2.55h-2.491zM410.152 64h2.491v2.55h-2.491zM415.034 64h2.491v2.55h-2.491zM415.034 66.5h2.491v2.55h-2.491zM415.034 71.5h2.491v2.55h-2.491zM415.034 74h2.491v2.55h-2.491zM415.034 76.5h2.491v2.55h-2.491zM410.152 79h2.491v2.55h-2.491zM393.062 84h2.491v2.55h-2.491zM393.062 86.5h2.491v2.55h-2.491zM410.152 86.5h2.491v2.55h-2.491zM390.621 89h4.933v2.55h-4.933zM393.062 91.5h2.491v2.55h-2.491zM415.034 91.5h2.491v2.55h-2.491zM393.062 94h2.491v2.55h-2.491zM410.152 94h2.491v2.55h-2.491zM415.034 96.5h2.491v2.55h-2.491zM393.062 99h4.933v2.55h-4.933zM395.503 101.5h2.491v2.55h-2.491zM410.152 101.5h7.374v2.55h-7.374zM410.152 104h2.491v2.55h-2.491zM410.152 106.5h7.374v2.55h-7.374zM390.621 109h2.491v2.55h-2.491zM412.593 109h2.491v2.55h-2.491z"/>
<path fill="#ff6000" d="M412.593 61.5h2.491v2.55h-2.491zM412.593 66.5h2.491v2.55h-2.491zM410.152 69h2.491v2.55h-2.491zM415.034 69h2.491v2.55h-2.491zM412.593 71.5h2.491v2.55h-2.491zM415.034 79h2.491v2.55h-2.491zM410.152 84h2.491v2.55h-2.491zM412.593 86.5h2.491v2.55h-2.491zM390.621 91.5h2.491v2.55h-2.491zM395.503 94h2.491v2.55h-2.491zM412.593 94h2.491v2.55h-2.491zM390.621 96.5h2.491v2.55h-2.491zM395.503 96.5h2.491v2.55h-2.491zM393.062 104h4.933v2.55h-4.933zM415.034 104h2.491v2.55h-2.491z"/>
<path fill="#ff4000" d="M412.593 64h2.491v2.55h-2.491zM412.593 76.5h2.491v2.55h-2.491zM412.593 79h2.491v2.55h-2.491zM395.503 89h2.491v2.55h-2.491zM412.593 96.5h2.491v2.55h-2.491zM412.593 104h2.491v2.55h-2.491zM393.062 106.5h2.491v2.55h-2.491z"/>
<path fill="#ff2000" d="M412.593 59h2.491v2.55h-2.491zM412.593 69h2.491v2.55h-2.491zM412.593 74h2.491v2.55h-2.491zM412.593 81.5h2.491v2.55h-2.491zM412.593 84h2.491v2.55h-2.491zM412.593 91.5h2.491v2.55h-2.491zM412.593 99h2.491v2.55h-2.491z"/>
<path fill="#f00" d="M412.593 89h2.491v2.55h-2.491z"/>
</g>
<rect x="354.00" y="59.00" width="70.80" height="52.50" fill="none" stroke="#555" stroke-width=".3" stroke-opacity=".6"/>
<text x="353.50" y="62.23" text-anchor="end" style="font-size:1.7px;fill:#666">200</text>
<text x="353.50" y="67.47" text-anchor="end" style="font-size:1.7px;fill:#666">195</text>
<text x="353.50" y="72.72" text-anchor="end" style="font-size:1.7px;fill:#666">190</text>
<text x="353.50" y="77.97" text-anchor="end" style="font-size:1.7px;fill:#666">185</text>
<text x="353.50" y="83.22" text-anchor="end" style="font-size:1.7px;fill:#666">180</text>
<text x="353.50" y="88.47" text-anchor="end" style="font-size:1.7px;fill:#666">175</text>
<text x="353.50" y="93.72" text-anchor="end" style="font-size:1.7px;fill:#666">170</text>
<text x="353.50" y="98.97" text-anchor="end" style="font-size:1.7px;fill:#666">165</text>
<text x="353.50" y="104.22" text-anchor="end" style="font-size:1.7px;fill:#666">160</text>
<text x="353.50" y="109.47" text-anchor="end" style="font-size:1.7px;fill:#666">155</text>
<text x="362.50" y="113.70" text-anchor="middle" style="font-size:1.7px;fill:#666">0.3</text>
<text x="380.20" y="113.70" text-anchor="middle" style="font-size:1.7px;fill:#666">0.35</text>
<text x="397.90" y="113.70" text-anchor="middle" style="font-size:1.7px;fill:#666">0.4</text>
<text x="415.60" y="113.70" text-anchor="middle" style="font-size:1.7px;fill:#666">0.45</text>
<rect x="324.00" y="7.20" width="189.60" height="168.80" fill="none" stroke="#333" stroke-width=".5" stroke-opacity=".45"/>
<path d="M324.00 7.20v168.80h189.60" fill="none" stroke="#222" stroke-width=".5" stroke-opacity=".5"/>
<text class="t" x="322.40" y="161.92" text-anchor="end">100</text>
<text class="t" x="322.40" y="145.04" text-anchor="end">200</text>
<text class="t" x="322.40" y="128.16" text-anchor="end">300</text>
<text class="t" x="322.40" y="111.28" text-anchor="end">400</text>
<text class="t" x="322.40" y="94.40" text-anchor="end">500</text>
<text class="t" x="322.40" y="77.52" text-anchor="end">600</text>
<text class="t" x="322.40" y="60.64" text-anchor="end">700</text>
<text class="t" x="322.40" y="43.76" text-anchor="end">800</text>
<text class="t" x="322.40" y="26.88" text-anchor="end">900</text>
<text class="t" x="322.40" y="10.00" text-anchor="end">1000</text>
<text class="t" x="324.80" y="185.90" text-anchor="middle">-0.5</text>
<text class="t" x="418.80" y="185.90" text-anchor="middle">0</text>
<text class="t" x="513.60" y="185.90" text-anchor="middle">0.5</text>
<path d="M324.00 159.12h1.6M513.60 159.12h-1.6M324.00 142.24h1.6M513.60 142.24h-1.6M324.00 125.36h1.6M513.60 125.36h-1.6M324.00 108.48h1.6M513.60 108.48h-1.6M324.00 91.60h1.6M513.60 91.60h-1.6M324.00 74.72h1.6M513.60 74.72h-1.6M324.00 57.84h1.6M513.60 57.84h-1.6M324.00 40.96h1.6M513.60 40.96h-1.6M324.00 24.08h1.6M513.60 24.08h-1.6M324.00 7.20h1.6M513.60 7.20h-1.6M324.00 176.00v-1.6M324.00 7.20v1.6M418.80 176.00v-1.6M418.80 7.20v1.6M513.60 176.00v-1.6M513.60 7.20v1.6" stroke="#333" stroke-width=".4" fill="none" stroke-opacity=".45"/>
<text class="s" x="419.50" y="195.80" text-anchor="middle">Normalized Doppler Frequency</text>
<text class="s" transform="translate(304.00 91.60) rotate(-90)" text-anchor="middle">Range bins</text>
<rect x="522.60" y="7.20" width="10.80" height="168.80" fill="url(#jet)" stroke="#333" stroke-width=".4" stroke-opacity=".7"/>
<text class="t" x="535.20" y="10.20">40</text>
<text class="t" x="535.20" y="31.30">30</text>
<text class="t" x="535.20" y="52.40">20</text>
<text class="t" x="535.20" y="73.50">10</text>
<text class="t" x="535.20" y="94.60">0</text>
<text class="t" x="535.20" y="115.70">-10</text>
<text class="t" x="535.20" y="136.80">-20</text>
<text class="t" x="535.20" y="157.90">-30</text>
<text class="t" x="535.20" y="179.00">-40</text>
<text class="c" x="431.50" y="217.20" text-anchor="middle">(<tspan font-weight="bold">b</tspan>)</text>
<g clip-path="url(#cc)"><g filter="url(#vb)">
<rect x="174.4" y="234.00" width="195.4" height="175.00" fill="url(#c125)"/>
</g></g>
<rect x="177.40" y="237.00" width="189.40" height="169.00" filter="url(#nz)" opacity="0.24" style="mix-blend-mode:overlay"/>
<rect x="316.4" y="366.4" width="45" height="11.2" fill="none" stroke="#fff" stroke-width=".55" stroke-opacity=".7"/>
<path d="M333 372h9" stroke="#9f6" stroke-width=".9" stroke-opacity=".8"/>
<path d="M329 366.2L279.3 328.6" stroke="#fff" stroke-width=".5" stroke-opacity=".7" fill="none"/><path d="M278.6 328l3.6 1.2-1.7 2.2z" fill="#fff"/>
<rect x="207.30" y="288.30" width="70.60" height="56.30" fill="#fff"/>
<g filter="url(#ib)">
<rect x="212.70" y="289.00" width="64.70" height="52.00" fill="#00bfff"/>
<path fill="#0040ff" d="M259.981 289h2.538v2.526h-2.538zM215.188 291.476h2.538v2.526h-2.538zM217.677 296.429h2.538v2.526h-2.538zM225.142 296.429h2.538v2.526h-2.538zM257.492 296.429h2.538v2.526h-2.538zM212.7 298.905h2.538v2.526h-2.538zM227.631 298.905h2.538v2.526h-2.538zM247.538 298.905h2.538v2.526h-2.538zM255.004 301.381h2.538v2.526h-2.538zM257.492 303.857h2.538v2.526h-2.538zM272.423 303.857h5.027v2.526h-5.027zM245.05 306.333h2.538v2.526h-2.538zM242.562 316.238h2.538v2.526h-2.538zM272.423 316.238h2.538v2.526h-2.538zM220.165 321.19h2.538v2.526h-2.538zM250.027 321.19h2.538v2.526h-2.538zM232.608 323.667h2.538v2.526h-2.538zM240.073 323.667h2.538v2.526h-2.538zM247.538 323.667h2.538v2.526h-2.538zM255.004 323.667h2.538v2.526h-2.538zM272.423 326.143h2.538v2.526h-2.538zM215.188 328.619h2.538v2.526h-2.538zM227.631 331.095h2.538v2.526h-2.538zM237.585 331.095h2.538v2.526h-2.538zM227.631 333.571h5.027v2.526h-5.027zM240.073 336.048h2.538v2.526h-2.538zM255.004 338.524h2.538v2.526h-2.538z"/>
<path fill="#0060ff" d="M220.165 289h2.538v2.526h-2.538zM257.492 308.81h2.538v2.526h-2.538zM237.585 316.238h2.538v2.526h-2.538zM257.492 318.714h2.538v2.526h-2.538zM262.469 336.048h2.538v2.526h-2.538z"/>
<path fill="#0080ff" d="M242.562 291.476h2.538v2.526h-2.538zM232.608 293.952h2.538v2.526h-2.538zM215.188 296.429h2.538v2.526h-2.538zM220.165 296.429h2.538v2.526h-2.538zM272.423 296.429h2.538v2.526h-2.538zM230.119 298.905h5.027v2.526h-5.027zM252.515 298.905h2.538v2.526h-2.538zM237.585 301.381h2.538v2.526h-2.538zM220.165 306.333h2.538v2.526h-2.538zM237.585 306.333h5.027v2.526h-5.027zM262.469 306.333h2.538v2.526h-2.538zM227.631 308.81h2.538v2.526h-2.538zM240.073 308.81h2.538v2.526h-2.538zM245.05 308.81h2.538v2.526h-2.538zM259.981 313.762h2.538v2.526h-2.538zM257.492 316.238h2.538v2.526h-2.538zM215.188 318.714h2.538v2.526h-2.538zM235.096 318.714h2.538v2.526h-2.538zM230.119 321.19h2.538v2.526h-2.538zM274.912 326.143h2.538v2.526h-2.538zM242.562 328.619h2.538v2.526h-2.538zM252.515 328.619h5.027v2.526h-5.027zM242.562 331.095h2.538v2.526h-2.538zM255.004 331.095h2.538v2.526h-2.538zM259.981 331.095h2.538v2.526h-2.538zM247.538 336.048h2.538v2.526h-2.538zM257.492 336.048h2.538v2.526h-2.538zM230.119 338.524h2.538v2.526h-2.538z"/>
<path fill="#009fff" d="M235.096 289h5.027v2.526h-5.027zM247.538 289h5.027v2.526h-5.027zM250.027 291.476h2.538v2.526h-2.538zM259.981 291.476h2.538v2.526h-2.538zM225.142 293.952h2.538v2.526h-2.538zM237.585 293.952h2.538v2.526h-2.538zM245.05 293.952h2.538v2.526h-2.538zM252.515 293.952h2.538v2.526h-2.538zM212.7 296.429h2.538v2.526h-2.538zM227.631 296.429h2.538v2.526h-2.538zM237.585 296.429h2.538v2.526h-2.538zM250.027 296.429h2.538v2.526h-2.538zM259.981 296.429h2.538v2.526h-2.538zM262.469 298.905h2.538v2.526h-2.538zM220.165 301.381h2.538v2.526h-2.538zM247.538 301.381h5.027v2.526h-5.027zM272.423 301.381h2.538v2.526h-2.538zM217.677 303.857h5.027v2.526h-5.027zM222.654 306.333h2.538v2.526h-2.538zM230.119 306.333h5.027v2.526h-5.027zM272.423 306.333h5.027v2.526h-5.027zM212.7 308.81h5.027v2.526h-5.027zM212.7 311.286h2.538v2.526h-2.538zM237.585 311.286h7.515v2.526h-7.515zM247.538 311.286h2.538v2.526h-2.538zM252.515 313.762h2.538v2.526h-2.538zM227.631 316.238h2.538v2.526h-2.538zM235.096 316.238h2.538v2.526h-2.538zM245.05 316.238h2.538v2.526h-2.538zM262.469 316.238h2.538v2.526h-2.538zM217.677 318.714h7.515v2.526h-7.515zM240.073 318.714h2.538v2.526h-2.538zM259.981 318.714h5.027v2.526h-5.027zM217.677 321.19h2.538v2.526h-2.538zM222.654 321.19h2.538v2.526h-2.538zM232.608 321.19h2.538v2.526h-2.538zM240.073 321.19h2.538v2.526h-2.538zM252.515 321.19h2.538v2.526h-2.538zM259.981 321.19h2.538v2.526h-2.538zM272.423 321.19h2.538v2.526h-2.538zM222.654 323.667h2.538v2.526h-2.538zM230.119 323.667h2.538v2.526h-2.538zM245.05 323.667h2.538v2.526h-2.538zM257.492 323.667h5.027v2.526h-5.027zM274.912 323.667h2.538v2.526h-2.538zM250.027 326.143h2.538v2.526h-2.538zM262.469 326.143h2.538v2.526h-2.538zM225.142 328.619h5.027v2.526h-5.027zM245.05 328.619h7.515v2.526h-7.515zM257.492 328.619h2.538v2.526h-2.538zM272.423 328.619h2.538v2.526h-2.538zM215.188 331.095h2.538v2.526h-2.538zM225.142 333.571h2.538v2.526h-2.538zM237.585 333.571h2.538v2.526h-2.538zM220.165 336.048h2.538v2.526h-2.538zM235.096 336.048h2.538v2.526h-2.538zM274.912 336.048h2.538v2.526h-2.538zM262.469 338.524h2.538v2.526h-2.538z"/>
<path fill="#00dfff" d="M230.119 289h5.027v2.526h-5.027zM242.562 289h5.027v2.526h-5.027zM252.515 289h2.538v2.526h-2.538zM264.958 289h2.538v2.526h-2.538zM272.423 289h2.538v2.526h-2.538zM212.7 291.476h2.538v2.526h-2.538zM232.608 291.476h2.538v2.526h-2.538zM237.585 291.476h2.538v2.526h-2.538zM255.004 291.476h2.538v2.526h-2.538zM262.469 291.476h5.027v2.526h-5.027zM269.935 291.476h7.515v2.526h-7.515zM215.188 293.952h7.515v2.526h-7.515zM230.119 293.952h2.538v2.526h-2.538zM257.492 293.952h10.004v2.526h-10.004zM272.423 293.952h2.538v2.526h-2.538zM235.096 296.429h2.538v2.526h-2.538zM255.004 296.429h2.538v2.526h-2.538zM264.958 296.429h2.538v2.526h-2.538zM269.935 296.429h2.538v2.526h-2.538zM240.073 298.905h5.027v2.526h-5.027zM250.027 298.905h2.538v2.526h-2.538zM255.004 298.905h5.027v2.526h-5.027zM264.958 298.905h2.538v2.526h-2.538zM269.935 298.905h2.538v2.526h-2.538zM274.912 298.905h2.538v2.526h-2.538zM215.188 301.381h5.027v2.526h-5.027zM227.631 301.381h2.538v2.526h-2.538zM242.562 301.381h5.027v2.526h-5.027zM252.515 301.381h2.538v2.526h-2.538zM259.981 301.381h2.538v2.526h-2.538zM264.958 301.381h2.538v2.526h-2.538zM269.935 301.381h2.538v2.526h-2.538zM274.912 301.381h2.538v2.526h-2.538zM212.7 303.857h5.027v2.526h-5.027zM227.631 303.857h2.538v2.526h-2.538zM232.608 303.857h2.538v2.526h-2.538zM259.981 303.857h7.515v2.526h-7.515zM269.935 303.857h2.538v2.526h-2.538zM215.188 306.333h2.538v2.526h-2.538zM255.004 306.333h2.538v2.526h-2.538zM264.958 306.333h2.538v2.526h-2.538zM269.935 306.333h2.538v2.526h-2.538zM217.677 308.81h2.538v2.526h-2.538zM235.096 308.81h2.538v2.526h-2.538zM242.562 308.81h2.538v2.526h-2.538zM250.027 308.81h5.027v2.526h-5.027zM259.981 308.81h7.515v2.526h-7.515zM269.935 308.81h7.515v2.526h-7.515zM225.142 311.286h2.538v2.526h-2.538zM245.05 311.286h2.538v2.526h-2.538zM250.027 311.286h5.027v2.526h-5.027zM264.958 311.286h2.538v2.526h-2.538zM269.935 311.286h2.538v2.526h-2.538zM212.7 313.762h2.538v2.526h-2.538zM250.027 313.762h2.538v2.526h-2.538zM262.469 313.762h5.027v2.526h-5.027zM269.935 313.762h2.538v2.526h-2.538zM274.912 313.762h2.538v2.526h-2.538zM212.7 316.238h2.538v2.526h-2.538zM230.119 316.238h5.027v2.526h-5.027zM247.538 316.238h2.538v2.526h-2.538zM252.515 316.238h2.538v2.526h-2.538zM264.958 316.238h2.538v2.526h-2.538zM225.142 318.714h2.538v2.526h-2.538zM237.585 318.714h2.538v2.526h-2.538zM242.562 318.714h5.027v2.526h-5.027zM250.027 318.714h5.027v2.526h-5.027zM264.958 318.714h2.538v2.526h-2.538zM225.142 321.19h2.538v2.526h-2.538zM235.096 321.19h2.538v2.526h-2.538zM264.958 321.19h2.538v2.526h-2.538zM269.935 321.19h2.538v2.526h-2.538zM235.096 323.667h5.027v2.526h-5.027zM250.027 323.667h2.538v2.526h-2.538zM264.958 323.667h2.538v2.526h-2.538zM269.935 323.667h2.538v2.526h-2.538zM215.188 326.143h2.538v2.526h-2.538zM220.165 326.143h2.538v2.526h-2.538zM225.142 326.143h2.538v2.526h-2.538zM232.608 326.143h5.027v2.526h-5.027zM240.073 326.143h2.538v2.526h-2.538zM247.538 326.143h2.538v2.526h-2.538zM252.515 326.143h2.538v2.526h-2.538zM257.492 326.143h2.538v2.526h-2.538zM264.958 326.143h2.538v2.526h-2.538zM269.935 326.143h2.538v2.526h-2.538zM230.119 328.619h2.538v2.526h-2.538zM235.096 328.619h2.538v2.526h-2.538zM240.073 328.619h2.538v2.526h-2.538zM262.469 328.619h5.027v2.526h-5.027zM269.935 328.619h2.538v2.526h-2.538zM274.912 328.619h2.538v2.526h-2.538zM217.677 331.095h2.538v2.526h-2.538zM230.119 331.095h2.538v2.526h-2.538zM240.073 331.095h2.538v2.526h-2.538zM245.05 331.095h2.538v2.526h-2.538zM262.469 331.095h5.027v2.526h-5.027zM269.935 331.095h2.538v2.526h-2.538zM215.188 333.571h7.515v2.526h-7.515zM232.608 333.571h2.538v2.526h-2.538zM255.004 333.571h5.027v2.526h-5.027zM264.958 333.571h2.538v2.526h-2.538zM269.935 333.571h2.538v2.526h-2.538zM274.912 333.571h2.538v2.526h-2.538zM215.188 336.048h5.027v2.526h-5.027zM252.515 336.048h2.538v2.526h-2.538zM259.981 336.048h2.538v2.526h-2.538zM217.677 338.524h2.538v2.526h-2.538zM222.654 338.524h5.027v2.526h-5.027zM235.096 338.524h5.027v2.526h-5.027zM247.538 338.524h2.538v2.526h-2.538zM269.935 338.524h2.538v2.526h-2.538z"/>
<path fill="#0ff" d="M255.004 289h2.538v2.526h-2.538zM262.469 289h2.538v2.526h-2.538zM269.935 289h2.538v2.526h-2.538zM240.073 291.476h2.538v2.526h-2.538zM245.05 291.476h2.538v2.526h-2.538zM257.492 291.476h2.538v2.526h-2.538zM212.7 293.952h2.538v2.526h-2.538zM222.654 293.952h2.538v2.526h-2.538zM235.096 293.952h2.538v2.526h-2.538zM250.027 293.952h2.538v2.526h-2.538zM269.935 293.952h2.538v2.526h-2.538zM222.654 296.429h2.538v2.526h-2.538zM247.538 296.429h2.538v2.526h-2.538zM262.469 296.429h2.538v2.526h-2.538zM235.096 298.905h2.538v2.526h-2.538zM225.142 301.381h2.538v2.526h-2.538zM240.073 301.381h2.538v2.526h-2.538zM262.469 301.381h2.538v2.526h-2.538zM237.585 303.857h5.027v2.526h-5.027zM245.05 303.857h2.538v2.526h-2.538zM250.027 303.857h2.538v2.526h-2.538zM227.631 306.333h2.538v2.526h-2.538zM250.027 306.333h2.538v2.526h-2.538zM257.492 306.333h2.538v2.526h-2.538zM220.165 308.81h5.027v2.526h-5.027zM255.004 308.81h2.538v2.526h-2.538zM222.654 311.286h2.538v2.526h-2.538zM227.631 311.286h5.027v2.526h-5.027zM259.981 311.286h5.027v2.526h-5.027zM274.912 311.286h2.538v2.526h-2.538zM215.188 313.762h2.538v2.526h-2.538zM227.631 313.762h2.538v2.526h-2.538zM247.538 313.762h2.538v2.526h-2.538zM225.142 316.238h2.538v2.526h-2.538zM240.073 316.238h2.538v2.526h-2.538zM259.981 316.238h2.538v2.526h-2.538zM269.935 316.238h2.538v2.526h-2.538zM230.119 318.714h5.027v2.526h-5.027zM247.538 318.714h2.538v2.526h-2.538zM269.935 318.714h2.538v2.526h-2.538zM274.912 318.714h2.538v2.526h-2.538zM227.631 321.19h2.538v2.526h-2.538zM242.562 321.19h2.538v2.526h-2.538zM247.538 321.19h2.538v2.526h-2.538zM257.492 321.19h2.538v2.526h-2.538zM227.631 323.667h2.538v2.526h-2.538zM252.515 323.667h2.538v2.526h-2.538zM212.7 326.143h2.538v2.526h-2.538zM227.631 326.143h2.538v2.526h-2.538zM237.585 326.143h2.538v2.526h-2.538zM217.677 328.619h2.538v2.526h-2.538zM237.585 328.619h2.538v2.526h-2.538zM220.165 331.095h5.027v2.526h-5.027zM235.096 331.095h2.538v2.526h-2.538zM247.538 331.095h2.538v2.526h-2.538zM252.515 331.095h2.538v2.526h-2.538zM247.538 333.571h2.538v2.526h-2.538zM259.981 333.571h2.538v2.526h-2.538zM272.423 333.571h2.538v2.526h-2.538zM227.631 336.048h2.538v2.526h-2.538zM232.608 336.048h2.538v2.526h-2.538zM245.05 336.048h2.538v2.526h-2.538zM264.958 336.048h2.538v2.526h-2.538zM269.935 336.048h2.538v2.526h-2.538zM227.631 338.524h2.538v2.526h-2.538zM259.981 338.524h2.538v2.526h-2.538zM264.958 338.524h2.538v2.526h-2.538z"/>
<path fill="#20ffdf" d="M212.7 289h2.538v2.526h-2.538zM242.562 293.952h2.538v2.526h-2.538zM220.165 298.905h5.027v2.526h-5.027zM259.981 298.905h2.538v2.526h-2.538zM272.423 298.905h2.538v2.526h-2.538zM235.096 303.857h2.538v2.526h-2.538zM259.981 306.333h2.538v2.526h-2.538zM217.677 313.762h2.538v2.526h-2.538zM220.165 316.238h2.538v2.526h-2.538zM215.188 321.19h2.538v2.526h-2.538zM274.912 321.19h2.538v2.526h-2.538zM242.562 323.667h2.538v2.526h-2.538zM274.912 331.095h2.538v2.526h-2.538zM272.423 338.524h2.538v2.526h-2.538z"/>
<path fill="#dfff20" d="M230.119 313.762h5.027v2.526h-5.027zM245.05 313.762h2.538v2.526h-2.538z"/>
<path fill="#ff0" d="M267.446 289h2.538v2.526h-2.538zM267.446 291.476h2.538v2.526h-2.538zM267.446 293.952h2.538v2.526h-2.538zM267.446 296.429h2.538v2.526h-2.538zM267.446 298.905h2.538v2.526h-2.538zM267.446 303.857h2.538v2.526h-2.538zM267.446 306.333h2.538v2.526h-2.538zM267.446 308.81h2.538v2.526h-2.538zM267.446 313.762h2.538v2.526h-2.538zM267.446 316.238h2.538v2.526h-2.538zM267.446 318.714h2.538v2.526h-2.538zM267.446 321.19h2.538v2.526h-2.538zM267.446 323.667h2.538v2.526h-2.538zM267.446 326.143h2.538v2.526h-2.538zM267.446 328.619h2.538v2.526h-2.538zM267.446 331.095h2.538v2.526h-2.538zM267.446 333.571h2.538v2.526h-2.538zM267.446 336.048h2.538v2.526h-2.538zM267.446 338.524h2.538v2.526h-2.538z"/>
<path fill="#ffdf00" d="M235.096 313.762h2.538v2.526h-2.538zM242.562 313.762h2.538v2.526h-2.538z"/>
<path fill="#ffbf00" d="M267.446 301.381h2.538v2.526h-2.538zM267.446 311.286h2.538v2.526h-2.538z"/>
<path fill="#ff9f00" d="M237.585 313.762h5.027v2.526h-5.027z"/>
</g>
<rect x="212.70" y="289.00" width="64.70" height="52.00" fill="none" stroke="#555" stroke-width=".3" stroke-opacity=".6"/>
<text x="212.20" y="292.20" text-anchor="end" style="font-size:1.7px;fill:#666">200</text>
<text x="212.20" y="297.40" text-anchor="end" style="font-size:1.7px;fill:#666">195</text>
<text x="212.20" y="302.60" text-anchor="end" style="font-size:1.7px;fill:#666">190</text>
<text x="212.20" y="307.80" text-anchor="end" style="font-size:1.7px;fill:#666">185</text>
<text x="212.20" y="313.00" text-anchor="end" style="font-size:1.7px;fill:#666">180</text>
<text x="212.20" y="318.20" text-anchor="end" style="font-size:1.7px;fill:#666">175</text>
<text x="212.20" y="323.40" text-anchor="end" style="font-size:1.7px;fill:#666">170</text>
<text x="212.20" y="328.60" text-anchor="end" style="font-size:1.7px;fill:#666">165</text>
<text x="212.20" y="333.80" text-anchor="end" style="font-size:1.7px;fill:#666">160</text>
<text x="212.20" y="339.00" text-anchor="end" style="font-size:1.7px;fill:#666">155</text>
<text x="221.11" y="343.20" text-anchor="middle" style="font-size:1.7px;fill:#666">0.3</text>
<text x="237.29" y="343.20" text-anchor="middle" style="font-size:1.7px;fill:#666">0.35</text>
<text x="253.46" y="343.20" text-anchor="middle" style="font-size:1.7px;fill:#666">0.4</text>
<text x="269.64" y="343.20" text-anchor="middle" style="font-size:1.7px;fill:#666">0.45</text>
<rect x="177.40" y="237.00" width="189.40" height="169.00" fill="none" stroke="#333" stroke-width=".5" stroke-opacity=".45"/>
<path d="M177.40 237.00v169.00h189.40" fill="none" stroke="#222" stroke-width=".5" stroke-opacity=".5"/>
<text class="t" x="175.80" y="391.90" text-anchor="end">100</text>
<text class="t" x="175.80" y="375.00" text-anchor="end">200</text>
<text class="t" x="175.80" y="358.10" text-anchor="end">300</text>
<text class="t" x="175.80" y="341.20" text-anchor="end">400</text>
<text class="t" x="175.80" y="324.30" text-anchor="end">500</text>
<text class="t" x="175.80" y="307.40" text-anchor="end">600</text>
<text class="t" x="175.80" y="290.50" text-anchor="end">700</text>
<text class="t" x="175.80" y="273.60" text-anchor="end">800</text>
<text class="t" x="175.80" y="256.70" text-anchor="end">900</text>
<text class="t" x="175.80" y="239.80" text-anchor="end">1000</text>
<text class="t" x="178.20" y="415.60" text-anchor="middle">-0.5</text>
<text class="t" x="272.10" y="415.60" text-anchor="middle">0</text>
<text class="t" x="366.80" y="415.60" text-anchor="middle">0.5</text>
<path d="M177.40 389.10h1.6M366.80 389.10h-1.6M177.40 372.20h1.6M366.80 372.20h-1.6M177.40 355.30h1.6M366.80 355.30h-1.6M177.40 338.40h1.6M366.80 338.40h-1.6M177.40 321.50h1.6M366.80 321.50h-1.6M177.40 304.60h1.6M366.80 304.60h-1.6M177.40 287.70h1.6M366.80 287.70h-1.6M177.40 270.80h1.6M366.80 270.80h-1.6M177.40 253.90h1.6M366.80 253.90h-1.6M177.40 237.00h1.6M366.80 237.00h-1.6M177.40 406.00v-1.6M177.40 237.00v1.6M272.10 406.00v-1.6M272.10 237.00v1.6M366.80 406.00v-1.6M366.80 237.00v1.6" stroke="#333" stroke-width=".4" fill="none" stroke-opacity=".45"/>
<text class="s" x="272.80" y="425.50" text-anchor="middle">Normalized Doppler Frequency</text>
<text class="s" transform="translate(157.30 321.50) rotate(-90)" text-anchor="middle">Range bins</text>
<rect x="375.60" y="237.00" width="10.80" height="169.00" fill="url(#jet)" stroke="#333" stroke-width=".4" stroke-opacity=".7"/>
<text class="t" x="388.20" y="240.00">40</text>
<text class="t" x="388.20" y="261.12">30</text>
<text class="t" x="388.20" y="282.25">20</text>
<text class="t" x="388.20" y="303.38">10</text>
<text class="t" x="388.20" y="324.50">0</text>
<text class="t" x="388.20" y="345.62">-10</text>
<text class="t" x="388.20" y="366.75">-20</text>
<text class="t" x="388.20" y="387.88">-30</text>
<text class="t" x="388.20" y="409.00">-40</text>
<text class="c" x="284.80" y="446.60" text-anchor="middle">(<tspan font-weight="bold">c</tspan>)</text>
</svg></body></html>
